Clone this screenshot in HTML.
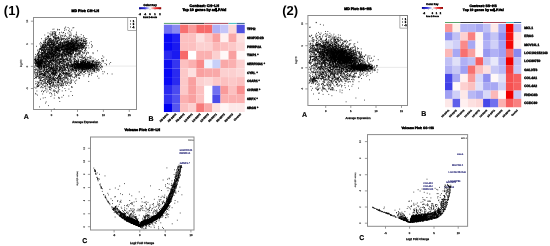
<!DOCTYPE html>
<html><head><meta charset="utf-8"><title>Figure</title>
<style>html,body{margin:0;padding:0;background:#fff;width:550px;height:246px;overflow:hidden}svg{display:block}</style>
</head><body>
<svg xmlns="http://www.w3.org/2000/svg" width="550" height="246" viewBox="0 0 550 246" font-family="Liberation Sans, Arial, sans-serif" text-rendering="geometricPrecision"><text x="11.8" y="14.7" font-size="13" text-anchor="middle" font-weight="bold" fill="#000">(1)</text>
<text x="290.2" y="14.7" font-size="13" text-anchor="middle" font-weight="bold" fill="#000">(2)</text>
<rect x="33.5" y="17.5" width="103.0" height="92.0" fill="none" stroke="#8c8c8c" stroke-width="1"/>
<text x="85.3" y="11.7" font-size="3.6" text-anchor="middle" font-weight="bold" fill="#000" stroke="#000" stroke-width="0.50">MD Plot: CH~LH</text>
<line x1="30.9" y1="21.2" x2="33.5" y2="21.2" stroke="#808080" stroke-width="0.8"/>
<text x="27.6" y="21.2" font-size="2.6" text-anchor="middle" fill="#333" stroke="#333" stroke-width="0.13" transform="rotate(-90 27.6 21.2)" dominant-baseline="central">10</text>
<line x1="30.9" y1="43.9" x2="33.5" y2="43.9" stroke="#808080" stroke-width="0.8"/>
<text x="27.6" y="43.9" font-size="2.6" text-anchor="middle" fill="#333" stroke="#333" stroke-width="0.13" transform="rotate(-90 27.6 43.9)" dominant-baseline="central">5</text>
<line x1="30.9" y1="66.4" x2="33.5" y2="66.4" stroke="#808080" stroke-width="0.8"/>
<text x="27.6" y="66.4" font-size="2.6" text-anchor="middle" fill="#333" stroke="#333" stroke-width="0.13" transform="rotate(-90 27.6 66.4)" dominant-baseline="central">0</text>
<line x1="30.9" y1="88.5" x2="33.5" y2="88.5" stroke="#808080" stroke-width="0.8"/>
<text x="27.6" y="88.5" font-size="2.6" text-anchor="middle" fill="#333" stroke="#333" stroke-width="0.13" transform="rotate(-90 27.6 88.5)" dominant-baseline="central">-5</text>
<line x1="51.4" y1="109.5" x2="51.4" y2="111.9" stroke="#808080" stroke-width="0.8"/>
<text x="51.4" y="116.3" font-size="2.7" text-anchor="middle" fill="#222" stroke="#222" stroke-width="0.27">0</text>
<line x1="77.5" y1="109.5" x2="77.5" y2="111.9" stroke="#808080" stroke-width="0.8"/>
<text x="77.5" y="116.3" font-size="2.7" text-anchor="middle" fill="#222" stroke="#222" stroke-width="0.27">5</text>
<line x1="103.4" y1="109.5" x2="103.4" y2="111.9" stroke="#808080" stroke-width="0.8"/>
<text x="103.4" y="116.3" font-size="2.7" text-anchor="middle" fill="#222" stroke="#222" stroke-width="0.27">10</text>
<line x1="129.3" y1="109.5" x2="129.3" y2="111.9" stroke="#808080" stroke-width="0.8"/>
<text x="129.3" y="116.3" font-size="2.7" text-anchor="middle" fill="#222" stroke="#222" stroke-width="0.27">15</text>
<text x="85.2" y="123.3" font-size="2.9" text-anchor="middle" fill="#111" stroke="#111" stroke-width="0.29">Average Expression</text>
<text x="20.7" y="63.3" font-size="2.85" text-anchor="middle" fill="#444" stroke="#444" stroke-width="0.17" transform="rotate(-90 20.7 63.3)" dominant-baseline="central">logFC</text>
<rect x="127.8" y="17.6" width="8.799999999999997" height="12.799999999999997" fill="none" stroke="#777" stroke-width="0.6"/>
<text x="130.4" y="21.8" font-size="3" text-anchor="middle" font-weight="bold" fill="#000" stroke="#000" stroke-width="0.42">&#183;</text>
<text x="133.4" y="21.8" font-size="2.6" text-anchor="middle" font-weight="bold" fill="#000" stroke="#000" stroke-width="0.36">1</text>
<text x="130.4" y="24.900000000000002" font-size="3" text-anchor="middle" font-weight="bold" fill="#000" stroke="#000" stroke-width="0.42">&#183;</text>
<text x="133.4" y="24.900000000000002" font-size="2.6" text-anchor="middle" font-weight="bold" fill="#000" stroke="#000" stroke-width="0.36">0</text>
<text x="130.4" y="28.0" font-size="3" text-anchor="middle" font-weight="bold" fill="#000" stroke="#000" stroke-width="0.42">&#183;</text>
<text x="133.4" y="28.0" font-size="2.6" text-anchor="middle" font-weight="bold" fill="#000" stroke="#000" stroke-width="0.36">-1</text>
<text x="26.2" y="119.2" font-size="7" text-anchor="middle" font-weight="bold" fill="#000" stroke="#000" stroke-width="0.14">A</text>
<line x1="34" y1="66.1" x2="136" y2="66.1" stroke="#e4e4e4" stroke-width="0.8"/>
<rect x="307.9" y="15.5" width="99.60000000000002" height="90.0" fill="none" stroke="#8c8c8c" stroke-width="1"/>
<text x="358" y="9.7" font-size="3.6" text-anchor="middle" font-weight="bold" fill="#000" stroke="#000" stroke-width="0.50">MD Plot: SS~HS</text>
<line x1="305.29999999999995" y1="23.8" x2="307.9" y2="23.8" stroke="#808080" stroke-width="0.8"/>
<text x="302.2" y="23.8" font-size="2.6" text-anchor="middle" fill="#333" stroke="#333" stroke-width="0.13" transform="rotate(-90 302.2 23.8)" dominant-baseline="central">10</text>
<line x1="305.29999999999995" y1="45.7" x2="307.9" y2="45.7" stroke="#808080" stroke-width="0.8"/>
<text x="302.2" y="45.7" font-size="2.6" text-anchor="middle" fill="#333" stroke="#333" stroke-width="0.13" transform="rotate(-90 302.2 45.7)" dominant-baseline="central">5</text>
<line x1="305.29999999999995" y1="67.7" x2="307.9" y2="67.7" stroke="#808080" stroke-width="0.8"/>
<text x="302.2" y="67.7" font-size="2.6" text-anchor="middle" fill="#333" stroke="#333" stroke-width="0.13" transform="rotate(-90 302.2 67.7)" dominant-baseline="central">0</text>
<line x1="305.29999999999995" y1="88.9" x2="307.9" y2="88.9" stroke="#808080" stroke-width="0.8"/>
<text x="302.2" y="88.9" font-size="2.6" text-anchor="middle" fill="#333" stroke="#333" stroke-width="0.13" transform="rotate(-90 302.2 88.9)" dominant-baseline="central">-5</text>
<line x1="325.7" y1="105.5" x2="325.7" y2="107.9" stroke="#808080" stroke-width="0.8"/>
<text x="325.7" y="111.8" font-size="2.7" text-anchor="middle" fill="#222" stroke="#222" stroke-width="0.27">0</text>
<line x1="350.8" y1="105.5" x2="350.8" y2="107.9" stroke="#808080" stroke-width="0.8"/>
<text x="350.8" y="111.8" font-size="2.7" text-anchor="middle" fill="#222" stroke="#222" stroke-width="0.27">5</text>
<line x1="376" y1="105.5" x2="376" y2="107.9" stroke="#808080" stroke-width="0.8"/>
<text x="376" y="111.8" font-size="2.7" text-anchor="middle" fill="#222" stroke="#222" stroke-width="0.27">10</text>
<line x1="401.5" y1="105.5" x2="401.5" y2="107.9" stroke="#808080" stroke-width="0.8"/>
<text x="401.5" y="111.8" font-size="2.7" text-anchor="middle" fill="#222" stroke="#222" stroke-width="0.27">15</text>
<text x="358" y="119.3" font-size="2.8129999999999997" text-anchor="middle" fill="#111" stroke="#111" stroke-width="0.28">Average Expression</text>
<text x="296.1" y="60" font-size="2.7645" text-anchor="middle" fill="#444" stroke="#444" stroke-width="0.17" transform="rotate(-90 296.1 60)" dominant-baseline="central">logFC</text>
<rect x="399.9" y="15.5" width="7.600000000000023" height="12.600000000000001" fill="none" stroke="#777" stroke-width="0.6"/>
<text x="402.5" y="19.7" font-size="3" text-anchor="middle" font-weight="bold" fill="#000" stroke="#000" stroke-width="0.42">&#183;</text>
<text x="405.5" y="19.7" font-size="2.6" text-anchor="middle" font-weight="bold" fill="#000" stroke="#000" stroke-width="0.36">1</text>
<text x="402.5" y="22.8" font-size="3" text-anchor="middle" font-weight="bold" fill="#000" stroke="#000" stroke-width="0.42">&#183;</text>
<text x="405.5" y="22.8" font-size="2.6" text-anchor="middle" font-weight="bold" fill="#000" stroke="#000" stroke-width="0.36">0</text>
<text x="402.5" y="25.9" font-size="3" text-anchor="middle" font-weight="bold" fill="#000" stroke="#000" stroke-width="0.42">&#183;</text>
<text x="405.5" y="25.9" font-size="2.6" text-anchor="middle" font-weight="bold" fill="#000" stroke="#000" stroke-width="0.36">-1</text>
<text x="304.6" y="116.7" font-size="7" text-anchor="middle" font-weight="bold" fill="#000" stroke="#000" stroke-width="0.14">A</text>
<line x1="308.5" y1="67.4" x2="407" y2="67.4" stroke="#e4e4e4" stroke-width="0.8"/>
<rect x="163.90" y="24.70" width="8.13" height="8.78" fill="#7070f0"/>
<rect x="171.98" y="24.70" width="8.13" height="8.78" fill="#8a8af0"/>
<rect x="180.06" y="24.70" width="8.13" height="8.78" fill="#f77070"/>
<rect x="188.14" y="24.70" width="8.13" height="8.78" fill="#f99a9a"/>
<rect x="196.22" y="24.70" width="8.13" height="8.78" fill="#f76a6a"/>
<rect x="204.30" y="24.70" width="8.13" height="8.78" fill="#f76a6a"/>
<rect x="212.38" y="24.70" width="8.13" height="8.78" fill="#b0b0f5"/>
<rect x="220.46" y="24.70" width="8.13" height="8.78" fill="#c5c5f8"/>
<rect x="228.54" y="24.70" width="8.13" height="8.78" fill="#fcd8d8"/>
<rect x="236.62" y="24.70" width="8.13" height="8.78" fill="#5050e0"/>
<rect x="163.90" y="33.43" width="8.13" height="8.78" fill="#0a0af5"/>
<rect x="171.98" y="33.43" width="8.13" height="8.78" fill="#1e1ef5"/>
<rect x="180.06" y="33.43" width="8.13" height="8.78" fill="#fcc0c0"/>
<rect x="188.14" y="33.43" width="8.13" height="8.78" fill="#fcc0c0"/>
<rect x="196.22" y="33.43" width="8.13" height="8.78" fill="#fde0e0"/>
<rect x="204.30" y="33.43" width="8.13" height="8.78" fill="#fcc8c8"/>
<rect x="212.38" y="33.43" width="8.13" height="8.78" fill="#f9a0a0"/>
<rect x="220.46" y="33.43" width="8.13" height="8.78" fill="#fff0f0"/>
<rect x="228.54" y="33.43" width="8.13" height="8.78" fill="#f9a8a8"/>
<rect x="236.62" y="33.43" width="8.13" height="8.78" fill="#fde0e0"/>
<rect x="163.90" y="42.16" width="8.13" height="8.78" fill="#0808f5"/>
<rect x="171.98" y="42.16" width="8.13" height="8.78" fill="#1a1af0"/>
<rect x="180.06" y="42.16" width="8.13" height="8.78" fill="#fcc0c0"/>
<rect x="188.14" y="42.16" width="8.13" height="8.78" fill="#fcc0c0"/>
<rect x="196.22" y="42.16" width="8.13" height="8.78" fill="#fcd0d0"/>
<rect x="204.30" y="42.16" width="8.13" height="8.78" fill="#fcd0d0"/>
<rect x="212.38" y="42.16" width="8.13" height="8.78" fill="#fbb8b8"/>
<rect x="220.46" y="42.16" width="8.13" height="8.78" fill="#fcc0c0"/>
<rect x="228.54" y="42.16" width="8.13" height="8.78" fill="#fcc8c8"/>
<rect x="236.62" y="42.16" width="8.13" height="8.78" fill="#fcd8d8"/>
<rect x="163.90" y="50.89" width="8.13" height="8.78" fill="#2828f0"/>
<rect x="171.98" y="50.89" width="8.13" height="8.78" fill="#1a1af0"/>
<rect x="180.06" y="50.89" width="8.13" height="8.78" fill="#f76a6a"/>
<rect x="188.14" y="50.89" width="8.13" height="8.78" fill="#ffffff"/>
<rect x="196.22" y="50.89" width="8.13" height="8.78" fill="#fbb0b0"/>
<rect x="204.30" y="50.89" width="8.13" height="8.78" fill="#fbb0b0"/>
<rect x="212.38" y="50.89" width="8.13" height="8.78" fill="#fcd0d0"/>
<rect x="220.46" y="50.89" width="8.13" height="8.78" fill="#fff8f8"/>
<rect x="228.54" y="50.89" width="8.13" height="8.78" fill="#f9a0a0"/>
<rect x="236.62" y="50.89" width="8.13" height="8.78" fill="#fff8f8"/>
<rect x="163.90" y="59.62" width="8.13" height="8.78" fill="#1010f0"/>
<rect x="171.98" y="59.62" width="8.13" height="8.78" fill="#3535f0"/>
<rect x="180.06" y="59.62" width="8.13" height="8.78" fill="#fcc0c0"/>
<rect x="188.14" y="59.62" width="8.13" height="8.78" fill="#fbb0b0"/>
<rect x="196.22" y="59.62" width="8.13" height="8.78" fill="#f98a8a"/>
<rect x="204.30" y="59.62" width="8.13" height="8.78" fill="#f0f4ff"/>
<rect x="212.38" y="59.62" width="8.13" height="8.78" fill="#c8d0f8"/>
<rect x="220.46" y="59.62" width="8.13" height="8.78" fill="#f9a8a8"/>
<rect x="228.54" y="59.62" width="8.13" height="8.78" fill="#fbb0b0"/>
<rect x="236.62" y="59.62" width="8.13" height="8.78" fill="#fcd0d0"/>
<rect x="163.90" y="68.35" width="8.13" height="8.78" fill="#0808f5"/>
<rect x="171.98" y="68.35" width="8.13" height="8.78" fill="#2a2af0"/>
<rect x="180.06" y="68.35" width="8.13" height="8.78" fill="#fcc8c8"/>
<rect x="188.14" y="68.35" width="8.13" height="8.78" fill="#fde0e0"/>
<rect x="196.22" y="68.35" width="8.13" height="8.78" fill="#f9a0a0"/>
<rect x="204.30" y="68.35" width="8.13" height="8.78" fill="#f9a8a8"/>
<rect x="212.38" y="68.35" width="8.13" height="8.78" fill="#f9a8a8"/>
<rect x="220.46" y="68.35" width="8.13" height="8.78" fill="#fcd0d0"/>
<rect x="228.54" y="68.35" width="8.13" height="8.78" fill="#fcd0d0"/>
<rect x="236.62" y="68.35" width="8.13" height="8.78" fill="#fcd8d8"/>
<rect x="163.90" y="77.08" width="8.13" height="8.78" fill="#0a0af5"/>
<rect x="171.98" y="77.08" width="8.13" height="8.78" fill="#2a2af0"/>
<rect x="180.06" y="77.08" width="8.13" height="8.78" fill="#fcc8c8"/>
<rect x="188.14" y="77.08" width="8.13" height="8.78" fill="#f9a0a0"/>
<rect x="196.22" y="77.08" width="8.13" height="8.78" fill="#fcd0d0"/>
<rect x="204.30" y="77.08" width="8.13" height="8.78" fill="#fcd8d8"/>
<rect x="212.38" y="77.08" width="8.13" height="8.78" fill="#fcc8c8"/>
<rect x="220.46" y="77.08" width="8.13" height="8.78" fill="#fcc0c0"/>
<rect x="228.54" y="77.08" width="8.13" height="8.78" fill="#fcc8c8"/>
<rect x="236.62" y="77.08" width="8.13" height="8.78" fill="#fcc0c0"/>
<rect x="163.90" y="85.81" width="8.13" height="8.78" fill="#2a2af0"/>
<rect x="171.98" y="85.81" width="8.13" height="8.78" fill="#4a4af0"/>
<rect x="180.06" y="85.81" width="8.13" height="8.78" fill="#fcc8c8"/>
<rect x="188.14" y="85.81" width="8.13" height="8.78" fill="#f9a0a0"/>
<rect x="196.22" y="85.81" width="8.13" height="8.78" fill="#fcc0c0"/>
<rect x="204.30" y="85.81" width="8.13" height="8.78" fill="#ffffff"/>
<rect x="212.38" y="85.81" width="8.13" height="8.78" fill="#7070f0"/>
<rect x="220.46" y="85.81" width="8.13" height="8.78" fill="#f99a9a"/>
<rect x="228.54" y="85.81" width="8.13" height="8.78" fill="#fcc0c0"/>
<rect x="236.62" y="85.81" width="8.13" height="8.78" fill="#f99090"/>
<rect x="163.90" y="94.54" width="8.13" height="8.78" fill="#3030f0"/>
<rect x="171.98" y="94.54" width="8.13" height="8.78" fill="#5050f0"/>
<rect x="180.06" y="94.54" width="8.13" height="8.78" fill="#fbb0b0"/>
<rect x="188.14" y="94.54" width="8.13" height="8.78" fill="#f9a0a0"/>
<rect x="196.22" y="94.54" width="8.13" height="8.78" fill="#fcc0c0"/>
<rect x="204.30" y="94.54" width="8.13" height="8.78" fill="#ffffff"/>
<rect x="212.38" y="94.54" width="8.13" height="8.78" fill="#4a4ae8"/>
<rect x="220.46" y="94.54" width="8.13" height="8.78" fill="#fbb0b0"/>
<rect x="228.54" y="94.54" width="8.13" height="8.78" fill="#fbb0b0"/>
<rect x="236.62" y="94.54" width="8.13" height="8.78" fill="#fbb0b0"/>
<rect x="163.90" y="103.27" width="8.13" height="8.78" fill="#0000f0"/>
<rect x="171.98" y="103.27" width="8.13" height="8.78" fill="#5555f0"/>
<rect x="180.06" y="103.27" width="8.13" height="8.78" fill="#fcc0c0"/>
<rect x="188.14" y="103.27" width="8.13" height="8.78" fill="#fcd0d0"/>
<rect x="196.22" y="103.27" width="8.13" height="8.78" fill="#f77a7a"/>
<rect x="204.30" y="103.27" width="8.13" height="8.78" fill="#f9a8a8"/>
<rect x="212.38" y="103.27" width="8.13" height="8.78" fill="#fde0e0"/>
<rect x="220.46" y="103.27" width="8.13" height="8.78" fill="#fff5f5"/>
<rect x="228.54" y="103.27" width="8.13" height="8.78" fill="#fde8e8"/>
<rect x="236.62" y="103.27" width="8.13" height="8.78" fill="#fde8e8"/>
<rect x="163.9" y="22.9" width="16.19999999999999" height="1" fill="#5aa36a"/>
<rect x="180.1" y="22.9" width="24.200000000000017" height="1" fill="#333333"/>
<rect x="204.3" y="22.9" width="24.19999999999999" height="1" fill="#a84a5a"/>
<rect x="228.5" y="22.9" width="8.099999999999994" height="1" fill="#3fbfbf"/>
<rect x="236.6" y="22.9" width="8.099999999999994" height="1" fill="#2f5f8f"/>
<text x="246.9" y="30.064999999999998" font-size="3.2" text-anchor="start" font-weight="bold" fill="#111" stroke="#111" stroke-width="0.45">TFPI2</text>
<text x="246.9" y="38.795" font-size="3.2" text-anchor="start" font-weight="bold" fill="#111" stroke="#111" stroke-width="0.45">SH3PXD2B</text>
<text x="246.9" y="47.525000000000006" font-size="3.2" text-anchor="start" font-weight="bold" fill="#111" stroke="#111" stroke-width="0.45">PWWP2A</text>
<text x="246.9" y="56.254999999999995" font-size="3.2" text-anchor="start" font-weight="bold" fill="#111" stroke="#111" stroke-width="0.45">TIMP1 *</text>
<text x="246.9" y="64.985" font-size="3.2" text-anchor="start" font-weight="bold" fill="#111" stroke="#111" stroke-width="0.45">SERPINA1 *</text>
<text x="246.9" y="73.715" font-size="3.2" text-anchor="start" font-weight="bold" fill="#111" stroke="#111" stroke-width="0.45">CYRL *</text>
<text x="246.9" y="82.44500000000001" font-size="3.2" text-anchor="start" font-weight="bold" fill="#111" stroke="#111" stroke-width="0.45">CSAR1 *</text>
<text x="246.9" y="91.17500000000001" font-size="3.2" text-anchor="start" font-weight="bold" fill="#111" stroke="#111" stroke-width="0.45">CHRNE *</text>
<text x="246.9" y="99.905" font-size="3.2" text-anchor="start" font-weight="bold" fill="#111" stroke="#111" stroke-width="0.45">SRPX *</text>
<text x="246.9" y="108.635" font-size="3.2" text-anchor="start" font-weight="bold" fill="#111" stroke="#111" stroke-width="0.45">SRGN *</text>
<text x="168.54" y="114.5" font-size="2.6" text-anchor="end" font-weight="bold" fill="#222" stroke="#222" stroke-width="0.36" transform="rotate(-45 168.54 114.5)">HS-SSY1</text>
<text x="176.62" y="114.5" font-size="2.6" text-anchor="end" font-weight="bold" fill="#222" stroke="#222" stroke-width="0.36" transform="rotate(-45 176.62 114.5)">HS-SSY2</text>
<text x="184.7" y="114.5" font-size="2.6" text-anchor="end" font-weight="bold" fill="#222" stroke="#222" stroke-width="0.36" transform="rotate(-45 184.7 114.5)">HS-SSY3</text>
<text x="192.78" y="114.5" font-size="2.6" text-anchor="end" font-weight="bold" fill="#222" stroke="#222" stroke-width="0.36" transform="rotate(-45 192.78 114.5)">LH-SSY1</text>
<text x="200.86" y="114.5" font-size="2.6" text-anchor="end" font-weight="bold" fill="#222" stroke="#222" stroke-width="0.36" transform="rotate(-45 200.86 114.5)">LH-SSY2</text>
<text x="208.94" y="114.5" font-size="2.6" text-anchor="end" font-weight="bold" fill="#222" stroke="#222" stroke-width="0.36" transform="rotate(-45 208.94 114.5)">LH-SSY3</text>
<text x="217.02" y="114.5" font-size="2.6" text-anchor="end" font-weight="bold" fill="#222" stroke="#222" stroke-width="0.36" transform="rotate(-45 217.02 114.5)">SS-SSY1</text>
<text x="225.1" y="114.5" font-size="2.6" text-anchor="end" font-weight="bold" fill="#222" stroke="#222" stroke-width="0.36" transform="rotate(-45 225.1 114.5)">SS-SSY2</text>
<text x="233.18" y="114.5" font-size="2.6" text-anchor="end" font-weight="bold" fill="#222" stroke="#222" stroke-width="0.36" transform="rotate(-45 233.18 114.5)">SS-SSY3</text>
<text x="241.26" y="114.5" font-size="2.6" text-anchor="end" font-weight="bold" fill="#222" stroke="#222" stroke-width="0.36" transform="rotate(-45 241.26 114.5)">Control</text>
<defs><linearGradient id="g139" x1="0" x2="1" y1="0" y2="0"><stop offset="0" stop-color="#00008b"/><stop offset="0.25" stop-color="#3030e0"/><stop offset="0.5" stop-color="#ffffff"/><stop offset="0.75" stop-color="#f03030"/><stop offset="1" stop-color="#8b0000"/></linearGradient></defs>
<rect x="139.05" y="7.2" width="22.149999999999977" height="1.9999999999999991" fill="url(#g139)"/>
<text x="150.125" y="5.6" font-size="2.8" text-anchor="middle" font-weight="bold" fill="#000" stroke="#000" stroke-width="0.39">Color Key</text>
<line x1="139.9" y1="9.2" x2="139.9" y2="10.1" stroke="#555" stroke-width="0.4"/>
<text x="139.9" y="14.5" font-size="2.5" text-anchor="middle" font-weight="bold" fill="#000" stroke="#000" stroke-width="0.35">-2</text>
<line x1="145.1" y1="9.2" x2="145.1" y2="10.1" stroke="#555" stroke-width="0.4"/>
<text x="145.1" y="14.5" font-size="2.5" text-anchor="middle" font-weight="bold" fill="#000" stroke="#000" stroke-width="0.35">-1</text>
<line x1="150" y1="9.2" x2="150" y2="10.1" stroke="#555" stroke-width="0.4"/>
<text x="150" y="14.5" font-size="2.5" text-anchor="middle" font-weight="bold" fill="#000" stroke="#000" stroke-width="0.35">0</text>
<line x1="155" y1="9.2" x2="155" y2="10.1" stroke="#555" stroke-width="0.4"/>
<text x="155" y="14.5" font-size="2.5" text-anchor="middle" font-weight="bold" fill="#000" stroke="#000" stroke-width="0.35">1</text>
<line x1="159.9" y1="9.2" x2="159.9" y2="10.1" stroke="#555" stroke-width="0.4"/>
<text x="159.9" y="14.5" font-size="2.5" text-anchor="middle" font-weight="bold" fill="#000" stroke="#000" stroke-width="0.35">2</text>
<text x="150.125" y="17.7" font-size="2.3" text-anchor="middle" font-weight="bold" fill="#000" stroke="#000" stroke-width="0.32">Row Z-Score</text>
<text x="204.3" y="6.7" font-size="3.65" text-anchor="middle" font-weight="bold" fill="#000" stroke="#000" stroke-width="0.51">Contrast: CH~LH</text>
<text x="204.3" y="10.7" font-size="3.65" text-anchor="middle" font-weight="bold" fill="#000" stroke="#000" stroke-width="0.51">Top 10 genes by adj.P.Val</text>
<text x="151.1" y="121.3" font-size="7" text-anchor="middle" font-weight="bold" fill="#000" stroke="#000" stroke-width="0.14">B</text>
<rect x="445.00" y="23.90" width="7.67" height="8.38" fill="#f99595"/>
<rect x="452.62" y="23.90" width="7.67" height="8.38" fill="#fdf0ea"/>
<rect x="460.24" y="23.90" width="7.67" height="8.38" fill="#b5b5f5"/>
<rect x="467.86" y="23.90" width="7.67" height="8.38" fill="#b5b5f5"/>
<rect x="475.48" y="23.90" width="7.67" height="8.38" fill="#a8a8f3"/>
<rect x="483.10" y="23.90" width="7.67" height="8.38" fill="#c0c0f5"/>
<rect x="490.72" y="23.90" width="7.67" height="8.38" fill="#fde8e8"/>
<rect x="498.34" y="23.90" width="7.67" height="8.38" fill="#a8a8f3"/>
<rect x="505.96" y="23.90" width="7.67" height="8.38" fill="#f50000"/>
<rect x="513.58" y="23.90" width="7.67" height="8.38" fill="#b8b8f5"/>
<rect x="445.00" y="32.23" width="7.67" height="8.38" fill="#8f8ff0"/>
<rect x="452.62" y="32.23" width="7.67" height="8.38" fill="#c0c0f5"/>
<rect x="460.24" y="32.23" width="7.67" height="8.38" fill="#fdd0d0"/>
<rect x="467.86" y="32.23" width="7.67" height="8.38" fill="#f98080"/>
<rect x="475.48" y="32.23" width="7.67" height="8.38" fill="#fff5f0"/>
<rect x="483.10" y="32.23" width="7.67" height="8.38" fill="#a5a5f3"/>
<rect x="490.72" y="32.23" width="7.67" height="8.38" fill="#c5c5f5"/>
<rect x="498.34" y="32.23" width="7.67" height="8.38" fill="#9090f0"/>
<rect x="505.96" y="32.23" width="7.67" height="8.38" fill="#f81010"/>
<rect x="513.58" y="32.23" width="7.67" height="8.38" fill="#fde8e8"/>
<rect x="445.00" y="40.56" width="7.67" height="8.38" fill="#e0e0f8"/>
<rect x="452.62" y="40.56" width="7.67" height="8.38" fill="#d0d0f8"/>
<rect x="460.24" y="40.56" width="7.67" height="8.38" fill="#f98a8a"/>
<rect x="467.86" y="40.56" width="7.67" height="8.38" fill="#a8a8f3"/>
<rect x="475.48" y="40.56" width="7.67" height="8.38" fill="#fff8f8"/>
<rect x="483.10" y="40.56" width="7.67" height="8.38" fill="#b0b0f5"/>
<rect x="490.72" y="40.56" width="7.67" height="8.38" fill="#d0d0f8"/>
<rect x="498.34" y="40.56" width="7.67" height="8.38" fill="#a0a0f3"/>
<rect x="505.96" y="40.56" width="7.67" height="8.38" fill="#f50808"/>
<rect x="513.58" y="40.56" width="7.67" height="8.38" fill="#fdf0f0"/>
<rect x="445.00" y="48.89" width="7.67" height="8.38" fill="#fbb8b8"/>
<rect x="452.62" y="48.89" width="7.67" height="8.38" fill="#a8a8f3"/>
<rect x="460.24" y="48.89" width="7.67" height="8.38" fill="#f77070"/>
<rect x="467.86" y="48.89" width="7.67" height="8.38" fill="#f9a0a0"/>
<rect x="475.48" y="48.89" width="7.67" height="8.38" fill="#fff8f8"/>
<rect x="483.10" y="48.89" width="7.67" height="8.38" fill="#9898f0"/>
<rect x="490.72" y="48.89" width="7.67" height="8.38" fill="#b0b0f5"/>
<rect x="498.34" y="48.89" width="7.67" height="8.38" fill="#a0a0f3"/>
<rect x="505.96" y="48.89" width="7.67" height="8.38" fill="#f77070"/>
<rect x="513.58" y="48.89" width="7.67" height="8.38" fill="#8888f0"/>
<rect x="445.00" y="57.22" width="7.67" height="8.38" fill="#c0c0f5"/>
<rect x="452.62" y="57.22" width="7.67" height="8.38" fill="#e0e0f8"/>
<rect x="460.24" y="57.22" width="7.67" height="8.38" fill="#b0b0f5"/>
<rect x="467.86" y="57.22" width="7.67" height="8.38" fill="#c0c0f5"/>
<rect x="475.48" y="57.22" width="7.67" height="8.38" fill="#f76060"/>
<rect x="483.10" y="57.22" width="7.67" height="8.38" fill="#c8c8f5"/>
<rect x="490.72" y="57.22" width="7.67" height="8.38" fill="#e8e8fa"/>
<rect x="498.34" y="57.22" width="7.67" height="8.38" fill="#b0b0f5"/>
<rect x="505.96" y="57.22" width="7.67" height="8.38" fill="#f00000"/>
<rect x="513.58" y="57.22" width="7.67" height="8.38" fill="#c0c0f5"/>
<rect x="445.00" y="65.55" width="7.67" height="8.38" fill="#b0b0f5"/>
<rect x="452.62" y="65.55" width="7.67" height="8.38" fill="#c8c8f5"/>
<rect x="460.24" y="65.55" width="7.67" height="8.38" fill="#a0a0f3"/>
<rect x="467.86" y="65.55" width="7.67" height="8.38" fill="#f77070"/>
<rect x="475.48" y="65.55" width="7.67" height="8.38" fill="#fbc0c0"/>
<rect x="483.10" y="65.55" width="7.67" height="8.38" fill="#fde0e0"/>
<rect x="490.72" y="65.55" width="7.67" height="8.38" fill="#c8c8f5"/>
<rect x="498.34" y="65.55" width="7.67" height="8.38" fill="#b8b8f5"/>
<rect x="505.96" y="65.55" width="7.67" height="8.38" fill="#f54040"/>
<rect x="513.58" y="65.55" width="7.67" height="8.38" fill="#c8c8f5"/>
<rect x="445.00" y="73.88" width="7.67" height="8.38" fill="#4848e8"/>
<rect x="452.62" y="73.88" width="7.67" height="8.38" fill="#a8a8f3"/>
<rect x="460.24" y="73.88" width="7.67" height="8.38" fill="#fff0f0"/>
<rect x="467.86" y="73.88" width="7.67" height="8.38" fill="#f99a9a"/>
<rect x="475.48" y="73.88" width="7.67" height="8.38" fill="#d8d8f8"/>
<rect x="483.10" y="73.88" width="7.67" height="8.38" fill="#9090f0"/>
<rect x="490.72" y="73.88" width="7.67" height="8.38" fill="#fff8f8"/>
<rect x="498.34" y="73.88" width="7.67" height="8.38" fill="#e0e0f8"/>
<rect x="505.96" y="73.88" width="7.67" height="8.38" fill="#f75050"/>
<rect x="513.58" y="73.88" width="7.67" height="8.38" fill="#f76060"/>
<rect x="445.00" y="82.21" width="7.67" height="8.38" fill="#4040e8"/>
<rect x="452.62" y="82.21" width="7.67" height="8.38" fill="#fff8f8"/>
<rect x="460.24" y="82.21" width="7.67" height="8.38" fill="#fdd0d0"/>
<rect x="467.86" y="82.21" width="7.67" height="8.38" fill="#fbc0c0"/>
<rect x="475.48" y="82.21" width="7.67" height="8.38" fill="#e0e0f8"/>
<rect x="483.10" y="82.21" width="7.67" height="8.38" fill="#a8a8f3"/>
<rect x="490.72" y="82.21" width="7.67" height="8.38" fill="#a8a8f3"/>
<rect x="498.34" y="82.21" width="7.67" height="8.38" fill="#d0d0f8"/>
<rect x="505.96" y="82.21" width="7.67" height="8.38" fill="#f75050"/>
<rect x="513.58" y="82.21" width="7.67" height="8.38" fill="#f76060"/>
<rect x="445.00" y="90.54" width="7.67" height="8.38" fill="#a0a0f3"/>
<rect x="452.62" y="90.54" width="7.67" height="8.38" fill="#d0d0f8"/>
<rect x="460.24" y="90.54" width="7.67" height="8.38" fill="#fde8e8"/>
<rect x="467.86" y="90.54" width="7.67" height="8.38" fill="#b8b8f5"/>
<rect x="475.48" y="90.54" width="7.67" height="8.38" fill="#a8a8f3"/>
<rect x="483.10" y="90.54" width="7.67" height="8.38" fill="#d8d8f8"/>
<rect x="490.72" y="90.54" width="7.67" height="8.38" fill="#fbb8b8"/>
<rect x="498.34" y="90.54" width="7.67" height="8.38" fill="#fff8f8"/>
<rect x="505.96" y="90.54" width="7.67" height="8.38" fill="#f00000"/>
<rect x="513.58" y="90.54" width="7.67" height="8.38" fill="#c8c8f5"/>
<rect x="445.00" y="98.87" width="7.67" height="8.38" fill="#fde8e8"/>
<rect x="452.62" y="98.87" width="7.67" height="8.38" fill="#6060ea"/>
<rect x="460.24" y="98.87" width="7.67" height="8.38" fill="#fff0f0"/>
<rect x="467.86" y="98.87" width="7.67" height="8.38" fill="#fde0e0"/>
<rect x="475.48" y="98.87" width="7.67" height="8.38" fill="#fdd8d8"/>
<rect x="483.10" y="98.87" width="7.67" height="8.38" fill="#4848e8"/>
<rect x="490.72" y="98.87" width="7.67" height="8.38" fill="#7070ee"/>
<rect x="498.34" y="98.87" width="7.67" height="8.38" fill="#fbb0b0"/>
<rect x="505.96" y="98.87" width="7.67" height="8.38" fill="#f76060"/>
<rect x="513.58" y="98.87" width="7.67" height="8.38" fill="#f98080"/>
<rect x="445" y="22" width="15.199999999999989" height="1" fill="#5aa36a"/>
<rect x="460.2" y="22" width="22.900000000000034" height="1" fill="#333333"/>
<rect x="483.1" y="22" width="22.899999999999977" height="1" fill="#a84a5a"/>
<rect x="506" y="22" width="7.600000000000023" height="1" fill="#3fbfbf"/>
<rect x="513.6" y="22" width="7.600000000000023" height="1" fill="#2f5f8f"/>
<text x="524.2" y="29.064999999999998" font-size="3.3" text-anchor="start" font-weight="bold" fill="#111" stroke="#111" stroke-width="0.46">MCL1</text>
<text x="524.2" y="37.394999999999996" font-size="3.3" text-anchor="start" font-weight="bold" fill="#111" stroke="#111" stroke-width="0.46">ERAS</text>
<text x="524.2" y="45.724999999999994" font-size="3.3" text-anchor="start" font-weight="bold" fill="#111" stroke="#111" stroke-width="0.46">MOV10L1</text>
<text x="524.2" y="54.055" font-size="3.3" text-anchor="start" font-weight="bold" fill="#111" stroke="#111" stroke-width="0.46">LOC102152143</text>
<text x="524.2" y="62.385" font-size="3.3" text-anchor="start" font-weight="bold" fill="#111" stroke="#111" stroke-width="0.46">LOC80750</text>
<text x="524.2" y="70.715" font-size="3.3" text-anchor="start" font-weight="bold" fill="#111" stroke="#111" stroke-width="0.46">GALNT6</text>
<text x="524.2" y="79.045" font-size="3.3" text-anchor="start" font-weight="bold" fill="#111" stroke="#111" stroke-width="0.46">COL4A1</text>
<text x="524.2" y="87.375" font-size="3.3" text-anchor="start" font-weight="bold" fill="#111" stroke="#111" stroke-width="0.46">COL4A2</text>
<text x="524.2" y="95.70500000000001" font-size="3.3" text-anchor="start" font-weight="bold" fill="#111" stroke="#111" stroke-width="0.46">FNDC3B</text>
<text x="524.2" y="104.035" font-size="3.3" text-anchor="start" font-weight="bold" fill="#111" stroke="#111" stroke-width="0.46">CCDC80</text>
<text x="449.41" y="110.5" font-size="2.35" text-anchor="end" font-weight="bold" fill="#222" stroke="#222" stroke-width="0.33" transform="rotate(-45 449.41 110.5)">HS-SSY1</text>
<text x="457.03" y="110.5" font-size="2.35" text-anchor="end" font-weight="bold" fill="#222" stroke="#222" stroke-width="0.33" transform="rotate(-45 457.03 110.5)">HS-SSY2</text>
<text x="464.65" y="110.5" font-size="2.35" text-anchor="end" font-weight="bold" fill="#222" stroke="#222" stroke-width="0.33" transform="rotate(-45 464.65 110.5)">HS-SSY3</text>
<text x="472.27" y="110.5" font-size="2.35" text-anchor="end" font-weight="bold" fill="#222" stroke="#222" stroke-width="0.33" transform="rotate(-45 472.27 110.5)">LH-SSY1</text>
<text x="479.89" y="110.5" font-size="2.35" text-anchor="end" font-weight="bold" fill="#222" stroke="#222" stroke-width="0.33" transform="rotate(-45 479.89 110.5)">LH-SSY2</text>
<text x="487.51" y="110.5" font-size="2.35" text-anchor="end" font-weight="bold" fill="#222" stroke="#222" stroke-width="0.33" transform="rotate(-45 487.51 110.5)">LH-SSY3</text>
<text x="495.13" y="110.5" font-size="2.35" text-anchor="end" font-weight="bold" fill="#222" stroke="#222" stroke-width="0.33" transform="rotate(-45 495.13 110.5)">SS-SSY1</text>
<text x="502.75" y="110.5" font-size="2.35" text-anchor="end" font-weight="bold" fill="#222" stroke="#222" stroke-width="0.33" transform="rotate(-45 502.75 110.5)">SS-SSY2</text>
<text x="510.37" y="110.5" font-size="2.35" text-anchor="end" font-weight="bold" fill="#222" stroke="#222" stroke-width="0.33" transform="rotate(-45 510.37 110.5)">SS-SSY3</text>
<text x="517.99" y="110.5" font-size="2.35" text-anchor="end" font-weight="bold" fill="#222" stroke="#222" stroke-width="0.33" transform="rotate(-45 517.99 110.5)">Control</text>
<defs><linearGradient id="g421" x1="0" x2="1" y1="0" y2="0"><stop offset="0" stop-color="#00008b"/><stop offset="0.25" stop-color="#3030e0"/><stop offset="0.5" stop-color="#ffffff"/><stop offset="0.75" stop-color="#f03030"/><stop offset="1" stop-color="#8b0000"/></linearGradient></defs>
<rect x="421.9" y="7.0" width="21.100000000000023" height="1.9000000000000004" fill="url(#g421)"/>
<text x="432.45" y="5.4" font-size="2.604" text-anchor="middle" font-weight="bold" fill="#000" stroke="#000" stroke-width="0.36">Color Key</text>
<line x1="424.1" y1="8.9" x2="424.1" y2="9.8" stroke="#555" stroke-width="0.4"/>
<text x="424.1" y="13.5" font-size="2.5" text-anchor="middle" font-weight="bold" fill="#000" stroke="#000" stroke-width="0.35">-2</text>
<line x1="428.4" y1="8.9" x2="428.4" y2="9.8" stroke="#555" stroke-width="0.4"/>
<line x1="432.4" y1="8.9" x2="432.4" y2="9.8" stroke="#555" stroke-width="0.4"/>
<text x="432.4" y="13.5" font-size="2.5" text-anchor="middle" font-weight="bold" fill="#000" stroke="#000" stroke-width="0.35">0</text>
<line x1="436.4" y1="8.9" x2="436.4" y2="9.8" stroke="#555" stroke-width="0.4"/>
<text x="436.4" y="13.5" font-size="2.5" text-anchor="middle" font-weight="bold" fill="#000" stroke="#000" stroke-width="0.35">1</text>
<line x1="440.4" y1="8.9" x2="440.4" y2="9.8" stroke="#555" stroke-width="0.4"/>
<text x="440.4" y="13.5" font-size="2.5" text-anchor="middle" font-weight="bold" fill="#000" stroke="#000" stroke-width="0.35">2</text>
<text x="432.45" y="17.200000000000003" font-size="2.139" text-anchor="middle" font-weight="bold" fill="#000" stroke="#000" stroke-width="0.30">Row Z-Score</text>
<text x="483.2" y="6.5" font-size="3.4" text-anchor="middle" font-weight="bold" fill="#000" stroke="#000" stroke-width="0.48">Contrast: SS~HS</text>
<text x="483.2" y="10.5" font-size="3.4" text-anchor="middle" font-weight="bold" fill="#000" stroke="#000" stroke-width="0.48">Top 10 genes by adj.P.Val</text>
<text x="423.9" y="116" font-size="7" text-anchor="middle" font-weight="bold" fill="#000" stroke="#000" stroke-width="0.14">B</text>
<rect x="90.5" y="137" width="103.5" height="93" fill="none" stroke="#8c8c8c" stroke-width="1"/>
<text x="142.3" y="130.7" font-size="3.6" text-anchor="middle" font-weight="bold" fill="#000" stroke="#000" stroke-width="0.50">Volcano Plot: CH~LH</text>
<line x1="87.9" y1="226.7" x2="90.5" y2="226.7" stroke="#808080" stroke-width="0.8"/>
<text x="84.5" y="226.7" font-size="2.5" text-anchor="middle" fill="#333" stroke="#333" stroke-width="0.12" transform="rotate(-90 84.5 226.7)" dominant-baseline="central">0</text>
<line x1="87.9" y1="213.7" x2="90.5" y2="213.7" stroke="#808080" stroke-width="0.8"/>
<text x="84.5" y="213.7" font-size="2.5" text-anchor="middle" fill="#333" stroke="#333" stroke-width="0.12" transform="rotate(-90 84.5 213.7)" dominant-baseline="central">2</text>
<line x1="87.9" y1="200.6" x2="90.5" y2="200.6" stroke="#808080" stroke-width="0.8"/>
<text x="84.5" y="200.6" font-size="2.5" text-anchor="middle" fill="#333" stroke="#333" stroke-width="0.12" transform="rotate(-90 84.5 200.6)" dominant-baseline="central">4</text>
<line x1="87.9" y1="187.5" x2="90.5" y2="187.5" stroke="#808080" stroke-width="0.8"/>
<text x="84.5" y="187.5" font-size="2.5" text-anchor="middle" fill="#333" stroke="#333" stroke-width="0.12" transform="rotate(-90 84.5 187.5)" dominant-baseline="central">6</text>
<line x1="87.9" y1="174.4" x2="90.5" y2="174.4" stroke="#808080" stroke-width="0.8"/>
<text x="84.5" y="174.4" font-size="2.5" text-anchor="middle" fill="#333" stroke="#333" stroke-width="0.12" transform="rotate(-90 84.5 174.4)" dominant-baseline="central">8</text>
<line x1="87.9" y1="161.3" x2="90.5" y2="161.3" stroke="#808080" stroke-width="0.8"/>
<text x="84.5" y="161.3" font-size="2.5" text-anchor="middle" fill="#333" stroke="#333" stroke-width="0.12" transform="rotate(-90 84.5 161.3)" dominant-baseline="central">10</text>
<line x1="87.9" y1="148.3" x2="90.5" y2="148.3" stroke="#808080" stroke-width="0.8"/>
<text x="84.5" y="148.3" font-size="2.5" text-anchor="middle" fill="#333" stroke="#333" stroke-width="0.12" transform="rotate(-90 84.5 148.3)" dominant-baseline="central">12</text>
<line x1="114.1" y1="230" x2="114.1" y2="232.4" stroke="#808080" stroke-width="0.8"/>
<text x="114.1" y="236" font-size="2.7" text-anchor="middle" fill="#222" stroke="#222" stroke-width="0.27">-5</text>
<line x1="139.8" y1="230" x2="139.8" y2="232.4" stroke="#808080" stroke-width="0.8"/>
<text x="139.8" y="236" font-size="2.7" text-anchor="middle" fill="#222" stroke="#222" stroke-width="0.27">0</text>
<line x1="165.3" y1="230" x2="165.3" y2="232.4" stroke="#808080" stroke-width="0.8"/>
<text x="165.3" y="236" font-size="2.7" text-anchor="middle" fill="#222" stroke="#222" stroke-width="0.27">5</text>
<line x1="190.9" y1="230" x2="190.9" y2="232.4" stroke="#808080" stroke-width="0.8"/>
<text x="190.9" y="236" font-size="2.7" text-anchor="middle" fill="#222" stroke="#222" stroke-width="0.27">10</text>
<text x="142" y="244.1" font-size="2.9432" text-anchor="middle" fill="#111" stroke="#111" stroke-width="0.29">Log2 Fold Change</text>
<text x="77.7" y="178.6" font-size="2.2" text-anchor="middle" fill="#444" stroke="#444" stroke-width="0.13" transform="rotate(-90 77.7 178.6)" dominant-baseline="central">-log10(P-value)</text>
<text x="84.8" y="242.7" font-size="7" text-anchor="middle" font-weight="bold" fill="#000" stroke="#000" stroke-width="0.14">C</text>
<rect x="367.5" y="134.6" width="100.10000000000002" height="91.70000000000002" fill="none" stroke="#8c8c8c" stroke-width="1"/>
<text x="417.7" y="128.6" font-size="3.3" text-anchor="middle" font-weight="bold" fill="#000" stroke="#000" stroke-width="0.46">Volcano Plot: SS~HS</text>
<line x1="364.9" y1="223.2" x2="367.5" y2="223.2" stroke="#808080" stroke-width="0.8"/>
<text x="360.7" y="223.2" font-size="2.5" text-anchor="middle" fill="#333" stroke="#333" stroke-width="0.12" transform="rotate(-90 360.7 223.2)" dominant-baseline="central">0</text>
<line x1="364.9" y1="207" x2="367.5" y2="207" stroke="#808080" stroke-width="0.8"/>
<text x="360.7" y="207" font-size="2.5" text-anchor="middle" fill="#333" stroke="#333" stroke-width="0.12" transform="rotate(-90 360.7 207)" dominant-baseline="central">2</text>
<line x1="364.9" y1="190.9" x2="367.5" y2="190.9" stroke="#808080" stroke-width="0.8"/>
<text x="360.7" y="190.9" font-size="2.5" text-anchor="middle" fill="#333" stroke="#333" stroke-width="0.12" transform="rotate(-90 360.7 190.9)" dominant-baseline="central">4</text>
<line x1="364.9" y1="174.7" x2="367.5" y2="174.7" stroke="#808080" stroke-width="0.8"/>
<text x="360.7" y="174.7" font-size="2.5" text-anchor="middle" fill="#333" stroke="#333" stroke-width="0.12" transform="rotate(-90 360.7 174.7)" dominant-baseline="central">6</text>
<line x1="364.9" y1="158.4" x2="367.5" y2="158.4" stroke="#808080" stroke-width="0.8"/>
<text x="360.7" y="158.4" font-size="2.5" text-anchor="middle" fill="#333" stroke="#333" stroke-width="0.12" transform="rotate(-90 360.7 158.4)" dominant-baseline="central">8</text>
<line x1="364.9" y1="141.6" x2="367.5" y2="141.6" stroke="#808080" stroke-width="0.8"/>
<text x="360.7" y="141.6" font-size="2.5" text-anchor="middle" fill="#333" stroke="#333" stroke-width="0.12" transform="rotate(-90 360.7 141.6)" dominant-baseline="central">10</text>
<line x1="385.5" y1="226.3" x2="385.5" y2="228.70000000000002" stroke="#808080" stroke-width="0.8"/>
<text x="385.5" y="233.7" font-size="2.7" text-anchor="middle" fill="#222" stroke="#222" stroke-width="0.27">-5</text>
<line x1="409.6" y1="226.3" x2="409.6" y2="228.70000000000002" stroke="#808080" stroke-width="0.8"/>
<text x="409.6" y="233.7" font-size="2.7" text-anchor="middle" fill="#222" stroke="#222" stroke-width="0.27">0</text>
<line x1="434" y1="226.3" x2="434" y2="228.70000000000002" stroke="#808080" stroke-width="0.8"/>
<text x="434" y="233.7" font-size="2.7" text-anchor="middle" fill="#222" stroke="#222" stroke-width="0.27">5</text>
<line x1="458.2" y1="226.3" x2="458.2" y2="228.70000000000002" stroke="#808080" stroke-width="0.8"/>
<text x="458.2" y="233.7" font-size="2.7" text-anchor="middle" fill="#222" stroke="#222" stroke-width="0.27">10</text>
<text x="417.5" y="240.1" font-size="2.8288" text-anchor="middle" fill="#111" stroke="#111" stroke-width="0.28">Log2 Fold Change</text>
<text x="355.8" y="180" font-size="2.2" text-anchor="middle" fill="#444" stroke="#444" stroke-width="0.13" transform="rotate(-90 355.8 180)" dominant-baseline="central">-log10(P-value)</text>
<text x="361.7" y="240" font-size="7" text-anchor="middle" font-weight="bold" fill="#000" stroke="#000" stroke-width="0.14">C</text>
<text x="193.6" y="140.7" font-size="2.1" text-anchor="end" font-weight="bold" fill="#444" stroke="#444" stroke-width="0.08">TFPI2</text>
<text x="179.4" y="151" font-size="2.45" text-anchor="start" font-weight="bold" fill="#2b2b7a" stroke="#2b2b7a" stroke-width="0.10">SH3PXD2B</text>
<text x="179.4" y="153.8" font-size="2.45" text-anchor="start" font-weight="bold" fill="#2b2b7a" stroke="#2b2b7a" stroke-width="0.10">PWWP2A</text>
<text x="179.8" y="163.7" font-size="2.45" text-anchor="start" font-weight="bold" fill="#2b2b7a" stroke="#2b2b7a" stroke-width="0.10">GENES *</text>
<text x="466.9" y="139.1" font-size="2.15" text-anchor="end" font-weight="bold" fill="#333" stroke="#333" stroke-width="0.09">MCL1</text>
<text x="456.9" y="154.7" font-size="2.3" text-anchor="start" font-weight="bold" fill="#2b2b7a" stroke="#2b2b7a" stroke-width="0.09">ERAS</text>
<text x="452.1" y="165.9" font-size="2.45" text-anchor="start" font-weight="bold" fill="#2b2b7a" stroke="#2b2b7a" stroke-width="0.10">MOV10L1</text>
<text x="448.5" y="173" font-size="2.45" text-anchor="start" font-weight="bold" fill="#2b2b7a" stroke="#2b2b7a" stroke-width="0.10">LOC102152143</text>
<text x="448.5" y="181.6" font-size="2.45" text-anchor="start" font-weight="bold" fill="#2b2b7a" stroke="#2b2b7a" stroke-width="0.10">LOC80750</text>
<text x="446" y="183.4" font-size="2.45" text-anchor="start" font-weight="bold" fill="#2b2b7a" stroke="#2b2b7a" stroke-width="0.10">GALNT6</text>
<text x="444.3" y="187.9" font-size="2.45" text-anchor="start" font-weight="bold" fill="#2b2b7a" stroke="#2b2b7a" stroke-width="0.10">CCDC80</text>
<text x="423.3" y="183.5" font-size="2.45" text-anchor="start" font-weight="bold" fill="#2b2b7a" stroke="#2b2b7a" stroke-width="0.10">COL4A1</text>
<text x="423.3" y="186.5" font-size="2.45" text-anchor="start" font-weight="bold" fill="#2b2b7a" stroke="#2b2b7a" stroke-width="0.10">COL4A2</text>
<text x="423.3" y="189.5" font-size="2.45" text-anchor="start" font-weight="bold" fill="#2b2b7a" stroke="#2b2b7a" stroke-width="0.10">FNDC3B</text>
<path transform="scale(.1)" d="M647 279h8m-2-9h8m16 5h8m40 4h8m1-3h8m-102 12h8m41 1h8m-172 4h8m3-2h8m27 2h8m8 3h8m-4 2h8m59 0h8m-93 2h8m59 4h8m35 1h8m22-3h8m-215 16h8m23-3h8m-5 4h8m7 0h8m126-3h8m-221 13h8m36-7h8m-1-2h8m17 3h8m33 3h8m10-4h8m12 2h8m-6 1h8m57-5h8m55 2h8m-273 12h8m14 0h8m-7 5h8m-4-9h8m4 3h8m-5 0h8m-7 6h8m1 0h8m-6-9h8m34 0h8m25 0h8m17 6h8m17-6h8m23 2h8m-217 11h8m2 6h8m1-5h8m1 1h8m15 2h8m-5-6h8m-5 1h8m24 2h8m94-1h8m11 3h8m42-2h8m-5-3h8m40 5h8m-372 4h8m64 3h8m-5-2h8m18 1h8m-6-2h8m-2 8h8m-4-2h8m0-1h8m26-3h8m7 2h8m1 1h8m6-3h8m4 0h8m-7 6h8m33-1h8m0-1h8m0 2h8m43-5h8m64 4h8m-367 8h8m-4-2h8m-5-2h8m-6 0h8m-7 5h8m-3 2h8m8-8h8m16 6h8m-2-2h8m-8 5h8m-4-5h8m-5-2h8m8 1h8m17 2h8m16-2h8m12 3h8m8 0h8m15 1h8m16-3h8m35-4h8m-3 8h8m-6-6h8m5 4h8m15-3h8m15 5h8m-338 10h8m6-7h8m41 8h8m-7-3h8m3 1h8m-3-5h8m-4 7h8m-1-1h8m-3 1h8m-1-5h8m-1-1h8m-8 4h8m-5 0h8m-4 2h8m5 0h8m0-9h8m62 6h8m17-2h8m43 0h8m7-3h8m-4 7h8m-2-1h8m-4-6h8m43 0h8m2 5h8m-438 11h8m29 1h8m-2-8h8m5 2h8m-3 5h8m4-7h8m4 9h8m-7-5h8m-7 2h8m-1-4h8m-8 5h8m-6 2h8m31-9h8m-7 4h8m-7-3h8m-2 1h8m-6 0h8m-8 7h8m0-3h8m-3 0h8m-2 2h8m-2-5h8m-6 0h8m-5-1h8m11 0h8m-2-1h8m-5 1h8m-1 5h8m3-4h8m0 1h8m-2 5h8m7-4h8m10 3h8m0-5h8m-7-2h8m-7 1h8m-8 2h8m17-2h8m-7 5h8m-4 2h8m19-2h8m9-3h8m-7-3h8m-8 2h8m3 6h8m2-9h8m-1 9h8m12-5h8m-6 5h8m-4-8h8m23 6h8m8-2h8m-421 10h8m-1 1h8m-4 0h8m10-5h8m0 1h8m-3-1h8m-7 5h8m-8 2h8m-6-6h8m7 6h8m8 0h8m-3-2h8m6-4h8m-8-1h8m1 2h8m-6 3h8m-7 3h8m20-8h8m-6 8h8m-8-7h8m8 4h8m-2-2h8m-4-1h8m-4-1h8m-2 0h8m0 0h8m-5-2h8m7 4h8m-7-1h8m-1 6h8m6-7h8m-4-2h8m27 0h8m-4 6h8m-7-5h8m5 5h8m-3-5h8m-6 1h8m8 2h8m-5-4h8m0 8h8m14-3h8m-3 2h8m-1-7h8m0 1h8m-5-1h8m12 8h8m-5-6h8m6 3h8m-3-4h8m-412 14h8m-4 1h8m14-5h8m0 6h8m-5-3h8m-6-3h8m-5 7h8m0-5h8m-7 3h8m-7 1h8m-2-4h8m-5 6h8m-5 0h8m-4-8h8m-3 8h8m-5-3h8m-8 2h8m3-2h8m-4 0h8m7-2h8m-5 5h8m10-6h8m-5 4h8m-2-2h8m-1-1h8m-2-4h8m9 2h8m-7-1h8m24 6h8m13-7h8m4 5h8m-2 2h8m-1-5h8m6 6h8m-8 1h8m-7-8h8m-4 6h8m-3 2h8m-6-8h8m-5 1h8m-3 4h8m-4-3h8m-7 3h8m-3 3h8m-2-8h8m3 8h8m-2-8h8m-5 6h8m-4-4h8m-8 3h8m0-3h8m-2 5h8m-7-2h8m0 0h8m1-3h8m0 6h8m-6-4h8m-3 1h8m-6 0h8m-6-4h8m4 5h8m-6 2h8m-5-6h8m15 2h8m-1 1h8m-442 4h8m8 3h8m0-1h8m11 5h8m-4 2h8m-7 0h8m3-3h8m-2-3h8m-5 0h8m-1 1h8m1 1h8m-2 3h8m4-8h8m-6 3h8m-4 1h8m-5 4h8m4-2h8m2-3h8m-5-2h8m-5 4h8m-5-5h8m-6 6h8m-8 0h8m18 3h8m-5-1h8m-4-7h8m19-1h8m-7 3h8m-3 3h8m-4-6h8m2 9h8m-2-1h8m-5 1h8m-7-8h8m-2 5h8m-6-5h8m-7 1h8m-7 0h8m0 5h8m-7-3h8m-3 2h8m9-2h8m-5-4h8m-7 3h8m-5 2h8m-6 2h8m-6 1h8m-8 1h8m-7-7h8m0 7h8m-7-2h8m0 1h8m1-1h8m-6-4h8m-2 0h8m0-2h8m-7 0h8m-7 4h8m-5-3h8m-7-2h8m-6 1h8m-3 0h8m-5 6h8m-6-4h8m28-2h8m13 3h8m-6-1h8m-6 2h8m-6 0h8m-6-3h8m-4-2h8m-5 9h8m-3-5h8m-6 2h8m-5 3h8m42-3h8m-515 8h8m23 5h8m-7-4h8m4-1h8m-8-3h8m-5 6h8m-8 1h8m-6-4h8m-7 0h8m-3-2h8m11 2h8m-7-4h8m-8 8h8m-4-1h8m-5-2h8m1-1h8m-2 0h8m-7-3h8m-3 5h8m-7-6h8m-6 5h8m-4 2h8m-7-5h8m-8 2h8m-1-1h8m-4 5h8m-7-7h8m-7 7h8m2 1h8m-4-1h8m-5-4h8m-4-1h8m2 0h8m-3 0h8m-4 4h8m-6-7h8m-2 1h8m-5-1h8m5 2h8m-4 5h8m-2 0h8m-7 2h8m-5-8h8m2 5h8m-5 3h8m-1 0h8m-4-6h8m-7 1h8m0 3h8m-5 1h8m-4-3h8m0-3h8m-6 0h8m-7 0h8m-5-1h8m-5 3h8m-7 0h8m-4 5h8m-7-2h8m0-6h8m-6-1h8m-7 9h8m-3-7h8m-7 2h8m-7 5h8m-1-4h8m-5 2h8m-6 0h8m-4-1h8m-7 0h8m-4 3h8m1-6h8m-6-1h8m-5 7h8m-4-7h8m-6 3h8m-8 2h8m-6 2h8m-4-1h8m-6-1h8m-3-7h8m-1 1h8m-5 4h8m-6-4h8m-3 6h8m-5 2h8m-6-6h8m-8-2h8m-7 5h8m6 1h8m-8-4h8m6-3h8m1 7h8m-6-4h8m-7 5h8m-6-2h8m6 0h8m-7-6h8m3 2h8m10 0h8m12 7h8m-481 10h8m8-6h8m23 3h8m6-3h8m-4-1h8m0 2h8m-5 2h8m-8-5h8m0 8h8m-7-9h8m-4 0h8m-1 0h8m-7 7h8m-2-5h8m5 4h8m0-4h8m3 1h8m-8 3h8m-7-6h8m-5 4h8m-6-4h8m-4 8h8m-7-4h8m9 1h8m-8 2h8m-5 2h8m-2-7h8m-6 1h8m-7-1h8m-6 1h8m-1 0h8m-1 3h8m2-4h8m-5 6h8m-7-7h8m-6 5h8m0 3h8m-6-9h8m0 2h8m-5 2h8m-8-1h8m-6 4h8m3 1h8m-6-2h8m-6-6h8m-5 0h8m-6 6h8m2-3h8m0 5h8m-4-6h8m-5 7h8m-6-9h8m-3 4h8m-8 4h8m-7-4h8m-7 5h8m-8-1h8m-8-5h8m1 6h8m-7-8h8m-5 3h8m-7-2h8m-4 4h8m-7-2h8m-4-3h8m-7 1h8m-7 4h8m-7 0h8m-6-1h8m-8-2h8m-4 2h8m-7-5h8m-4 5h8m-5 0h8m-5 0h8m-6-5h8m-6 1h8m-6 8h8m-3-2h8m-5-3h8m-3 0h8m-4-2h8m-8 1h8m-4-1h8m-8 6h8m-8 0h8m-6-7h8m-7 6h8m-3 0h8m-7-6h8m-5 3h8m-7-4h8m-5 8h8m-5 1h8m-8-1h8m-4 1h8m-7 0h8m-2-8h8m-7 0h8m-7 1h8m4-2h8m-8 2h8m2-1h8m-6 2h8m-2 5h8m-5 1h8m-3 0h8m-5-5h8m-8 2h8m-3-3h8m-7 1h8m-6 5h8m-1-7h8m-4 1h8m-2 2h8m-1 0h8m-7-5h8m-2 4h8m22-4h8m-493 11h8m8 7h8m-3-7h8m-2 4h8m-7 2h8m-1-3h8m-2 5h8m-5 0h8m-7 0h8m-6-4h8m1 2h8m0-5h8m-7 4h8m-5 0h8m-8 3h8m-4-6h8m-7-1h8m-7 6h8m-4-8h8m1 8h8m-8 0h8m-5 1h8m-4-4h8m-7 1h8m-1-2h8m-5 4h8m-7-8h8m-8 2h8m-7-1h8m-6-1h8m-1 5h8m-6-1h8m-7 3h8m-8-3h8m-6-2h8m-6 0h8m-8 1h8m-4 0h8m-6 6h8m-7-2h8m-2 2h8m-6 0h8m-8-1h8m-3-4h8m-7 4h8m-6-7h8m16-1h8m-3 8h8m-7-1h8m-5 2h8m-7-2h8m-7 0h8m-7-4h8m-1 2h8m-4 3h8m-6-2h8m-8-1h8m-2-2h8m-6 6h8m0-8h8m-3 8h8m-5-8h8m-6 1h8m5 4h8m-1 1h8m-3-7h8m-7 4h8m0 3h8m-8-1h8m-6-2h8m-7 2h8m-7-1h8m-6 2h8m-5 2h8m-8-3h8m-7-2h8m-4 3h8m-6-3h8m-3-2h8m-6-2h8m-7 0h8m-4 0h8m-7 7h8m-5-4h8m-6 2h8m-6 4h8m-7-9h8m-5 1h8m-5 2h8m-8 6h8m-6-2h8m-4-4h8m-5 2h8m-7-5h8m-8 5h8m-7 0h8m-7-3h8m-8 4h8m-8-1h8m-1-5h8m-2 2h8m-8 7h8m-8-4h8m-6-1h8m-5 5h8m-4-9h8m-7 7h8m-7 0h8m-4 2h8m-8-5h8m1 3h8m-4 1h8m0-1h8m-7 1h8m-3 1h8m-4-7h8m-4 3h8m-6 0h8m-8 3h8m2-7h8m1 3h8m-7-2h8m-7 1h8m-3-2h8m-4-1h8m-7 4h8m-8 4h8m-7-5h8m0 6h8m-2-9h8m-6 9h8m16-9h8m-8 3h8m-2 0h8m46 1h8m-515 11h8m9-1h8m-6-4h8m-5 5h8m-5 2h8m1-6h8m4 4h8m-3 1h8m-7 0h8m-2 3h8m-5-7h8m-5 2h8m0 1h8m-5-3h8m-3 3h8m-3 0h8m-8 0h8m0-3h8m-2 7h8m-8-8h8m-7 3h8m-5-3h8m8 5h8m-7 1h8m-7-7h8m-3 7h8m-7 0h8m-7-7h8m-8 9h8m-1-1h8m-7-3h8m-1 3h8m2-8h8m-4 9h8m-3 0h8m-4-4h8m-1 4h8m-4-1h8m-7-7h8m-2 8h8m-7-8h8m-8-1h8m-4 6h8m-3 2h8m-3-5h8m-5 3h8m-1 2h8m-5 1h8m-7 0h8m-5-7h8m-6-1h8m-7-1h8m-8 0h8m-6 2h8m-7-2h8m-8 2h8m-6-2h8m-5 7h8m-7-1h8m-7-1h8m-4-2h8m-7 4h8m-6-7h8m-4 7h8m-6-3h8m-7 1h8m-4-4h8m-6 0h8m-8 7h8m-4-8h8m-8 4h8m-8 0h8m-4 5h8m-5-4h8m-5-3h8m-3 2h8m-7 4h8m-7-6h8m-7 4h8m-8-1h8m-8-3h8m-5-2h8m-5 7h8m-6-4h8m-7 1h8m-7 3h8m-8-5h8m-7-1h8m-2 7h8m-3 1h8m0-9h8m-7 8h8m-6 0h8m0-4h8m-3 2h8m-7-6h8m-7 2h8m-6 5h8m-6-5h8m-6 1h8m-7 5h8m-4-7h8m-8 2h8m-6 1h8m-2 0h8m-8-3h8m-6 3h8m-7-1h8m-7 3h8m0-6h8m-1 5h8m-6-2h8m-8 4h8m-3-2h8m-5 1h8m-4-4h8m-7 4h8m-5-1h8m-6-3h8m-7 0h8m-5-2h8m-6 9h8m-4 0h8m-7-8h8m-4 4h8m-8 4h8m-6-3h8m-3-5h8m-3 7h8m-4-2h8m-5-5h8m-8 4h8m-5 1h8m-6-3h8m-1-3h8m-7 3h8m3 3h8m-8-2h8m-4 5h8m-4-3h8m8 1h8m6 0h8m32 1h8m-564 5h8m33 5h8m-6 1h8m0-6h8m-2-1h8m-8 6h8m-7-2h8m-4 2h8m-6-8h8m-2 9h8m-4-7h8m-7 2h8m-3 0h8m-7-3h8m-3-1h8m-7 2h8m-5 7h8m-3-6h8m-4 1h8m5 4h8m5 0h8m-4-4h8m-7-1h8m-8 2h8m-1-1h8m-4 4h8m-7 1h8m3 0h8m-5-3h8m-7 3h8m-6-5h8m2 1h8m-7-4h8m-2 2h8m3-1h8m-6 0h8m-6 4h8m-7 1h8m-8 2h8m-7 0h8m-3-7h8m-7 6h8m-6-2h8m1-3h8m-1 1h8m-6-1h8m-6-1h8m-5 6h8m-5-3h8m-6 2h8m2-6h8m-7 1h8m2 0h8m-4 6h8m-6-2h8m-4-2h8m-7-3h8m-6 6h8m-6 2h8m-8-6h8m-7-1h8m-7 7h8m-7-1h8m-7-4h8m-6 0h8m-4-2h8m-8 0h8m-7 2h8m-7-4h8m-5 3h8m-2-3h8m-3 3h8m-6 4h8m-8-7h8m-8 8h8m-2-5h8m-7 2h8m-8 1h8m-8 1h8m-1-1h8m-7 0h8m-7-2h8m-8 5h8m-7-7h8m-4 4h8m-4 3h8m-7-4h8m-3 1h8m-7 3h8m-7-3h8m-1-5h8m-5-1h8m-7 0h8m-5 0h8m-8 3h8m-5 6h8m-8-2h8m-8-7h8m-7 1h8m-8 0h8m-5 1h8m-7 6h8m-7-5h8m-6 2h8m-5 1h8m-7-4h8m-6 6h8m-6-3h8m-8-3h8m-5 0h8m-8 0h8m-6 4h8m-7-4h8m-7-1h8m-6 4h8m-8 4h8m-8-9h8m-6 2h8m-7 7h8m-7-8h8m-6 6h8m-4-4h8m-4-2h8m-7 1h8m-6-2h8m-6 7h8m-3 1h8m-1 1h8m-2-8h8m-8 5h8m-4-3h8m-5 6h8m0-6h8m-7 4h8m-4-7h8m-7 2h8m-7-2h8m-8 2h8m-1-1h8m-4 6h8m-2-3h8m-2-2h8m-5-1h8m-3 8h8m-5-9h8m-6 2h8m-4-1h8m0 5h8m-6-3h8m71-2h8m-514 14h8m-5 3h8m-7-3h8m-1-1h8m-6 0h8m-7 2h8m-7-2h8m-4 4h8m-4-3h8m-8 3h8m-4-1h8m-5 0h8m-4-2h8m-7 2h8m-2-4h8m-6-1h8m-2 1h8m-2 3h8m-6-2h8m-8 3h8m0-4h8m0 3h8m-3-1h8m-1 0h8m-6-2h8m-3-2h8m-7 6h8m-5 2h8m-6 0h8m-7-7h8m-6 5h8m-8-6h8m-6 0h8m-6 8h8m-7 0h8m-3-3h8m-5 1h8m-2 2h8m-7-6h8m-5 3h8m-6-2h8m-6-1h8m-1 1h8m-5-1h8m-8-1h8m-1 4h8m-7 3h8m-4-7h8m-8 5h8m-6-2h8m-6-3h8m-6 4h8m-6 0h8m-7 2h8m-8 0h8m-8-8h8m-7 9h8m-7-6h8m-7 6h8m-6-2h8m-5-6h8m-3-1h8m-2 6h8m-8-2h8m0 4h8m-8-1h8m-7-4h8m-7-2h8m-7 5h8m-3-4h8m-5 0h8m-7 4h8m-8-5h8m-7 1h8m-8 0h8m-4 3h8m-7-1h8m-5-4h8m-6 3h8m-6 1h8m-4-2h8m-6-2h8m4 5h8m-6 0h8m-6-3h8m1 4h8m-8 0h8m-6 2h8m-5-8h8m-7 8h8m3-4h8m-4-3h8m-8-1h8m-6 8h8m-1-7h8m-7 3h8m-7 2h8m-6-1h8m-7 4h8m-8-2h8m-6-2h8m-8 4h8m-8-6h8m-7 0h8m-8 4h8m-5 1h8m-7 0h8m-5-4h8m-5-4h8m-7 9h8m-5-3h8m-6-2h8m-7-4h8m-7 1h8m-6 3h8m-7 1h8m-2 0h8m-8 4h8m-7-6h8m-7 0h8m-3 5h8m-8-4h8m-6-4h8m-8 1h8m-6 7h8m-8-1h8m-7 0h8m-8 2h8m-3-9h8m-8 0h8m-7 0h8m-8 8h8m-6-6h8m-6-2h8m-5 9h8m-8-9h8m-7 7h8m0 1h8m-6-2h8m-7-2h8m-2-2h8m-3 5h8m-8-2h8m-7 4h8m-7-9h8m-5 9h8m-7-6h8m-3-1h8m-1 4h8m1-1h8m-8-4h8m-7 6h8m0 2h8m-7-6h8m-4-3h8m-5 5h8m-3-4h8m-2 4h8m-6-3h8m-6 4h8m-8 0h8m-6 3h8m-5-9h8m-8 6h8m-6-5h8m-6-1h8m2 0h8m6 8h8m-8-4h8m18 5h8m20-5h8m-525 13h8m-8-3h8m-6 4h8m-6-4h8m-6 5h8m0-7h8m-3 4h8m-6 1h8m3-5h8m0 5h8m-7 0h8m-2-1h8m3-4h8m-2 3h8m-2 3h8m8-7h8m-7 1h8m-1 6h8m-4-4h8m-5-4h8m1 4h8m-8 1h8m-5 4h8m-7 0h8m-7-2h8m-7-5h8m-4 1h8m-7-2h8m-6 5h8m-4 2h8m2-7h8m-1 7h8m-7-8h8m-7 9h8m0-5h8m-4 4h8m-8-1h8m-8-5h8m-2 0h8m-8 2h8m-5-2h8m-2 6h8m-8 1h8m-8-3h8m-7-6h8m-4 2h8m-7-1h8m-5-1h8m-6 3h8m-8 1h8m-7 0h8m-7-1h8m-7-3h8m-2 0h8m-4 4h8m-8 3h8m-7-3h8m-7-1h8m1 1h8m-2 3h8m-5-3h8m-7 5h8m1-7h8m-5 1h8m-2-3h8m-5 9h8m2-5h8m-7-3h8m-8 7h8m-6-3h8m-8 4h8m-7-8h8m-5 7h8m-4-7h8m-6 1h8m-5 4h8m-7-3h8m-6 2h8m-7-4h8m-7 4h8m-8 0h8m-3-3h8m-8 3h8m-6-5h8m-8 2h8m-7 6h8m-5-7h8m-7-1h8m-8 8h8m-7-7h8m-3 7h8m-7-8h8m-3 8h8m-7-2h8m-7-3h8m-7 6h8m-6 0h8m-6-4h8m-7 1h8m-7 3h8m-6-5h8m-7 0h8m-6-2h8m-2 2h8m-8 3h8m-5-4h8m3 1h8m-5 4h8m-7 1h8m-7-9h8m-6 0h8m-7 4h8m-5 1h8m-3-1h8m-7 1h8m-6 3h8m-6-2h8m-6-1h8m-4-5h8m-7 2h8m-8 4h8m-6-4h8m-7 6h8m-5 0h8m-6-7h8m-6 2h8m-7 4h8m-7-5h8m-6-2h8m-1 1h8m-7 4h8m-4 0h8m-6 3h8m-7-7h8m1 0h8m-8 6h8m-8 2h8m-6-4h8m2-3h8m-4 7h8m-4-7h8m-5 3h8m-5-3h8m5 1h8m8-3h8m-7 7h8m-3-7h8m-3 1h8m-476 16h8m-7-1h8m2-5h8m-3 3h8m-4-4h8m-7 7h8m0-5h8m-5 2h8m-4 2h8m-3 3h8m-3-5h8m-1 2h8m-8-1h8m0 0h8m0 1h8m-2 0h8m-8 1h8m-7-7h8m-5 3h8m-3-3h8m-4 3h8m-7-1h8m-8 7h8m-5-5h8m-8 5h8m-4-2h8m-2-4h8m-5 2h8m-6 4h8m-7-9h8m-4 5h8m1 4h8m-4-2h8m-2 1h8m-8-3h8m-7 1h8m-6 3h8m-8-7h8m-4 6h8m-6-5h8m-6-1h8m-1 7h8m0-7h8m-6 4h8m-6-5h8m-7 0h8m-4 2h8m-6-1h8m-8-1h8m-6 2h8m-7 1h8m-5 2h8m-6 2h8m-7-5h8m-5-1h8m-7-2h8m-6 5h8m-6-3h8m-5 3h8m-4 1h8m-8 3h8m-8-6h8m-3-2h8m-4 1h8m-2-1h8m-8 7h8m5-5h8m-7 3h8m-7-3h8m-4-1h8m-8 5h8m-7 2h8m-8-4h8m-5 4h8m-8-9h8m-4 3h8m-8 0h8m-6-3h8m-4 6h8m-7-3h8m-5 4h8m-4-4h8m-8-3h8m-7 8h8m-4-6h8m-7 5h8m-8-6h8m-4 3h8m-1-4h8m-8 5h8m-7-4h8m-8-1h8m-7 4h8m-7 2h8m-6 1h8m-7-7h8m-7 3h8m-5-3h8m-8 0h8m-7 1h8m-6 6h8m-8 1h8m-5-6h8m-7 7h8m-7-4h8m-5-1h8m-8 3h8m-7-4h8m-7 2h8m-8-5h8m-7 2h8m-6-2h8m-6 1h8m-8 8h8m-5 0h8m-8-1h8m-7-7h8m-7 8h8m-6-7h8m-6-2h8m-7 5h8m-4 0h8m-3-3h8m-7 0h8m-7 5h8m-5-5h8m-5 7h8m-8-5h8m-5 2h8m-7 2h8m-6-7h8m-4 6h8m-6-5h8m-8 2h8m-7-1h8m-6 5h8m-2 1h8m-8-9h8m-6 3h8m-7 1h8m-7 0h8m0-3h8m-6 6h8m-8-6h8m-7 5h8m-6-3h8m-7 5h8m-7 0h8m-3 1h8m-4-8h8m-6 5h8m-7-5h8m-8 1h8m-6 2h8m0-3h8m-8 7h8m-7-3h8m-5-2h8m3 0h8m25 0h8m-8-3h8m-4 3h8m19-1h8m-5 2h8m-488 8h8m30 6h8m-6-5h8m-8-1h8m-5 1h8m-5 5h8m-3-5h8m-8 0h8m0 4h8m-6-4h8m-7 2h8m-7-2h8m0 6h8m-5-3h8m-5-4h8m-5 2h8m-7-2h8m7 0h8m-5 4h8m5-2h8m-6 5h8m-6-3h8m-2-6h8m0 6h8m-2-5h8m-8-1h8m-6 9h8m-5-4h8m-5 2h8m-8-5h8m-6 1h8m-7 1h8m-2-1h8m-7 0h8m-7 6h8m-7-1h8m6-7h8m-7-1h8m-6 1h8m-5 8h8m-7 0h8m-4-5h8m-5-1h8m-2 3h8m-6-1h8m-6 1h8m-3 1h8m-8-1h8m-8 0h8m-7-4h8m-8-2h8m-8 6h8m-7-1h8m-6 3h8m-7-8h8m-5 1h8m-6 3h8m-8-3h8m-7 5h8m-1-2h8m-6-4h8m-7 7h8m-8-4h8m-8 3h8m-7 1h8m-7 0h8m-7-4h8m-3 0h8m-3 1h8m-7-2h8m1-1h8m-3-1h8m-6 1h8m-1-1h8m-7 8h8m-5-6h8m-6 3h8m-5 0h8m-1 1h8m-6 2h8m-1 1h8m-4-4h8m-6 4h8m-7-2h8m-1-5h8m-7-1h8m-6 5h8m-6 1h8m-5-5h8m0 1h8m-2 3h8m-4-4h8m0-1h8m-8 6h8m-4-1h8m-8 3h8m-6-2h8m-8 0h8m0-7h8m-7 1h8m0 7h8m-8-3h8m-8-2h8m-7 2h8m-8-5h8m-7 3h8m-7 3h8m-8-2h8m-6 5h8m-8-2h8m-7-6h8m-4-1h8m-2 5h8m-2-3h8m-6-2h8m-3 1h8m-7 3h8m-4-3h8m-6 6h8m-7-6h8m3 5h8m1-1h8m-4-2h8m-7 2h8m6 2h8m-1-7h8m0 0h8m18 5h8m-5 3h8m3-3h8m106 3h8m-601 3h8m3 3h8m-5-4h8m-8 3h8m11-1h8m12 7h8m-8-4h8m1 3h8m-5 1h8m-5-5h8m-8 1h8m-5 2h8m-4 1h8m-3-8h8m2 0h8m-7 5h8m-4 2h8m3 2h8m-8 0h8m-3-8h8m-6-1h8m-7 7h8m-3-5h8m-1 0h8m-8 0h8m-5 7h8m-6-6h8m-5 1h8m-6-1h8m-5 5h8m1-5h8m-4 5h8m-5 0h8m-7-1h8m-6-3h8m-8 3h8m-6-6h8m-5 4h8m-5-5h8m-7 0h8m-4 3h8m-6-3h8m-7 8h8m-6-1h8m-7-3h8m-7-2h8m-6 5h8m-7-5h8m-7 0h8m14-2h8m-3 8h8m-8-3h8m-7-3h8m-8 6h8m0-1h8m-6 2h8m-8-8h8m-7 7h8m-5-7h8m9 7h8m-3 0h8m3-3h8m-7-1h8m-7 1h8m-5-5h8m-6 8h8m-5-6h8m-7-1h8m-8 2h8m0 3h8m-6 3h8m-6-7h8m-4 0h8m-5 7h8m-5-3h8m-7-6h8m-5 5h8m-6-5h8m-6 8h8m-3-2h8m-1-4h8m-7-2h8m-7 9h8m-2-1h8m-8-2h8m-7 3h8m-4-6h8m-7-2h8m-7 7h8m-6-8h8m-3 4h8m-8 1h8m-2-5h8m-7 7h8m-6-5h8m2 3h8m-5-5h8m-8 1h8m5 0h8m-4 7h8m-7-8h8m-7 3h8m-4-2h8m0 6h8m-5-1h8m-3-5h8m1-1h8m-1 5h8m-6-2h8m0-3h8m-6 0h8m-4 9h8m-5-7h8m-3 1h8m6 6h8m15-2h8m-476 7h8m-5 4h8m-6-6h8m-6 1h8m7 1h8m3-1h8m-5 5h8m-6 1h8m-5-3h8m-4-1h8m-4-1h8m0 0h8m-4-1h8m-5 2h8m-5 4h8m-8-5h8m-8 2h8m-7-6h8m0 7h8m8-2h8m-6-3h8m-5 4h8m-7-5h8m-6 7h8m-5-8h8m-5 0h8m-8 2h8m-4 3h8m-5-4h8m-7 3h8m-5 4h8m-7-1h8m-8-5h8m-2 1h8m-5 5h8m-7-1h8m0-6h8m-7 2h8m-7 1h8m-5-2h8m-6 3h8m-6 2h8m1-6h8m-3 0h8m-6-1h8m-6 1h8m-4 7h8m-3-7h8m-8 4h8m-3-4h8m-7 7h8m-5-4h8m-7 1h8m-5 2h8m-6-6h8m-7 4h8m-5 3h8m6-3h8m14 4h8m4-7h8m-7 5h8m-6 0h8m-1 2h8m-4 0h8m-7-2h8m-7-7h8m-6 2h8m3 2h8m2 0h8m-5 1h8m-5 4h8m-7-8h8m-7 1h8m-7 0h8m-7 6h8m-3-3h8m-6-3h8m-4 5h8m-5-3h8m-7 0h8m-7 4h8m-8-6h8m-3 7h8m-7-8h8m-6 6h8m-5 1h8m-5 0h8m-8-5h8m-7 6h8m-4-5h8m-5 0h8m-3 5h8m3-9h8m-5 4h8m-8-3h8m-1 4h8m-7 4h8m-8-1h8m25 1h8m13-1h8m-8-3h8m-6-4h8m5 7h8m13-4h8m-5 2h8m6-1h8m22-3h8m5 6h8m36-2h8m-562 11h8m-2 1h8m-4-3h8m-2-3h8m17 5h8m-6-7h8m-7 6h8m-8 0h8m-2 0h8m-5 3h8m-8-7h8m-7 1h8m-5-2h8m-8 4h8m2 2h8m-6 1h8m0-1h8m-7-2h8m-1-3h8m-5 5h8m-8 2h8m-8-5h8m-6 5h8m-7-3h8m-4 2h8m-6-7h8m-7 2h8m-6-2h8m4 0h8m-7 7h8m-8-5h8m-4 4h8m-7-6h8m-4 6h8m-8-7h8m-8 6h8m-1 3h8m-7-3h8m-8-1h8m-2-4h8m-8 7h8m-5-7h8m-7 7h8m-6-7h8m-4 8h8m-8-8h8m-7 3h8m-7-2h8m-6 5h8m-6-4h8m-6 2h8m-1-1h8m-5-2h8m-7-1h8m-8 8h8m-1-7h8m-5-2h8m-7 2h8m-6 1h8m-6 4h8m-7-3h8m-2 4h8m-5 1h8m2-1h8m-6-6h8m-4 1h8m-7 3h8m-5-2h8m-1-4h8m-7 3h8m-7 1h8m-8 1h8m-7-5h8m-3 5h8m2 3h8m7-3h8m-3-4h8m-2 0h8m-7-1h8m-4 5h8m-6-5h8m-5 1h8m-7 5h8m-7 3h8m0-2h8m-6-1h8m3 0h8m-1-4h8m-7 2h8m-2 4h8m-8-1h8m-7 2h8m-7-8h8m-1 1h8m-8 4h8m-8-2h8m-3 2h8m-3-6h8m-8 5h8m-6 1h8m-5 0h8m-7-2h8m-5 3h8m-6-1h8m-4-3h8m1-3h8m-8 4h8m-4 1h8m15 1h8m-5-4h8m1 7h8m-2-1h8m-7-1h8m3-3h8m-2-3h8m-4 6h8m-6-6h8m1 8h8m27-4h8m-7-3h8m14-1h8m-7 2h8m10-3h8m41 6h8m-585 8h8m12-3h8m-4 6h8m-6-3h8m4 1h8m0 4h8m-6-4h8m-8-1h8m2-4h8m-6 3h8m-8 3h8m-6 3h8m-2-5h8m-2 0h8m-5 5h8m1 0h8m-7-9h8m0 8h8m-7-5h8m-8-3h8m-2 5h8m-2-4h8m3 3h8m-8-1h8m-7-2h8m-6 0h8m-2 2h8m-8-1h8m-6 4h8m-4-5h8m-4 6h8m-6-4h8m-4-2h8m-5-1h8m-6 2h8m-4 6h8m-6-1h8m-8-4h8m-8 0h8m-7 2h8m-3-4h8m-6 1h8m-7 7h8m-5-7h8m-3 5h8m-5-5h8m-4 6h8m-7-5h8m-7 3h8m-6 0h8m-7-5h8m-5 3h8m-8 0h8m-6 5h8m-6-6h8m-7 1h8m-5 1h8m-7-4h8m-6 1h8m-1-2h8m-2 8h8m-4 0h8m-4-8h8m-6 0h8m-7 8h8m-3-4h8m6 5h8m-8 0h8m-5-2h8m-5 0h8m-7-4h8m-3-1h8m-4 7h8m-7 0h8m-4-6h8m-8-3h8m-8 2h8m-8 7h8m-7-5h8m-2-1h8m-7 3h8m-5-2h8m-7 3h8m3 2h8m-4-8h8m-6 1h8m-5 7h8m-8-8h8m-6 8h8m-5 0h8m-4-6h8m-7 3h8m-8 0h8m-3-6h8m-8 6h8m-4-3h8m-4 4h8m-5-2h8m-4 0h8m-7-1h8m-7-2h8m1 7h8m-8-7h8m5 0h8m-3 1h8m-6 2h8m-7 0h8m-6-1h8m-3 3h8m-7-4h8m1-1h8m11 3h8m-5 1h8m-6 3h8m-5 0h8m4 0h8m0-3h8m-5 2h8m4-7h8m-6 4h8m-8-5h8m14 9h8m7-7h8m27 2h8m-502 8h8m-5 3h8m3-1h8m-7 5h8m-3-4h8m-7 2h8m0-2h8m-4-5h8m0 5h8m-4 0h8m-2-4h8m-6 8h8m-8-9h8m-2 7h8m-6 2h8m-7-3h8m8 0h8m-7-1h8m-5 1h8m-4-4h8m-3-1h8m-8-1h8m-7 9h8m-7-8h8m-6 7h8m-7-1h8m-7-4h8m-3-3h8m-8 0h8m-4 3h8m-3 1h8m-6-3h8m-4 4h8m-5 0h8m-5 3h8m-4 1h8m-1-7h8m1 4h8m-7-2h8m-3-2h8m-2 3h8m-4-5h8m-4 3h8m-8 0h8m-6 4h8m-5-6h8m-7 5h8m-5 2h8m-4-7h8m-4 5h8m-8-2h8m-4 5h8m-8-3h8m-6-1h8m-7-1h8m-8 3h8m-7-2h8m-4 4h8m-7 0h8m-3-9h8m-7 2h8m-4-1h8m0 4h8m-5 4h8m-7-9h8m-6 0h8m-3 4h8m-5 0h8m-6 5h8m-8-8h8m3 5h8m2 1h8m-6-5h8m-6-1h8m-7 4h8m-5-4h8m2-1h8m-8 7h8m3 1h8m-6-1h8m-2-5h8m-7 6h8m-2-5h8m-1 2h8m5-1h8m-5 3h8m-5-4h8m-4 5h8m0-8h8m-2 2h8m-7 6h8m5-6h8m-6 6h8m16 1h8m22-6h8m29 3h8m35-1h8m164 4h8m-678 8h8m-2-4h8m12 5h8m-7-7h8m-7 4h8m-8 0h8m-6-4h8m3 6h8m-7-3h8m-1-1h8m2 4h8m-7-3h8m-4 5h8m-4-7h8m-5 3h8m-7-3h8m-8 1h8m-7 1h8m-3 0h8m-5 3h8m-4-2h8m-6-3h8m-6 1h8m-6 0h8m-6 3h8m-6-4h8m-8 7h8m-6-2h8m-7-6h8m-7 6h8m-6 0h8m-5 2h8m-6-5h8m-6-2h8m-7 3h8m-6 4h8m-7-8h8m-7 7h8m-6-4h8m-5 3h8m-7-4h8m-5-3h8m-6 8h8m-7-8h8m-6 3h8m-8 1h8m-3-1h8m-5 2h8m-8-2h8m-2-1h8m-7 5h8m-1-5h8m-4 2h8m-6-2h8m-7 4h8m-7-4h8m-5 5h8m-8 2h8m-6-8h8m-7 6h8m-4-1h8m-8-5h8m-5 2h8m-7 4h8m-4-2h8m-7-4h8m-6 4h8m-8-5h8m-2 6h8m-4 1h8m0 0h8m-4-3h8m0-4h8m-3 0h8m-4 2h8m-8 3h8m-8 4h8m-3-8h8m-5 0h8m-6-1h8m-3 1h8m-8 4h8m-6-2h8m-7 5h8m8-6h8m-4-2h8m-7 1h8m-3 1h8m-2 6h8m-6-4h8m-8 3h8m-2-3h8m-2-4h8m0 5h8m2-4h8m0 2h8m-7 4h8m-5-4h8m7-2h8m2 2h8m-3-2h8m-3 6h8m-3-2h8m-1-5h8m-3 8h8m0 1h8m6-6h8m-4 5h8m3-4h8m-8-2h8m-6 1h8m20-3h8m3 3h8m15 2h8m-8-4h8m-1-1h8m23 7h8m33-5h8m2 3h8m-568 6h8m5 8h8m2-9h8m0 7h8m-8-4h8m-6 5h8m-5-6h8m-6-2h8m-7 9h8m-4 0h8m-8-1h8m-5 0h8m-8-6h8m-5 6h8m-6-4h8m-2 4h8m-5-1h8m-6 2h8m-5-9h8m-7 6h8m4 0h8m-7 0h8m-7-5h8m-7 7h8m-5-3h8m-5 2h8m-8-2h8m-7 3h8m-6-2h8m-5-6h8m-7 4h8m9 2h8m-8 1h8m-3-2h8m-7 2h8m-7-6h8m-8 3h8m-3 1h8m-7-1h8m-3 1h8m-3-2h8m-8 2h8m-6 3h8m-4 0h8m-6-8h8m-7 9h8m-6-7h8m-6 5h8m-7-6h8m-4 8h8m-3-3h8m-4 2h8m-5-1h8m-5-1h8m-7 0h8m-8-1h8m-6-3h8m-2-1h8m-1 8h8m-7-9h8m-8 2h8m-6 0h8m-8-2h8m-8 7h8m-6 2h8m-5-6h8m8 5h8m-8-8h8m-4 6h8m-7-1h8m-5-1h8m-6 2h8m1 2h8m-8-4h8m-4 0h8m-6 1h8m-5-3h8m-4 0h8m19-1h8m-4 1h8m-8 4h8m-7 3h8m-6-7h8m-7 6h8m1 0h8m0-1h8m15-7h8m-1 4h8m5-3h8m10 0h8m-6 7h8m-1-7h8m-6 1h8m10 5h8m8-7h8m3 5h8m11-4h8m9 3h8m-3-2h8m-1 1h8m3 6h8m-8-4h8m5 0h8m2 2h8m-6-1h8m-4-5h8m4 8h8m9-5h8m4 2h8m-3-3h8m9 4h8m121-6h8m-693 17h8m-6-8h8m-4 5h8m13 0h8m-7-1h8m-1 0h8m9 5h8m-8-9h8m-1 8h8m-4-4h8m-6 1h8m-1 4h8m3-4h8m-8 3h8m-8-3h8m-6 1h8m-5 0h8m-4 0h8m-5 3h8m-7-2h8m-7-1h8m-3-1h8m-6-4h8m-6 7h8m-6 0h8m-8 0h8m-8-6h8m2-2h8m-6 1h8m-7-1h8m-8 2h8m-5 6h8m-7 1h8m-7-4h8m-6-1h8m-2-4h8m-5 3h8m-7 4h8m-7-6h8m-4 3h8m-3 1h8m-6-1h8m-1 1h8m-8-3h8m-8 7h8m8-1h8m-7-1h8m0 0h8m-7-5h8m-4 5h8m-5-5h8m6 3h8m-7 3h8m-3-3h8m2 3h8m7-7h8m1 2h8m-6-2h8m-1 3h8m-1 1h8m-2-1h8m-7 5h8m-1-7h8m-6 7h8m-5-3h8m13-3h8m0 0h8m-6 3h8m1-4h8m-5 6h8m-4-8h8m4 3h8m-6 6h8m0-5h8m-7 3h8m28 2h8m-5-2h8m-2-2h8m20 4h8m6 0h8m27-9h8m2 5h8m-1-3h8m27 7h8m14-1h8m-2-7h8m-5 5h8m16-6h8m79 6h8m-7 0h8m-681 7h8m-6-1h8m-7 4h8m-7 2h8m-5 0h8m-3-6h8m-7 3h8m-8 1h8m5-4h8m-4 3h8m-8 3h8m-7-2h8m-5-4h8m-8 7h8m-7-1h8m-6 1h8m-4-7h8m-8 1h8m3 5h8m-7-3h8m-2 4h8m0 0h8m-6-1h8m-7-1h8m-4-2h8m-8 1h8m-4 1h8m-8-2h8m-7 4h8m-8-7h8m-6 7h8m-8-5h8m-7 0h8m-6 4h8m-3-5h8m5 2h8m-4-1h8m-7-3h8m-3 2h8m-4 3h8m-8 0h8m-6-4h8m-5 6h8m7-4h8m-5-2h8m-2 5h8m3-6h8m-5 6h8m-3-6h8m0 1h8m-4 0h8m-4 2h8m-6 1h8m-3-3h8m-5 7h8m-4-2h8m1 0h8m-7-4h8m-7-3h8m-7 2h8m-5-2h8m-7 4h8m-5 5h8m4-6h8m-6 0h8m-3 3h8m-4-5h8m-4 2h8m-7 4h8m-2-3h8m-1 4h8m-6-5h8m-6-1h8m-8 0h8m-7 5h8m-4 0h8m-8-3h8m-3 4h8m-7-5h8m-2 2h8m-6 3h8m3-1h8m-7-1h8m-5-4h8m-4 2h8m-3 5h8m-6-3h8m-7 1h8m-6 0h8m-1-5h8m-3-1h8m-8 8h8m-6-2h8m-3 2h8m-5-4h8m-6-5h8m8 4h8m-2 5h8m-4-2h8m-5-5h8m-3 1h8m1-3h8m11 1h8m4 0h8m-8 2h8m-1 2h8m19 3h8m14 1h8m-3-4h8m8-5h8m17 2h8m-6-2h8m-7 8h8m-6-2h8m-7-5h8m-1 3h8m-1 5h8m72-7h8m24 5h8m-640 9h8m-7-2h8m-8-1h8m-7 4h8m-6-5h8m-6 6h8m-4-5h8m-7 2h8m-6-1h8m7-2h8m-7 7h8m-6-8h8m-8 1h8m-6 2h8m-2 1h8m0-3h8m-8-1h8m-6 5h8m-6 1h8m-6-3h8m-8-1h8m-8-2h8m-7 7h8m-8-7h8m-7 0h8m-7 2h8m-6 4h8m-3-3h8m-6 1h8m-8 2h8m-4 2h8m-4-3h8m-6-1h8m-7-1h8m-5 0h8m11-2h8m-7 7h8m-7-4h8m-1-4h8m-6 8h8m-8-1h8m-2 0h8m-5-4h8m-4 4h8m-7-8h8m-5 7h8m9 0h8m-8-5h8m-4 6h8m-3 1h8m-6-2h8m-6-4h8m-6 5h8m-6-2h8m-7-3h8m-7 0h8m-4 6h8m-7-5h8m-7 3h8m-6 2h8m-5-8h8m-7 2h8m-6 5h8m-5 0h8m-8-5h8m-5-2h8m-5 7h8m-7 0h8m-8-2h8m-1 2h8m-7-3h8m0-2h8m-7 4h8m0-5h8m-5 7h8m-7-3h8m-5-5h8m-4 5h8m-3-3h8m-1-3h8m-3 3h8m-8-1h8m-1 2h8m15-2h8m-1 3h8m-5 1h8m-6-5h8m-4 8h8m-6-3h8m-5-6h8m22 4h8m-6-1h8m-4-1h8m-5 2h8m-5 4h8m-5 1h8m0-2h8m-4-6h8m-3 5h8m3 0h8m-7 2h8m6-8h8m5 4h8m-5-1h8m3 5h8m-1 0h8m-7 1h8m-7 0h8m-7 0h8m6-5h8m-6 1h8m-3-4h8m18 8h8m-5-7h8m-3 2h8m-6 0h8m2 4h8m-6-4h8m-6 1h8m1 2h8m-7-6h8m-6 2h8m-7-3h8m6 3h8m13-2h8m5 4h8m11-4h8m-2 7h8m2-2h8m-2-3h8m15 5h8m4 1h8m47-5h8m-7 2h8m27-5h8m-724 13h8m-6-4h8m-3 2h8m-6-1h8m-6 6h8m-3 2h8m-8-6h8m-3 6h8m0 0h8m-8-4h8m-6-1h8m-8-4h8m-8 9h8m-7-5h8m-6 1h8m-8-3h8m-7 3h8m-6 2h8m-6-4h8m-7-3h8m-7 6h8m-7-1h8m-2-2h8m-8 4h8m-8-7h8m-6 8h8m-5-8h8m-4 4h8m-6-3h8m-7 4h8m-4-2h8m-6 3h8m-5-5h8m-3 1h8m-8 1h8m-7 5h8m-5-3h8m-4 3h8m-7 0h8m-7-1h8m-5-6h8m-7 1h8m-4 6h8m-6-6h8m-7 5h8m-4 0h8m-5-7h8m-7 5h8m-5 1h8m2-5h8m-6 3h8m-4 3h8m-7-2h8m-6-3h8m-6 0h8m-3 3h8m-6-1h8m-7 3h8m-2-3h8m-6 5h8m-1-8h8m-5 4h8m-6 4h8m-5-6h8m-4-1h8m13 0h8m-5 2h8m-7-2h8m-7-2h8m2 4h8m-2 2h8m-8-1h8m0 2h8m-3 2h8m-1 0h8m-4-4h8m2 3h8m1-3h8m-7-4h8m-8 5h8m-4 0h8m-4 1h8m-5-3h8m-5 1h8m-7 2h8m-8-1h8m3-6h8m-5 5h8m0 0h8m-7-2h8m-5-1h8m-6 5h8m0-1h8m-3 0h8m-7-5h8m7 7h8m21 1h8m-8-3h8m-2 1h8m6-2h8m14 4h8m-4-3h8m-8-2h8m-8 4h8m-1-2h8m-8 1h8m-3 2h8m-6-4h8m5-3h8m-7 6h8m-2-5h8m-4 2h8m10-1h8m-5 1h8m-3-1h8m3 3h8m-6-1h8m-3-2h8m-4 2h8m-6 1h8m-6 1h8m-6-5h8m8 5h8m-7-3h8m-7-1h8m-7-3h8m-4 1h8m-1-2h8m-2 6h8m-4-4h8m-8 4h8m4-2h8m-6 0h8m5-2h8m5 0h8m-4 4h8m-6-3h8m-1 5h8m-8-6h8m-4 5h8m-6-6h8m9 8h8m8-8h8m18 8h8m16-9h8m4 8h8m-7-7h8m-691 12h8m-7 4h8m1-2h8m-5 2h8m-7-3h8m-6 5h8m-7-5h8m-5-3h8m-8 0h8m-6 5h8m-6 0h8m-8-6h8m-7 4h8m-7 5h8m-7-4h8m-4 2h8m-6-7h8m-3 6h8m-7-1h8m-7-1h8m-8-2h8m-8 6h8m-6-6h8m-7 4h8m-6-5h8m-6 4h8m-8 1h8m-7-6h8m-7 1h8m-8 6h8m-6-2h8m-1-5h8m-7 8h8m-6-2h8m-7 2h8m-8-7h8m-8 4h8m-6-2h8m-6 5h8m-7-1h8m-5-6h8m-6 5h8m-5-3h8m-1 6h8m-5-8h8m0 4h8m-4-1h8m-7-4h8m-2 5h8m-2 2h8m-6-4h8m-2 5h8m-7 0h8m6-5h8m-4-2h8m-2 7h8m-7-6h8m-8 4h8m-7 0h8m1-5h8m-8-1h8m-8 5h8m-6 1h8m1-6h8m-6 6h8m-1 3h8m-8-7h8m9 7h8m-6-4h8m2 1h8m-2-3h8m-1-2h8m-7-1h8m1 9h8m-7 0h8m-6-1h8m-1-2h8m-1 3h8m-6-5h8m-7-4h8m-3 2h8m-7 1h8m-5 0h8m-3-2h8m5 4h8m-2 3h8m-2-1h8m0 2h8m-6-9h8m0 1h8m-1 7h8m8-5h8m1 2h8m9 0h8m-6-4h8m-5 4h8m-6 0h8m-3 4h8m-5-8h8m7-1h8m3 2h8m-8-1h8m12 1h8m-4 2h8m-3-2h8m-8 2h8m-7 1h8m-1 1h8m-6-6h8m-7 0h8m-1 1h8m7 7h8m-5-8h8m-1 7h8m-8-7h8m-4 6h8m-6 1h8m-5-3h8m-6 3h8m-5-6h8m-8 2h8m-7-3h8m-4 2h8m-7-2h8m-5 3h8m-7-1h8m-7 4h8m-5 3h8m-8-4h8m-8-5h8m-6 2h8m-4 0h8m-7 6h8m-8-3h8m-7 2h8m-7-6h8m-6 1h8m-5 4h8m-7 1h8m6-3h8m-3-1h8m-8-1h8m-6 0h8m-7 7h8m-6-2h8m-6-1h8m-5-3h8m-6 0h8m-4 6h8m-8-4h8m-4-1h8m-6 0h8m-8 5h8m-8-9h8m-7 9h8m-6-8h8m15 8h8m-7-6h8m-6-1h8m-7 0h8m5 7h8m-3-1h8m-8-8h8m-1 1h8m-2 2h8m-1 4h8m-6-3h8m-7 3h8m3-2h8m-7 1h8m-6-5h8m-1 7h8m-6-4h8m4 3h8m95-2h8m-769 7h8m0 6h8m-8 0h8m-6-2h8m-7-1h8m-2 3h8m-6-7h8m-5 0h8m-6 8h8m-6-9h8m-7 6h8m-5-3h8m-8 2h8m-8-4h8m-7 1h8m-7 7h8m-8-9h8m-7 4h8m-7 5h8m-8-4h8m-8 3h8m-7-5h8m-8 4h8m-6-3h8m-8 5h8m-7-1h8m-8-7h8m-6 8h8m-7 0h8m-7-1h8m-8 1h8m-5-5h8m-8 0h8m-7 4h8m-7-4h8m-5 2h8m-8-4h8m-7-1h8m-8 5h8m-8 0h8m-8-2h8m-8 5h8m-7-8h8m-7 7h8m-7-8h8m-8 3h8m-8 0h8m-8-1h8m-4-1h8m-8 0h8m-6 5h8m-8-6h8m-7 9h8m-2-5h8m-6-1h8m-7 6h8m-7-1h8m-7-8h8m-7 2h8m-6 2h8m-6 4h8m-5-6h8m-7 1h8m-6-2h8m-2 1h8m-1-2h8m-5 5h8m-5 0h8m-7 0h8m-8-5h8m-8 3h8m-3 4h8m-4-5h8m-8 3h8m5-2h8m-6 5h8m3-3h8m-5-5h8m-4 4h8m-4 4h8m-7-5h8m-7 2h8m10-4h8m-5 5h8m-8-2h8m4 1h8m-7 2h8m14-4h8m-7 0h8m0 0h8m-3 5h8m3-2h8m-2-1h8m0 2h8m-6 0h8m-8-6h8m-7-1h8m-6 8h8m3-8h8m-4 7h8m-3-6h8m-6 5h8m-7-3h8m-8 2h8m1 4h8m-5-6h8m-7 6h8m8-8h8m7 1h8m-7 3h8m5-4h8m-8 6h8m-3-6h8m-4 3h8m16 5h8m-8 0h8m-2-1h8m7-6h8m2-2h8m-4 5h8m-7-5h8m-7 6h8m-5-2h8m-8 3h8m-4 2h8m-7-2h8m-5 0h8m-8 1h8m-4-6h8m-2 0h8m-1 7h8m-8-3h8m-8 1h8m-8-2h8m-6 1h8m-5-3h8m-7 6h8m-8-7h8m-5 7h8m-4-4h8m-4 1h8m-3 1h8m-2-7h8m-7 1h8m-8 3h8m-7 5h8m-8 0h8m-8-2h8m-6-4h8m-7 0h8m-6-3h8m-7 4h8m-6-4h8m-8 0h8m-6 6h8m-8 0h8m-8 1h8m-7-4h8m-7-2h8m-8 5h8m-5-2h8m-7-1h8m-6-3h8m-8 6h8m-7-3h8m-7 4h8m-2-1h8m-6 3h8m-3-2h8m-6-6h8m-6 6h8m-6 2h8m-6-3h8m-7 1h8m-8 0h8m-7-2h8m-8 3h8m-8-1h8m-4 0h8m-4-7h8m-7 9h8m-3 0h8m-7-2h8m-8 0h8m-7-5h8m-6 7h8m-7-3h8m-6-3h8m-8 2h8m-6-2h8m-8 5h8m-7-8h8m-5 9h8m-6-5h8m-4 4h8m-8 0h8m-6-7h8m-7 4h8m-5 4h8m-6-7h8m-4 0h8m-5 1h8m-8-1h8m-7 4h8m-6-3h8m-6 0h8m-6 6h8m1-2h8m-8-6h8m-8 1h8m-5 6h8m-5 0h8m-6-2h8m-5 1h8m0-4h8m18 5h8m-8-8h8m-7 6h8m-1 1h8m4-6h8m-1 8h8m3-1h8m10-1h8m29-2h8m35 4h8m-746 10h8m4-9h8m-7 3h8m0 0h8m-5 0h8m-7 0h8m-7-2h8m-5 3h8m-3 2h8m-8-4h8m-7 0h8m-7 3h8m-6 4h8m-7-9h8m-6 2h8m-7 3h8m-8-3h8m-7 1h8m-7-2h8m-4 4h8m-8 4h8m-6-9h8m-7 1h8m-8 3h8m-7-4h8m-6 1h8m-5-1h8m-7 9h8m2-2h8m-4-1h8m-1 2h8m-2-1h8m-8-6h8m0 8h8m-3-2h8m-8-5h8m-8 0h8m4 3h8m-7-1h8m-4 3h8m1 0h8m-8-6h8m-8 1h8m-5 2h8m6 3h8m-3 1h8m-8 0h8m-1-6h8m2-1h8m-8 8h8m-6-6h8m-5-3h8m-8 2h8m2 4h8m1-3h8m0 3h8m-6-2h8m-5 4h8m-5-2h8m-6 0h8m-8-5h8m14 4h8m-1-1h8m-2 3h8m29-1h8m0-1h8m-2-4h8m-7 5h8m-7 0h8m5-3h8m-3-2h8m-7 6h8m-8-1h8m-8 1h8m1-7h8m-2 1h8m-8 4h8m-3 1h8m-8-6h8m-2 7h8m6-4h8m-3 4h8m-7 0h8m-1-7h8m-7 6h8m-1-1h8m-7-2h8m-7 1h8m-7-1h8m-4-2h8m-6-1h8m-5 2h8m-6 2h8m-5 3h8m-3 2h8m-3-8h8m-8 5h8m-8 0h8m-7-6h8m-8 4h8m-5-2h8m-7 6h8m-7-6h8m-7 6h8m-8-8h8m-7 4h8m-3-3h8m-7 7h8m-7 1h8m-8-1h8m-7-1h8m-6 0h8m-7-1h8m-4 2h8m-7-3h8m-7 4h8m-4-8h8m-8 3h8m-7 2h8m-7-4h8m-8 7h8m-7-8h8m-8 7h8m-5 0h8m-7-7h8m-8 7h8m-7 1h8m-5 0h8m-7-4h8m-7 3h8m-5-6h8m-6 4h8m-7 1h8m-7 2h8m-8-3h8m-7-1h8m-6-5h8m-7 8h8m-5-1h8m-6-2h8m-6 1h8m-8-2h8m-8 5h8m-7-5h8m-4 4h8m-7-4h8m-7-1h8m-8 2h8m-8 0h8m-7 4h8m-7-6h8m-8-2h8m-7 7h8m-7-6h8m-8 5h8m-6-3h8m-8 3h8m-7-3h8m-8-2h8m-7 5h8m-7-1h8m-6-2h8m-7 3h8m-5-1h8m-7 1h8m-8-5h8m-7 3h8m-8 0h8m-8 4h8m-7-4h8m-8-1h8m-8-3h8m-7 5h8m-8 0h8m-7-3h8m-7-3h8m-8 6h8m-6 3h8m-8-9h8m-7 7h8m-4 2h8m-8-8h8m-7 3h8m-7-1h8m-8-2h8m-8 3h8m-6 3h8m-8 0h8m-6 0h8m-7-5h8m-7 3h8m-8 4h8m-7-3h8m-8-1h8m-6 0h8m-7 1h8m-5-2h8m-8 2h8m-6 2h8m-8-3h8m-8-3h8m-7 1h8m-4-1h8m-7-1h8m-3-1h8m-1 6h8m-7-3h8m-6 2h8m-7 2h8m-8 0h8m-6-1h8m-3-3h8m-6 5h8m-8-3h8m-5 3h8m-8-1h8m0-6h8m-3 5h8m-7 2h8m-6-2h8m-6 0h8m-8-2h8m-8 4h8m-4-1h8m-5-5h8m-5 6h8m-7-5h8m-5 2h8m-6 3h8m-6-6h8m-4 3h8m-7-4h8m-7 8h8m-2-7h8m0 3h8m-7 0h8m-7-1h8m-3 5h8m-8-7h8m-1 2h8m-3 3h8m-6-2h8m-2-2h8m-7 0h8m10 4h8m53 2h8m-8-6h8m-723 16h8m-2-8h8m-3 8h8m-3-2h8m-5-7h8m-5 7h8m-6 1h8m-4-2h8m-4-6h8m-7 3h8m-8-1h8m-6 1h8m-6-1h8m-5-2h8m-7 4h8m-5 3h8m-7-4h8m-5 0h8m-6-3h8m-7 6h8m-5-6h8m-7 3h8m-7 5h8m-7-6h8m0 0h8m-7 2h8m-6 3h8m2-1h8m-1-1h8m-7 3h8m-7-5h8m-2 6h8m-6-7h8m-7 5h8m-2 0h8m-6-1h8m1 3h8m-8-1h8m-4-3h8m-7-4h8m-2 1h8m0 0h8m-7-2h8m-6 1h8m-1-1h8m-4 4h8m-6-3h8m5 1h8m-7 1h8m-6 5h8m-4-1h8m-8 1h8m11-3h8m-7-3h8m5 6h8m-4 0h8m-5 0h8m-1 1h8m-4-5h8m-3-4h8m-6 8h8m-7-4h8m-6-2h8m10 5h8m-5-6h8m-3 1h8m-7 6h8m-1-4h8m-1 4h8m-3-2h8m-7-2h8m-5-2h8m1 2h8m-3 2h8m-3-3h8m0-2h8m-4 3h8m-2 1h8m-3 1h8m-8 1h8m-3-6h8m-3 0h8m-7 8h8m0-7h8m-7 6h8m-7-4h8m-2 4h8m-2 0h8m-8-5h8m-3-1h8m1 0h8m-7 0h8m-6 2h8m-6 5h8m-7-8h8m-7 3h8m-3 3h8m-8-4h8m-8 5h8m-7-4h8m-7-2h8m-4 7h8m-6-9h8m-2 4h8m-8 3h8m-8-3h8m-6 3h8m-6 2h8m-3-7h8m-3 0h8m-5-2h8m-8 6h8m-2 3h8m-7-7h8m-6 3h8m-7-4h8m-6 6h8m-6 0h8m-8-5h8m-6-1h8m-7 6h8m-8-1h8m-6 0h8m-5 2h8m-8 0h8m-6-6h8m-8 5h8m-7-1h8m-8-5h8m-8 2h8m-6-3h8m-5 3h8m-8-2h8m-7 5h8m-6-6h8m-7 5h8m-6 3h8m-8-6h8m-5 1h8m-7 3h8m-8-5h8m-8-1h8m-8 2h8m-7 7h8m-6-7h8m-7 0h8m-8-1h8m-7 3h8m-6-4h8m-6 4h8m-7 0h8m-5 2h8m-7 0h8m-7-3h8m-7 5h8m-8-1h8m-8-5h8m-7-2h8m-7 7h8m-7-5h8m-7 2h8m-8-4h8m-6 8h8m-7-5h8m-7-3h8m-8 0h8m-7 2h8m-8 6h8m-8-7h8m-7 8h8m-8 0h8m-7-1h8m-6-6h8m-6 5h8m-7 0h8m-8 2h8m-8-3h8m-8-3h8m-7 4h8m-8-2h8m-7-3h8m-6 6h8m-8-5h8m-7 3h8m-8-2h8m-6 0h8m-8 5h8m-7-8h8m-8 3h8m-8 1h8m-8-5h8m-5 3h8m-8 0h8m-7-2h8m-7 8h8m-7-6h8m-7 1h8m-7 4h8m-8-8h8m-6 3h8m-7 4h8m-8-7h8m-6 4h8m-7 5h8m-7-2h8m-8-4h8m-7 6h8m-7 0h8m-8-8h8m-8 6h8m-7 0h8m-7-1h8m-5 0h8m-8 1h8m-7-1h8m-8-4h8m-7 1h8m-7 0h8m-7 4h8m-8-3h8m-6 5h8m-8-1h8m-7-6h8m-8 0h8m-5 5h8m-8-4h8m-4-3h8m-8 1h8m-6 0h8m-4 2h8m-5 3h8m-7 0h8m-7-5h8m-8 7h8m-6-6h8m-6 5h8m-8 1h8m-7-4h8m-7-3h8m-7 1h8m-8 4h8m-6 1h8m-7-2h8m-6 4h8m-8-6h8m-8 2h8m-6 3h8m-8-4h8m-7 5h8m-2-1h8m-7-2h8m-7-5h8m-8-1h8m-8 9h8m-8-6h8m-6 1h8m-6 0h8m-6 5h8m-7 0h8m-8-3h8m-3 0h8m-7-4h8m-8 3h8m-5 2h8m-4-4h8m-7 0h8m-6 3h8m-6 2h8m-8-5h8m-7 3h8m-6-6h8m-6 0h8m-2 8h8m-7-3h8m-7 1h8m-7 2h8m-7-5h8m2 2h8m0-3h8m-6 2h8m22-4h8m1 5h8m-655 8h8m1 6h8m-6-4h8m-7 0h8m-5-2h8m-7 5h8m-5-5h8m-7 1h8m-6 1h8m-5 4h8m-6 0h8m-7-8h8m-6 0h8m-5-1h8m-7 3h8m-4 5h8m-7-8h8m-2 5h8m-6-4h8m-7 4h8m-6 3h8m-7-4h8m-7-3h8m-8 2h8m-8 3h8m-7-2h8m-6 5h8m2-9h8m-7 6h8m-7 3h8m-4-1h8m-5-4h8m-5-1h8m-5-2h8m-8 0h8m-7 4h8m-8 4h8m0-9h8m2 4h8m0-2h8m-8 1h8m-6 3h8m-5-2h8m-5 1h8m-3-4h8m-5 0h8m-6 4h8m-7-1h8m-2 3h8m3 2h8m2-6h8m-7-1h8m4 4h8m-1-1h8m-3 0h8m-2-5h8m-1 2h8m-5 1h8m0 2h8m-4-1h8m-7-3h8m-5 4h8m5 1h8m-6 0h8m2 0h8m-1-3h8m0 6h8m6 0h8m-7-2h8m0-1h8m-7-1h8m-3 1h8m-7-1h8m-2-3h8m15-2h8m-7 1h8m-8 8h8m-7-2h8m-4 0h8m-8 2h8m13-6h8m-6 2h8m-7-1h8m-2 1h8m-3 2h8m-7-1h8m-5-3h8m-8 3h8m-8-4h8m-5 0h8m-7 5h8m-8 2h8m-5-7h8m-7 7h8m-7-4h8m-8-1h8m-7 1h8m4 2h8m-7-2h8m-4 2h8m-7-1h8m-8 0h8m1 3h8m-6-5h8m-4-1h8m-7 2h8m-7-4h8m-5 1h8m-6 0h8m-7 2h8m-6-3h8m-8 1h8m-6 7h8m-5-7h8m-6-1h8m-6 5h8m-8-1h8m-5-3h8m-6 1h8m-7 3h8m-8 1h8m-5-7h8m-7 1h8m-7 4h8m-5 0h8m-6-2h8m-7-1h8m-8-2h8m-8 2h8m-8 2h8m-7 1h8m-4-3h8m-6 2h8m-7 0h8m-4 2h8m-8-3h8m-7-1h8m-8 2h8m-8 5h8m-8-4h8m-7-3h8m-7 6h8m-7-2h8m-6-3h8m-8 1h8m-7-2h8m-6 5h8m-7-2h8m-8-4h8m-5 5h8m-5-5h8m-5 6h8m-7-4h8m-8-2h8m-7-1h8m-8 8h8m-8-2h8m-7-5h8m-8 6h8m-7-4h8m-8 5h8m-8-8h8m-6 3h8m-7-2h8m-7 5h8m-8 1h8m-8-3h8m-8 3h8m-8-3h8m-8 5h8m-7-2h8m-7 1h8m-8-4h8m-7 0h8m-6 2h8m-8 1h8m-8 1h8m-8-8h8m-7 8h8m-8-7h8m-7 2h8m-7 6h8m-7-9h8m-7 5h8m-8-4h8m-8 5h8m-7 1h8m-7-6h8m-5 4h8m-8-5h8m-7 9h8m-7-4h8m-7-1h8m-6-3h8m-8 8h8m-6-3h8m-8 2h8m-4-8h8m-7 6h8m-8 0h8m-8 0h8m-6-2h8m-8 4h8m-6-2h8m-8-6h8m-3 9h8m-8-1h8m-7-8h8m-8 1h8m-6 6h8m-8 1h8m-7-3h8m-7 1h8m-8-6h8m-7 0h8m-8 8h8m-7-1h8m-6 0h8m-6-7h8m-6 9h8m-8-9h8m-7 5h8m-8-4h8m-7 6h8m-7 0h8m-8 0h8m-5-2h8m-8-5h8m-8 6h8m-2 2h8m-8-6h8m-8 4h8m-5-2h8m-7 2h8m-8-4h8m-6 3h8m-8-2h8m-6 0h8m-8-3h8m-2 0h8m-6 0h8m-6 6h8m-7-3h8m-7 0h8m-7-2h8m-6 8h8m-6-2h8m-5 1h8m-4-5h8m-7 3h8m-5-1h8m-2 1h8m-6-4h8m-5 3h8m-5-2h8m-8 4h8m-6-3h8m-6-1h8m-4 1h8m3 0h8m-7-4h8m-6 8h8m-5-7h8m-8 0h8m-5 7h8m-7-5h8m1-3h8m-1 4h8m-5 5h8m-5-8h8m8 3h8m1 0h8m-684 7h8m-3 2h8m23 6h8m-7-7h8m-6 6h8m-1-7h8m-8 5h8m-6 1h8m-4 2h8m-5-1h8m-6-5h8m1 3h8m-8 0h8m-6-2h8m15 3h8m-8-3h8m-6 3h8m-8-5h8m-8 2h8m-4-4h8m3 3h8m-7 0h8m-4 4h8m-4-2h8m-8-5h8m-3 2h8m-7 3h8m10-5h8m-6 2h8m-5 0h8m-6 2h8m-8-2h8m-3 4h8m-5 3h8m-6-4h8m-2 4h8m-5-5h8m-5 5h8m-8-5h8m2 2h8m-6-1h8m-1-2h8m-7-3h8m-7 5h8m-7-1h8m-3 3h8m5-3h8m-5 1h8m-6 1h8m2 1h8m-2-6h8m-3 8h8m4-2h8m-5-4h8m-6 5h8m-7-5h8m-1 1h8m-7-1h8m-3-3h8m-6 3h8m-7 2h8m-3 4h8m6-7h8m-8 3h8m1-1h8m-5 4h8m-7-5h8m5 2h8m-5 2h8m-6-3h8m-6-4h8m0 6h8m-5-2h8m4-4h8m-1 6h8m-1 2h8m-2-1h8m8 1h8m1-4h8m-6-2h8m-6 7h8m-6-4h8m-6-4h8m-5-1h8m-4 6h8m-8 1h8m-7 1h8m-8-5h8m-7 6h8m-7-5h8m-8 3h8m-6 0h8m-8-3h8m-7-2h8m-7 1h8m-4-3h8m-4 7h8m-5-4h8m-7 3h8m-2 1h8m-8-2h8m-6 2h8m-6-3h8m-7 5h8m-5-6h8m-7-3h8m-7 5h8m-5-3h8m-8 6h8m-6-7h8m-7 1h8m-7 6h8m-8-5h8m-6-2h8m-7 0h8m-7 7h8m-8-7h8m-7 4h8m-8-3h8m-7 2h8m-7-1h8m-7 5h8m-6-6h8m-7 3h8m-8-5h8m-7 9h8m-7-3h8m-7-5h8m-8-1h8m-7 3h8m-7 4h8m-5 1h8m-7-2h8m-8 3h8m-7-6h8m-4 5h8m-4 0h8m-6-5h8m-6 0h8m-8 2h8m-7 4h8m-7-8h8m-7 3h8m-8-2h8m1 2h8m-7-3h8m-3 2h8m-7 1h8m-7 0h8m-7-1h8m-8-3h8m-8 6h8m-8 1h8m-8 2h8m-6-3h8m-7-1h8m-5-3h8m-6-2h8m-8 1h8m-6 1h8m-6 4h8m-6 3h8m-6-3h8m-8-3h8m-8-3h8m-6 7h8m-8 2h8m-8-4h8m-8-3h8m-6 5h8m-5-6h8m-4 8h8m-5-6h8m-6-2h8m-8 4h8m-4 0h8m-8 0h8m-4-5h8m-7 8h8m-5-2h8m-6-2h8m-7 0h8m-8 2h8m-7-5h8m-8 8h8m-6-2h8m-4-2h8m-8 3h8m-4 1h8m-7-7h8m-5 2h8m-6-3h8m-7 6h8m-8-3h8m-5 0h8m-8 0h8m-4 1h8m-7 4h8m-6-2h8m-8-2h8m-6 4h8m-5-7h8m-7 4h8m4-5h8m-6-1h8m-4 8h8m-7-4h8m-2 5h8m-2-3h8m1-4h8m-6 4h8m8 2h8m12-1h8m-7 0h8m3-7h8m-3 1h8m-662 13h8m16-2h8m-5 4h8m0 1h8m4 0h8m-6-3h8m-7-4h8m-3 0h8m6 3h8m-2-3h8m-7 0h8m-5 7h8m-8-1h8m7-1h8m15 0h8m-8-1h8m-6-4h8m-5 3h8m3 2h8m-8-4h8m-2 8h8m-6-3h8m-6-1h8m-7-1h8m-6-4h8m-4 2h8m-8 5h8m-6 0h8m-5-2h8m-6 2h8m-6-1h8m-5-3h8m-6 1h8m0 3h8m-6-2h8m1-4h8m0 3h8m-8 3h8m-7-3h8m-4-2h8m-7 1h8m-3-3h8m-6 7h8m-7 2h8m-8-1h8m11-7h8m-4-1h8m-3 5h8m-7 2h8m4-3h8m-2 4h8m-7 1h8m-7-6h8m-1 1h8m-7-1h8m0-2h8m-3 3h8m-1-1h8m-7-3h8m-7 4h8m13 0h8m-3-1h8m0 6h8m-3 0h8m-7-7h8m9 7h8m-1 0h8m-4-3h8m-7 2h8m-7 0h8m-6-8h8m0 4h8m3-4h8m-6 5h8m-7-4h8m-8 2h8m-2-2h8m-7 0h8m-6-1h8m-6 8h8m-4-8h8m-5 6h8m-7-6h8m-5 6h8m-8-3h8m-3-1h8m-5 0h8m-2-2h8m-6 8h8m-8-4h8m-7 3h8m-2-7h8m-4 6h8m0-6h8m-7 1h8m-4 7h8m-6-4h8m-5 1h8m0 0h8m-5 0h8m-6-5h8m-8 1h8m-7 6h8m-7-2h8m-8-4h8m-6 7h8m-7 1h8m-8-8h8m-3 0h8m-4 0h8m-8 3h8m-7 1h8m1 2h8m-7-2h8m-6-5h8m-4 0h8m-7 1h8m-5 4h8m-6-3h8m-7 4h8m-7-5h8m-8 0h8m-7 2h8m-4 3h8m-8-6h8m-7 0h8m-5 7h8m-5 2h8m-5-3h8m-6-2h8m-5-4h8m-6 0h8m-7 4h8m-6 1h8m-8-1h8m-4 0h8m-8-1h8m-7 4h8m-8-3h8m-6-4h8m-4 7h8m-7-5h8m-4 4h8m-3-4h8m-7 1h8m-4 0h8m1-3h8m-1 3h8m-7 0h8m0-2h8m-3 1h8m-5-1h8m-2 1h8m-7-1h8m-5 4h8m-2-4h8m-6 0h8m-5 7h8m-7-5h8m-1 3h8m4 3h8m-652 6h8m-3-2h8m-4-2h8m4 4h8m-5 0h8m9-3h8m-7 0h8m-1 1h8m2 3h8m-2-2h8m-6-4h8m0 4h8m10 4h8m-8-1h8m-7-3h8m-5 2h8m-6 3h8m5-3h8m-7 2h8m-4-2h8m-8-3h8m-1 3h8m-7-3h8m-4-1h8m-6 0h8m2 0h8m-4 5h8m-5-6h8m0 5h8m-7 1h8m-3-7h8m-8 5h8m-8-1h8m1 4h8m0-6h8m-5 1h8m-7 1h8m-7-2h8m-4 2h8m-3 1h8m-5-4h8m-2 1h8m-7-1h8m-7 8h8m-6-2h8m2-4h8m-6 4h8m1 2h8m-3-9h8m10 2h8m-8 7h8m-7-5h8m-7-4h8m-8 9h8m-8-3h8m-7-1h8m-3-4h8m-5 6h8m-6-4h8m7 5h8m-4 0h8m4-2h8m-1 1h8m-2 1h8m-6-4h8m-5 4h8m15-8h8m-8 9h8m-4-3h8m8-3h8m-5 0h8m4 4h8m-2 2h8m-8-5h8m-5-2h8m-8 2h8m2 1h8m-5 0h8m-7 2h8m9 1h8m-7-8h8m-4 2h8m-3 6h8m-4-5h8m-1 5h8m-3 1h8m2-9h8m-7 4h8m-6-3h8m-2 7h8m-7-7h8m3 1h8m-7 0h8m-5 6h8m-6 1h8m-7-8h8m-5 8h8m-7-4h8m-3 2h8m-5-5h8m-7 1h8m-2 2h8m-6 1h8m-8-1h8m-6-1h8m-3-4h8m-2 9h8m-7-2h8m-4-7h8m-3 2h8m-6 7h8m-7-2h8m1-7h8m-3 0h8m-6 6h8m-4-4h8m6 5h8m-6-5h8m-1 7h8m3-4h8m-7 3h8m-6-6h8m-5-1h8m-5 6h8m-6-7h8m-6 0h8m2 8h8m-7-4h8m-4 2h8m7-2h8m4 2h8m2-1h8m-6-2h8m18-1h8m-670 15h8m-1-6h8m6 3h8m6 2h8m-7 1h8m2-4h8m-1-3h8m6 9h8m0 0h8m2-4h8m-2 1h8m-3 3h8m6-2h8m-3-2h8m14 2h8m-8-4h8m-8 2h8m-1-4h8m-2 5h8m8-2h8m-3 1h8m-7-2h8m2 6h8m-7 0h8m-7 0h8m-7-3h8m-7 1h8m-7-2h8m-2 1h8m-8-3h8m-7 4h8m-7-2h8m-4 0h8m-6-3h8m-5 2h8m-7 5h8m-7 0h8m-3-2h8m-5-7h8m3 3h8m-2 0h8m-7 6h8m-4-6h8m-8-3h8m-1 2h8m-7 1h8m-6-1h8m6 2h8m-1-1h8m-8-1h8m-5 4h8m-7 3h8m1-5h8m-4-3h8m-5-1h8m-7 9h8m-6-8h8m-8 1h8m-2-2h8m1 1h8m-1 3h8m10-1h8m-7 6h8m-5-5h8m-1 4h8m4-8h8m-3 9h8m-6-3h8m0-3h8m-7-1h8m1 7h8m-2-6h8m-4 3h8m-8 2h8m4-7h8m-6 3h8m-7-2h8m-3 6h8m-4-2h8m-8 2h8m-7-3h8m9-1h8m-6-3h8m-6-1h8m4 9h8m4-6h8m3-2h8m-5-1h8m-7 9h8m-8-2h8m-6 0h8m4-6h8m0-1h8m3 3h8m4-3h8m-4 3h8m7-2h8m-4 7h8m8-6h8m19-2h8m-5 1h8m-4 1h8m-4 4h8m6 2h8m0-8h8m-6 6h8m0-2h8m5-1h8m-655 9h8m23-1h8m-5 6h8m8-1h8m-6-2h8m-1 2h8m-6 2h8m1-3h8m-5-2h8m6-2h8m-8 8h8m-7-6h8m-5 0h8m11 1h8m-7 0h8m-4 1h8m-6-2h8m-3 3h8m-8-5h8m-4 3h8m-5-1h8m-6 0h8m-4 0h8m-8 0h8m-5-3h8m3 1h8m-7 4h8m1-5h8m-7 2h8m-3 4h8m-3 3h8m4 0h8m-6-3h8m-8-5h8m-4 3h8m-7-2h8m8 3h8m-3-2h8m-6-3h8m-7 4h8m1-4h8m-3 4h8m3 5h8m-3-7h8m-6 2h8m-1-2h8m-1 4h8m1-2h8m3-3h8m-4 4h8m20-2h8m13-3h8m-3 4h8m0-3h8m-7 2h8m10 5h8m2-4h8m11 2h8m13-4h8m-5 4h8m-5 1h8m17-4h8m0 3h8m8-3h8m0-3h8m10 5h8m0-2h8m-8 4h8m-3-3h8m11 2h8m-6-3h8m2-1h8m9-2h8m-7 1h8m1 7h8m4-6h8m5-1h8m-5-1h8m-6 0h8m-4 3h8m-6 5h8m31-6h8m33 4h8m10 3h8m-709 4h8m1 1h8m6 0h8m-8 1h8m3-4h8m-6 6h8m1 2h8m-3-9h8m-8 8h8m-1-3h8m36 2h8m-6 0h8m-7-4h8m-7 5h8m1-8h8m-7 6h8m2-5h8m-7 3h8m-4 1h8m-6 2h8m0-7h8m-8 5h8m-3-5h8m10 3h8m1-3h8m-3 7h8m-3-4h8m-8 2h8m-7 1h8m-1 2h8m-7-6h8m0-2h8m-3 3h8m-5 0h8m-7 2h8m-5 4h8m-6-3h8m-5 1h8m-8-6h8m-4 4h8m-6 3h8m-7-7h8m0 7h8m7-2h8m14-2h8m-2 1h8m-7-3h8m2-2h8m-3 7h8m-8 0h8m-7-3h8m-4 0h8m8 2h8m1 3h8m-7-2h8m-4 0h8m9 2h8m8-4h8m4 2h8m23-1h8m0 2h8m20-7h8m14 0h8m-5 0h8m-7 4h8m-5 3h8m-5-6h8m12 0h8m-1 3h8m-7-3h8m-8-1h8m31 8h8m2-7h8m62 3h8m-622 13h8m2 1h8m4-2h8m-1-5h8m25 6h8m-6-3h8m-7-5h8m-6 1h8m-7 8h8m-4-8h8m-4 6h8m-7-2h8m-4 3h8m-8-5h8m3 5h8m-5-6h8m-5 7h8m-6-9h8m-4 6h8m-5 1h8m-6 2h8m-2 0h8m3-7h8m-1 5h8m-1-1h8m2 0h8m8-2h8m-8-1h8m-5 4h8m-7-6h8m-5 3h8m-8-4h8m-6 6h8m-2-6h8m-5 8h8m-7-5h8m-8-3h8m-7 9h8m-4-7h8m-7 1h8m-7 2h8m-8 4h8m-6-4h8m-3-5h8m-8 6h8m1-1h8m-4-1h8m-6 2h8m2-3h8m18-2h8m-4 3h8m-1 2h8m10 2h8m-6-3h8m-7-4h8m-3 7h8m-7 1h8m-7 0h8m-4-1h8m-5-5h8m-4 3h8m-5-3h8m-4 6h8m-4-8h8m-4 4h8m-3-1h8m-6 0h8m-7-2h8m-7-2h8m-1 2h8m-4 5h8m0 1h8m-8-8h8m-3 6h8m-5-4h8m-4 4h8m32-5h8m3 1h8m17 3h8m4-5h8m-2 8h8m-7-4h8m5 4h8m8 1h8m24-4h8m31-4h8m9 0h8m-4 3h8m2-2h8m94 6h8m36-1h8m-723 7h8m6-3h8m-5 0h8m-6 2h8m-8 5h8m7 1h8m-7 0h8m-7-9h8m-6 9h8m-7-4h8m-7-5h8m-2 3h8m-8 3h8m-6-6h8m3 8h8m-8-2h8m-6-5h8m3 3h8m-6 4h8m-4-3h8m-7-5h8m1 6h8m-7-1h8m9-5h8m15 2h8m-7-2h8m3 4h8m-7 4h8m-2-4h8m6 1h8m-8-3h8m-5 1h8m-1-1h8m-5 0h8m-3 3h8m-5 4h8m-3 0h8m-7-4h8m-5-2h8m-6 5h8m-5-8h8m-7 0h8m-5 9h8m5-7h8m11 4h8m-6-6h8m-5 8h8m-4-5h8m-8-3h8m-8 8h8m-8-1h8m0-4h8m-5 0h8m20-2h8m2 2h8m-2-3h8m-4 6h8m-6-5h8m-2 6h8m-4-3h8m-7-3h8m0-1h8m-1 3h8m-3 1h8m8 3h8m-6 1h8m-2 1h8m2-9h8m14 6h8m-3 3h8m-2-1h8m-6-2h8m9 3h8m-5-1h8m-4-1h8m46-1h8m45-1h8m-4 2h8m216-7h8m-772 12h8m-2 7h8m0-3h8m43 1h8m-2-2h8m-2-4h8m-7 1h8m-5 6h8m-7-4h8m-7 0h8m-5 1h8m-7-4h8m-8 8h8m-8-6h8m-2 3h8m-8-6h8m-3 0h8m-8 2h8m-4 5h8m4-6h8m-5 6h8m-4-7h8m2 8h8m-2-2h8m-5-6h8m-5 8h8m-7-4h8m-6 2h8m11 3h8m-5-1h8m5-8h8m-6 3h8m-1 5h8m-6-4h8m3-2h8m-4 3h8m12 1h8m-2 2h8m-7-4h8m-6 3h8m14-1h8m-6 1h8m1 0h8m10-1h8m5-5h8m-4 6h8m-7 0h8m8 1h8m-7-8h8m-5 0h8m-6 7h8m-1 1h8m-4 1h8m-2 0h8m-8-4h8m8 3h8m42-3h8m-8-2h8m7-2h8m-7 1h8m3-1h8m0 4h8m76-5h8m21 1h8m-573 11h8m5 7h8m-8-1h8m3-5h8m-6 0h8m-1-2h8m-5 0h8m4 0h8m-5 3h8m-6-4h8m8 8h8m18 1h8m7-1h8m-1 1h8m-8-5h8m-7 5h8m-4-3h8m5 0h8m-6-1h8m-6 4h8m6-7h8m-6 7h8m2-6h8m19 1h8m19-4h8m5 3h8m-5-1h8m-6 6h8m-7-8h8m-6 8h8m-7-8h8m-5 8h8m-6-6h8m-6 0h8m-3 7h8m-2-4h8m-8-2h8m26-2h8m-7 8h8m2 0h8m-2-2h8m21-2h8m0 0h8m2-3h8m-7-2h8m-5 1h8m5 6h8m19-2h8m-3-5h8m3 4h8m63-4h8m39 7h8m83-5h8m-628 13h8m-7 4h8m-2-1h8m-4 0h8m14-7h8m-6 6h8m-6 1h8m-8-4h8m5-3h8m-1 8h8m-2-9h8m-2 4h8m-5 0h8m-3 0h8m-6-2h8m-1-1h8m7 0h8m-6-1h8m-2 8h8m-1-5h8m-1 0h8m-2-1h8m-1 5h8m-3-5h8m-7 4h8m-7 1h8m0-2h8m-7 1h8m-7-1h8m-7-5h8m11 8h8m-6-6h8m-7 5h8m-5-7h8m-8 0h8m-4 1h8m8 7h8m-6-3h8m6 4h8m-5 0h8m-8 0h8m-5-5h8m-1 4h8m-5 1h8m6-7h8m-2 3h8m20 0h8m-5-1h8m4 1h8m6 2h8m-8-6h8m0-1h8m25 8h8m18-4h8m7 3h8m-6 1h8m10-5h8m19 6h8m-455 6h8m35 0h8m3-4h8m2 6h8m-5-7h8m28 6h8m-4-1h8m9 0h8m5-4h8m-3 8h8m1 0h8m5-4h8m-4 2h8m0-7h8m-3 9h8m-7-8h8m-1 6h8m-7-2h8m1 4h8m-8-6h8m11 3h8m-8 0h8m-3-2h8m0 3h8m-6 2h8m11-5h8m-8 2h8m-7-6h8m-6 4h8m-6-4h8m-3 8h8m2-7h8m-8 5h8m-4-6h8m-7 9h8m-1-8h8m9 2h8m-5-2h8m-3 0h8m0-1h8m0 2h8m-8 1h8m3 0h8m17 4h8m72-7h8m0 5h8m186-3h8m-599 9h8m2 0h8m18 3h8m-2 0h8m-1-1h8m0 5h8m3-6h8m-5 3h8m-5-4h8m0 2h8m1 4h8m-4-5h8m-7-1h8m-7 0h8m-2 2h8m-4 0h8m-4-3h8m-7 7h8m-7-6h8m6 0h8m-6 4h8m0-1h8m-4-4h8m-5 5h8m-2 0h8m-7-4h8m-4-1h8m20 4h8m-7 4h8m-6 0h8m7-6h8m-7 1h8m-5-3h8m-6 9h8m6-3h8m8 2h8m-8-6h8m6 7h8m18-6h8m-8 5h8m7-2h8m20 3h8m-331 9h8m1-6h8m-7 4h8m-7-6h8m-8 3h8m-4 5h8m-3 0h8m-2-3h8m0-2h8m12-1h8m-7 2h8m18 5h8m-4-4h8m-3 4h8m-7-1h8m-2-5h8m-3 5h8m-5 1h8m4 0h8m-5-3h8m-2-1h8m5-4h8m-2 4h8m-4 4h8m-5-5h8m-2-1h8m-5 3h8m-5-5h8m-6 6h8m8 1h8m-2-1h8m-4 1h8m-3-5h8m2 1h8m2 3h8m7 2h8m-7-4h8m8-5h8m30 7h8m20-3h8m-6-2h8m12 0h8m17 7h8m2-9h8m-416 14h8m12 1h8m38-5h8m-4 4h8m0 4h8m1 1h8m-3-2h8m-3-7h8m9 5h8m-6 4h8m-7-4h8m-4 0h8m3-2h8m1 5h8m-6-3h8m-8-4h8m8-1h8m-7 1h8m0 8h8m0 0h8m29-1h8m0 1h8m-4 0h8m-7-9h8m-6 6h8m14-6h8m-2 2h8m-4 4h8m-3-1h8m-6 3h8m17 1h8m-7-4h8m8-2h8m29 6h8m0-3h8m167-1h8m-516 8h8m-6 2h8m-3 4h8m1-7h8m13 5h8m30-2h8m8 2h8m-7-6h8m-1 4h8m-3 1h8m-1 2h8m-3-8h8m-6 0h8m9 7h8m-8-6h8m-5 4h8m2-1h8m-2 3h8m-6-1h8m6-5h8m-1 7h8m-6-5h8m9 1h8m-8-4h8m-1 5h8m-8 3h8m-6-3h8m-7 1h8m6 0h8m14 1h8m-1 1h8m10-5h8m-7-3h8m-2 9h8m6-9h8m-5 6h8m3-2h8m0-4h8m16 6h8m22-6h8m-397 19h8m-1-6h8m12 2h8m17-5h8m-2 0h8m-4 9h8m10-6h8m-3 1h8m-2-3h8m-2 1h8m1 4h8m-7-1h8m-7 0h8m18-4h8m-4 4h8m-4 1h8m-5-2h8m-6 1h8m-5 0h8m2-5h8m-4 4h8m5 5h8m-7-4h8m29-1h8m18-2h8m0 6h8m0-6h8m9 5h8m0-3h8m15 1h8m7 3h8m-6-5h8m10-3h8m3 6h8m-5-5h8m39 3h8m-390 15h8m-8-3h8m-1-5h8m11 0h8m12-1h8m2 4h8m36 0h8m-7 2h8m-6 3h8m8-3h8m-1 0h8m-7-4h8m-2 1h8m16 2h8m-2-2h8m5 0h8m11 2h8m-2 3h8m13-1h8m10-7h8m-5 3h8m9-2h8m13 7h8m-293 6h8m10 5h8m-8-4h8m3-5h8m16 0h8m0 7h8m19-7h8m6 0h8m25 6h8m6 3h8m-4-6h8m-6-3h8m5 1h8m-6 8h8m-6-1h8m4 1h8m-3-3h8m6 1h8m6-7h8m-8 2h8m10 1h8m-3 3h8m-1-2h8m-5-4h8m-4 2h8m0 5h8m-2-5h8m20 3h8m16-2h8m-333 16h8m1-3h8m-7-3h8m-8 4h8m2-7h8m-7 2h8m18 7h8m-3-3h8m23-4h8m-7 5h8m-6-5h8m1-2h8m11 8h8m6-2h8m5 3h8m-3-9h8m6 4h8m8 0h8m17-1h8m14 0h8m15-1h8m96 4h8m-374 7h8m50 4h8m8 0h8m1 0h8m50-5h8m-1 2h8m-6 3h8m1-3h8m27 1h8m19-5h8m9 2h8m-8 3h8m29-2h8m82 0h8m4-1h8m-375 10h8m91 0h8m-8 0h8m51 4h8m34-1h8m19 2h8m55-2h8m-186 6h8m16 1h8m-7 1h8m1 0h8m27 5h8m49-2h8m84-5h8m-275 12h8m18 3h8m2-6h8m43 2h8m21 4h8m4-1h8m24 4h8m-7-8h8m31 8h8m27-3h8m-296 4h8m37 4h8m13 5h8m-6-4h8m35-5h8m44 2h8m5 5h8m-1-5h8m4 7h8m-1-1h8m8 0h8m114-3h8m-250 6h8m32 6h8m52-2h8m-221 9h8m132-3h8m14 4h8m21 4h8m24-7h8m-224 10h8m58-2h8m84 9h8m-153 2h8m166 2h8m78 1h8m82 1h8m-223 10h8m171-5h8m-244 16h8m126-2h8m25-2h8m-195 8h8m102 1h8m40 2h8m-3-3h8m-198 12h8m49 27h8m128-4h8m-150 16h8m20 25h8m-97 13h8m139 20h8" stroke="#000" stroke-width="8" stroke-opacity="1" fill="none"/>
<path transform="scale(.1)" d="M3158 224h8m-8 3h8m33 17h8m25 7h8m-147 23h8m-3-2h8m144 43h8m16 0h8m-100 9h8m-28 10h8m37-3h8m34 4h8m38-2h8m-148 15h8m28-8h8m2 7h8m25-1h8m16-4h8m7-1h8m26 8h8m20-7h8m36 7h8m-278 7h8m-4-4h8m53 2h8m42 4h8m44-4h8m8 3h8m99-4h8m-316 8h8m-7 0h8m0 6h8m46-5h8m-7-1h8m-2 8h8m21-4h8m-6 3h8m1 0h8m13 1h8m19-6h8m0-1h8m-5-2h8m18 6h8m6 2h8m-3-8h8m15 0h8m11 9h8m0-7h8m-238 15h8m-8-2h8m25 1h8m19-2h8m10 5h8m68-4h8m6 2h8m16-6h8m1 6h8m4-7h8m-6 5h8m9 3h8m6 1h8m2-7h8m-5 7h8m8 0h8m-291 5h8m39 4h8m-4-2h8m23 3h8m6-4h8m38 3h8m-7-6h8m41 1h8m7 6h8m-5-9h8m2 5h8m21 1h8m22-6h8m-278 14h8m-4 4h8m38-6h8m14 7h8m-5-8h8m-1 6h8m-7-6h8m42 3h8m-7 5h8m-6-2h8m-8 1h8m29-6h8m3 3h8m18-1h8m-6-2h8m-4 6h8m-8-7h8m0 1h8m-7 7h8m-5 0h8m-4-7h8m4 7h8m-7-4h8m-4 0h8m-3 1h8m10 3h8m0-7h8m-8 6h8m4 1h8m-319 10h8m4-7h8m0 1h8m6-3h8m9 5h8m-7 1h8m14 3h8m-1-4h8m16-5h8m6 3h8m10 5h8m-3-5h8m-7 0h8m-6-1h8m23-2h8m-5 2h8m9 1h8m21-1h8m-2 4h8m0-4h8m-2-2h8m-8 9h8m21-4h8m3 1h8m8-4h8m3 4h8m11 2h8m10-1h8m-6-4h8m26 3h8m5-5h8m-424 12h8m28 3h8m-5-1h8m-2 4h8m60-3h8m5 3h8m1-9h8m-8 9h8m3-7h8m12 5h8m-3-1h8m-5 2h8m0 1h8m-4-8h8m1 5h8m-6-2h8m9-4h8m-6 2h8m0 2h8m13 1h8m-1 4h8m-8-5h8m14 3h8m-4 2h8m-3-9h8m2 4h8m-5 3h8m37 2h8m4-5h8m-1 3h8m-6-1h8m9 3h8m-3-1h8m-318 8h8m-8 0h8m-7-4h8m-5-2h8m-6 5h8m6-4h8m23 0h8m-5 1h8m5 1h8m-8 6h8m0 0h8m-3 0h8m-3-5h8m-7 1h8m3 2h8m-6-5h8m-6 3h8m-3 0h8m-4 3h8m-1-2h8m-7 2h8m-3-2h8m6 3h8m0 0h8m0-8h8m-5 8h8m1-3h8m6 2h8m1-8h8m-6 6h8m-7-1h8m-7-2h8m-8 6h8m-5-8h8m-6 0h8m29 8h8m-3-8h8m11 6h8m9-6h8m127 1h8m-494 17h8m5-7h8m-7 6h8m-3 0h8m10-5h8m20 5h8m3-1h8m6 0h8m-3-1h8m5 1h8m-2-1h8m13-1h8m0-4h8m-4-1h8m8 2h8m-1-2h8m-7 9h8m4-6h8m-7 2h8m-4-5h8m-3 9h8m-4-9h8m4 4h8m7-3h8m-7 6h8m0-7h8m8 6h8m-6 1h8m-4-4h8m5-3h8m-5 3h8m-6 0h8m-4-3h8m0 2h8m43 0h8m-4 6h8m-6-3h8m24-3h8m20 5h8m6-1h8m33 0h8m-454 9h8m18-2h8m18 3h8m3-5h8m-7 4h8m-6 2h8m-2-3h8m-7 0h8m-7 0h8m-4 3h8m-2-3h8m-3 1h8m-5-4h8m-7 6h8m-5-7h8m-5 4h8m-4-4h8m-6 9h8m21-7h8m-5 3h8m-3 2h8m0-3h8m-7 1h8m-5-2h8m-7-3h8m-4 1h8m-4 8h8m1-3h8m0 1h8m-1 2h8m-3-3h8m-5-1h8m-8 2h8m-5 1h8m-7-2h8m-3 2h8m-8-5h8m8 5h8m-6-1h8m-5-4h8m-8 5h8m3 1h8m-3-2h8m-5-1h8m-1-1h8m-5 4h8m-7-1h8m8-7h8m-1 5h8m-4-6h8m-4 5h8m18 0h8m-5-3h8m-1 1h8m-4 0h8m16 4h8m30-1h8m1 1h8m32-5h8m-447 16h8m3-1h8m-2 0h8m0-2h8m-6 3h8m-2-8h8m-7 7h8m-6 2h8m-7-3h8m3 1h8m-4-2h8m-1 2h8m-6-5h8m-6 1h8m-7-3h8m-7 9h8m-1-9h8m-7 4h8m-5-3h8m-5 5h8m-6-6h8m-2 8h8m-2-8h8m-2 3h8m-1-1h8m-4 1h8m-6 4h8m-5-1h8m-7 0h8m-7-1h8m-8-5h8m0 2h8m-5 4h8m-4-2h8m-8 0h8m-7 4h8m-4-1h8m-6-6h8m-8 4h8m-7 4h8m-8-8h8m-6 8h8m-7-6h8m-3 5h8m6-1h8m-8 2h8m-7 0h8m6-4h8m2-1h8m-4 1h8m-4 2h8m-3-5h8m-4 5h8m-8-3h8m-7-2h8m-4 5h8m-1 0h8m-7 1h8m-4-2h8m-5-6h8m-8 1h8m5 0h8m6 0h8m-2-1h8m-1 3h8m-5 0h8m-7 4h8m-8-6h8m-5 5h8m7-5h8m-7 5h8m-6-3h8m-5 2h8m1-2h8m-2 1h8m0 0h8m-7 5h8m5 0h8m1-2h8m10 0h8m-5-5h8m3 4h8m13-3h8m42 5h8m-444 7h8m11 3h8m-5-5h8m-3 6h8m26-8h8m-3 2h8m-5-1h8m-8 7h8m9-5h8m0-2h8m-7 3h8m-4-5h8m-5 8h8m-5 0h8m-4-5h8m-5 3h8m-4 3h8m-6-4h8m-6-1h8m-8-4h8m-6 7h8m-4 1h8m-8-1h8m-1-5h8m-7 7h8m-6-4h8m-5 3h8m-6-2h8m-5-5h8m-7 7h8m-5-4h8m-6-3h8m-6 1h8m-8 1h8m7 4h8m-6 0h8m-6-1h8m-6 0h8m0 2h8m-7-1h8m-6-6h8m-8 4h8m-6 3h8m-8-4h8m-7-1h8m-2 2h8m-6-5h8m-5 3h8m6-2h8m-7 0h8m-3 4h8m-4 3h8m-6-1h8m-6-5h8m-8 7h8m4-7h8m-4 5h8m-8 0h8m-6-5h8m-7 2h8m-3 1h8m-6-3h8m-7-1h8m-6 2h8m-6 3h8m-3-5h8m2 6h8m-5-5h8m-3 1h8m-7 6h8m-3 0h8m6-6h8m-1-1h8m-8-1h8m1 4h8m-3 1h8m3-6h8m-8 9h8m1-1h8m3-2h8m-3 0h8m-4-1h8m-1-4h8m-4 7h8m-2 0h8m-5 0h8m50 1h8m-2-5h8m-460 12h8m-3-3h8m3 5h8m-2-6h8m-6 5h8m12 1h8m-6-6h8m-5 1h8m13 6h8m0-1h8m2-6h8m4 3h8m12 1h8m-7-2h8m-1 0h8m-4-4h8m-8 6h8m-6 2h8m-5-1h8m-4 1h8m-6-5h8m-7 0h8m-2 1h8m-5-1h8m-1 4h8m-8-2h8m-4-5h8m-7 7h8m-2-4h8m-2 0h8m-7 4h8m-6 2h8m-5 0h8m-2 0h8m-5 0h8m-7-7h8m-1 4h8m-2 2h8m-7 0h8m-4-5h8m2 6h8m-4-7h8m-6 2h8m-4 4h8m-6-5h8m-7-1h8m-2 5h8m-8 1h8m-4-8h8m2 1h8m-1 8h8m-7-7h8m-7 6h8m-5-2h8m-6 3h8m-6-1h8m-5-8h8m0 9h8m3-5h8m-8-1h8m-6-1h8m-6 6h8m-1-5h8m-8 3h8m-7 0h8m-6-4h8m-7-2h8m-5 4h8m9 4h8m-4 1h8m15-3h8m-2-2h8m-5 2h8m6 1h8m-6-7h8m-7 2h8m-1 1h8m15 5h8m0 1h8m0-6h8m4 2h8m10-3h8m12 7h8m-474 5h8m-7 2h8m-8 1h8m-7 1h8m7-6h8m-6 2h8m-2 4h8m-5-1h8m-3-6h8m-6 2h8m8 4h8m-8-4h8m-7 4h8m7-3h8m-4 3h8m-6-5h8m3 7h8m-6-6h8m-5-2h8m-5 0h8m-7 4h8m-6 1h8m7-3h8m-4 5h8m6 1h8m-4-3h8m-5-5h8m-7 8h8m-6-8h8m-7 0h8m-1-1h8m-7 2h8m-7 1h8m-5-1h8m-3 0h8m0 0h8m-8 7h8m3-1h8m-5-8h8m-6 9h8m-6-6h8m-8 6h8m-7-2h8m-5-2h8m-3-5h8m-3 0h8m-8 2h8m-7 1h8m0 6h8m-6-3h8m-8-6h8m-5 7h8m-6 0h8m-8-6h8m-2-1h8m-5 2h8m-7 7h8m-5-7h8m-4-2h8m-6 3h8m-7 5h8m-6-5h8m-1-3h8m-4 4h8m-6-3h8m-5-1h8m-7 7h8m-7 1h8m-6-7h8m-6 5h8m1-1h8m-7-2h8m-5 5h8m-5 1h8m-4 0h8m-8-7h8m-4 6h8m-5-8h8m2 8h8m-3-6h8m-4 2h8m-3 2h8m-3-3h8m-4 5h8m-4-6h8m-4 5h8m-4-3h8m0 3h8m-7-3h8m-1 4h8m-7-1h8m10-7h8m1 9h8m16-3h8m-6 0h8m9-3h8m22 2h8m22 0h8m21 4h8m-526 8h8m-2-3h8m17 2h8m6-4h8m4 6h8m-5 1h8m-7-2h8m-8-4h8m-5 4h8m-4-5h8m-7 7h8m-7-3h8m6-4h8m-7 3h8m-7-2h8m-8 5h8m-1 1h8m0-4h8m4-1h8m-8-2h8m-6 2h8m-6-1h8m3 2h8m-7 1h8m-8-5h8m-7 7h8m-6 0h8m-2-2h8m-8 3h8m-4-3h8m-5-5h8m-5 2h8m-6 1h8m-7-3h8m-1 8h8m-4-8h8m-4 0h8m-6 2h8m-6 6h8m-6-8h8m-5 8h8m-7-8h8m-8 5h8m-7 0h8m-5 3h8m-6-3h8m-8-1h8m-7 2h8m-5-2h8m-8 4h8m-6-5h8m-2 2h8m-5 3h8m-6-6h8m1 4h8m-6 0h8m-5 2h8m-8-7h8m-4 5h8m-5-5h8m-8 5h8m-7 1h8m-8-2h8m-7-2h8m-6 5h8m-1-6h8m-7-3h8m-5 6h8m-2-4h8m-8 3h8m-7-3h8m-4 7h8m-7-6h8m-5 1h8m-7-3h8m-8 8h8m-7-2h8m-6 1h8m-8-8h8m-7 7h8m-8-1h8m-7 0h8m-8 0h8m-8-6h8m-4 8h8m-4 0h8m-4 1h8m-2-6h8m-5 4h8m-3-6h8m-6 7h8m-7-3h8m-6 2h8m-5 1h8m0-1h8m-4-4h8m-6 3h8m-6 0h8m-3-6h8m-6 3h8m-5 2h8m-7-3h8m-6 0h8m-3 1h8m-8 0h8m-7 2h8m-5 3h8m-7-2h8m-5-4h8m-6 7h8m-5-3h8m-8-5h8m-6-1h8m2 2h8m2 2h8m-2 5h8m4-2h8m-5-4h8m-3 0h8m-1 5h8m-6-6h8m-6 1h8m-8 3h8m2-4h8m-5 5h8m-6 1h8m-2 0h8m-4-1h8m17 2h8m5-4h8m15-5h8m-492 14h8m10 2h8m-7-6h8m7 4h8m-5 5h8m-4-7h8m-3-2h8m-8 1h8m-1 0h8m-7 0h8m-2 4h8m-6-4h8m-2 1h8m-5 7h8m-5-5h8m-4 3h8m2 0h8m-7-2h8m-5-4h8m17 8h8m-8-3h8m3 0h8m-6-5h8m1 7h8m-8 0h8m5-4h8m-7-2h8m-7 6h8m-8-2h8m-7 2h8m-8-3h8m-5 1h8m-8-2h8m-5-3h8m0 4h8m-7 1h8m-5-6h8m-8 2h8m-4-1h8m-8 4h8m-7 2h8m-6-1h8m-2 0h8m-7-5h8m-7 2h8m-5 3h8m-5-2h8m-4 3h8m-8-5h8m-4-1h8m-7 2h8m-5 5h8m-7-7h8m-7 8h8m-8-8h8m-7 3h8m-7-1h8m-7 1h8m2-3h8m-7 5h8m-5-2h8m-7 3h8m-4-7h8m-4 6h8m-7-4h8m-7-2h8m-2 6h8m-5 3h8m-5-5h8m-3-3h8m-7 2h8m-6-3h8m-7 1h8m-7 2h8m-7 6h8m-8-4h8m-2-1h8m-8-3h8m-8 2h8m-4 6h8m-8-1h8m-2-5h8m-8 6h8m-8-2h8m-6-1h8m-6-4h8m-2 5h8m-2-2h8m-8-1h8m-7 2h8m-7-3h8m-3 5h8m-8 0h8m-8-1h8m-8-2h8m-4 1h8m-8 3h8m4-5h8m-7 4h8m-7-4h8m-5-3h8m-7 6h8m-7 0h8m-6-1h8m-8-1h8m0-1h8m-8-2h8m-7-2h8m-7 1h8m-7 2h8m-8 1h8m-7 4h8m-8-6h8m-7 4h8m0-4h8m-6 0h8m0 3h8m-8 3h8m-7-4h8m-6 3h8m-6-1h8m-8 1h8m-7-5h8m-8 0h8m-7 3h8m-2-4h8m-7 3h8m-6 4h8m-6 0h8m-7-5h8m-6-1h8m-2-2h8m10 0h8m-8 5h8m-5-5h8m-7 6h8m-3-3h8m-2 6h8m11 0h8m-4-9h8m-3 6h8m-2-4h8m2 3h8m-5-2h8m-3 5h8m-473 4h8m-4 2h8m-1-1h8m-8 1h8m1-2h8m-7 5h8m0-2h8m3 2h8m3-5h8m5 0h8m1 1h8m-2-1h8m-6 2h8m-7 5h8m-5-3h8m-5 2h8m-7 1h8m-5-2h8m-4-3h8m-3 5h8m1-5h8m-5-3h8m-6 4h8m-2 1h8m-5-1h8m-4 3h8m-6 0h8m-8-8h8m-7 2h8m-8 7h8m-7-3h8m-4-1h8m0-2h8m-8-2h8m-4 1h8m-7 1h8m-4 2h8m-8 3h8m-7-5h8m-5-3h8m-3 0h8m-4 1h8m3 8h8m-6-1h8m-8-2h8m-8 0h8m-7 3h8m-3-2h8m-4-3h8m-7-3h8m-8 2h8m-7-2h8m-7 5h8m-1 2h8m-6 0h8m-7-1h8m-4-1h8m-4-1h8m-6-3h8m-8 6h8m-5-5h8m-5 4h8m-7-7h8m-7 7h8m-7-7h8m-7 0h8m-7 1h8m-7 2h8m-6-3h8m-6 7h8m-8-1h8m-7 2h8m-7-6h8m-7 4h8m-6 3h8m-6-7h8m-7 1h8m-7 3h8m-5 3h8m-8-5h8m-6-1h8m-7-3h8m-8 9h8m-7 0h8m-5-9h8m-7 0h8m-4 2h8m-8 1h8m-1-1h8m-7 6h8m-4-1h8m-8-4h8m-8 4h8m-7-7h8m-7 1h8m-2 1h8m-7 7h8m-5 0h8m-8-1h8m-4-4h8m-7-2h8m-7 1h8m-8 3h8m-7 2h8m-4-7h8m-7 0h8m-7 6h8m-8 0h8m-8-4h8m-6 4h8m-3 0h8m-7 1h8m-8-6h8m-8-1h8m-7 5h8m-7-6h8m-6 1h8m-7 8h8m-5 0h8m-7-6h8m-6 0h8m-8 4h8m-8-2h8m-7-3h8m-4 7h8m-7-8h8m-7-1h8m-4 9h8m-8-9h8m-7 6h8m-7-6h8m-6 4h8m-5 0h8m-7 0h8m-7 4h8m-4-3h8m-7-1h8m-7-4h8m-6 4h8m-8 5h8m-6-1h8m-7-7h8m-7 5h8m-5 1h8m-7-1h8m-7-2h8m-7-3h8m-6 4h8m-6-2h8m-8 6h8m-6 0h8m-7-3h8m-2 0h8m-8 1h8m-6-4h8m-3-3h8m-5 0h8m-3 5h8m-3-3h8m0 3h8m-6-1h8m3 4h8m-3-4h8m-1 5h8m-6-9h8m-2 5h8m-8-4h8m-7 3h8m-5 4h8m-7-4h8m-6 0h8m-6-4h8m1 9h8m-4-5h8m-8-2h8m13 6h8m-4 1h8m7-6h8m-3 1h8m4 5h8m-2 0h8m-512 4h8m-8-3h8m11 2h8m-1 6h8m-2-3h8m-5 4h8m-3-2h8m-5-7h8m-4 6h8m-5 0h8m-5-4h8m19 4h8m-4-2h8m-7 1h8m-6 3h8m-4-5h8m-5 6h8m-2-1h8m-7-3h8m-5-3h8m-7 0h8m-6-2h8m-4 4h8m-5 1h8m-2-3h8m-8 2h8m-3 3h8m-1 2h8m-4-2h8m-6-7h8m-8 3h8m-4-1h8m-1-2h8m-4 5h8m-6 4h8m-7-6h8m-8 2h8m-7 2h8m-7-3h8m-7-2h8m-8 0h8m-2 0h8m-8 3h8m-1-1h8m-8 4h8m-6-5h8m-6 3h8m-6-3h8m-8 1h8m-4 0h8m-7 0h8m-5 2h8m-6-5h8m-7 8h8m-5-5h8m-5 0h8m-7 3h8m0 0h8m-7-6h8m-7 1h8m-8 4h8m-8-2h8m-3-4h8m-7 2h8m-4 1h8m-5 4h8m-7 2h8m-7-9h8m-6 0h8m-8 8h8m-8-1h8m-6-7h8m-7 8h8m-3-5h8m-6-2h8m-8 6h8m-4-2h8m-7-2h8m-7 6h8m-4-3h8m-7-2h8m-8 1h8m-7-1h8m-8 2h8m-7-5h8m-7 4h8m-6-1h8m-8-3h8m-6 2h8m-7 3h8m-7 0h8m-6-3h8m-7-3h8m-6 9h8m-8-6h8m-6 2h8m-7 3h8m-7-5h8m-7 4h8m-6-4h8m-7-3h8m-8 8h8m-6 1h8m-8-6h8m-7 5h8m-7-3h8m-5-2h8m-7-1h8m-7 1h8m-6-3h8m-4 9h8m-8 0h8m-7-9h8m-7 5h8m-8-4h8m-3 5h8m-7 2h8m-6-3h8m-4 1h8m-7-2h8m-8-1h8m-5 6h8m-6-6h8m-5 0h8m-6 2h8m-8-1h8m-6-3h8m-7 4h8m-7 1h8m-8 0h8m-8 2h8m-8 0h8m-5 0h8m-8-3h8m-7 2h8m-6-7h8m-8 9h8m-7-9h8m-8 6h8m-5-6h8m-6 0h8m-7 8h8m-7 1h8m-3-8h8m-8 3h8m-6-2h8m0 4h8m-8-1h8m-8 1h8m-8-1h8m-2-1h8m-3 1h8m-6 0h8m-7-5h8m-7 7h8m-8 0h8m-7-4h8m-6-3h8m-6 6h8m-5-6h8m-8 9h8m-6-3h8m-7 2h8m-7-6h8m-6-2h8m-8 4h8m-7-1h8m-6 0h8m-1 3h8m-8 1h8m0-6h8m-7 8h8m-5-7h8m-2 0h8m-7 4h8m-1-3h8m-4 1h8m-6 1h8m-6-1h8m1 3h8m8-7h8m-7 9h8m-6-6h8m3 0h8m0 3h8m-3-3h8m-3-2h8m10 1h8m-5 5h8m4-2h8m11 2h8m-8-7h8m-519 11h8m26 7h8m0-4h8m39 1h8m-3-4h8m-6 5h8m-7-2h8m-8 0h8m-1 4h8m-7-7h8m-7 1h8m-7 2h8m-1 4h8m-7 1h8m-7-1h8m-3-4h8m-7-1h8m-6 4h8m-6-6h8m-6-1h8m-6 6h8m-4-6h8m-7 0h8m-5 9h8m1-7h8m-2 5h8m-7-4h8m-4-1h8m-5 7h8m-7-7h8m-8 3h8m-7-2h8m-4 4h8m-6 2h8m-8-3h8m-7 2h8m-5-7h8m-7 5h8m-2-1h8m-7 4h8m-6-2h8m-5 0h8m-7-5h8m-5 7h8m-6-5h8m-4-4h8m-6 0h8m-8 7h8m-5-6h8m-4 6h8m-8-2h8m-7 2h8m-6-5h8m-6 2h8m-4 4h8m-4 0h8m-6 1h8m-6-7h8m-6 0h8m-8 4h8m-7-6h8m-8 5h8m-7-4h8m-4 4h8m-8-1h8m-3 1h8m-7-3h8m-6 0h8m-8 7h8m-7-8h8m-7 2h8m-7 5h8m-7-8h8m-6 2h8m-7 3h8m-4 3h8m-2-8h8m-7 2h8m-8 2h8m-7-4h8m-7 3h8m-8-2h8m-7 2h8m-7 5h8m-7 1h8m-8-2h8m-6-3h8m-6-4h8m-6 7h8m-7-1h8m-7-2h8m-4 1h8m-8 4h8m-7-3h8m-7-6h8m-8 2h8m-6 3h8m-6 1h8m-8 2h8m-7-5h8m-5 2h8m-8-4h8m-8 8h8m0-5h8m-6-2h8m-8 2h8m-3 3h8m-7-1h8m-8 2h8m-7-6h8m-7-2h8m-7 6h8m-7-1h8m-6 3h8m-8-7h8m-6 6h8m-6-6h8m-5 3h8m-8 2h8m-7-5h8m-8-1h8m-7 1h8m-6 6h8m-7-5h8m-7 0h8m-8-2h8m-6 6h8m-8-5h8m-6 3h8m-5 4h8m-7-3h8m-5 4h8m-7 0h8m-8-8h8m-8 8h8m-7-9h8m-8 6h8m-6-3h8m-7 5h8m-6-8h8m-5 4h8m-7 0h8m-8 2h8m-8-5h8m-6 5h8m-7 2h8m-6-4h8m-7 3h8m-6-2h8m-3 4h8m-2 0h8m-6-7h8m-4 2h8m-7-3h8m-7 7h8m-8-2h8m-7 0h8m-3-6h8m-8 5h8m-3 2h8m-5-2h8m-6 0h8m-7 0h8m-1-4h8m-7-1h8m-8 0h8m-4 3h8m-4 3h8m-7-6h8m-3 5h8m-3-2h8m-6-1h8m-8 2h8m-4-3h8m-4 6h8m-4-3h8m-6 2h8m-6-6h8m-2 9h8m-8-4h8m-5 3h8m-2-8h8m-7 2h8m-6 6h8m0 1h8m0-2h8m-7-6h8m11 5h8m-2 3h8m-6-5h8m-1 3h8m3 1h8m-518 3h8m2 3h8m-1-3h8m11 5h8m-7-4h8m1-1h8m-7 1h8m-4 7h8m-7-6h8m-5 3h8m-7-1h8m-6-1h8m-8-1h8m-5-3h8m9 0h8m-4 7h8m-1-5h8m0 1h8m-3-1h8m-7 2h8m-7-3h8m-7 3h8m-3-1h8m-4 4h8m1 0h8m-7 2h8m-5-9h8m-6 1h8m-8 0h8m-7 5h8m-7-5h8m-6-1h8m-8 2h8m-4 2h8m-6 4h8m-4-5h8m-8 3h8m1-5h8m-2 5h8m-4 1h8m-7 2h8m-8-4h8m-6-2h8m-5 6h8m-7 0h8m-8-8h8m-5 4h8m-7 0h8m-4-1h8m-8 5h8m-6-1h8m-6 1h8m2-5h8m-3 3h8m-7-2h8m-6-1h8m-7 5h8m-7-9h8m-4 3h8m-8-1h8m-2 0h8m-8-2h8m-7 5h8m-6 0h8m-2-4h8m-7 0h8m-6 2h8m-7 4h8m-8-3h8m-7 1h8m-8-4h8m-7-1h8m-6 6h8m-8-4h8m-8 3h8m-7 3h8m-8-3h8m-7-1h8m-3 2h8m-8 1h8m-8-7h8m-3 7h8m-7 1h8m-8-2h8m-7-4h8m-8-2h8m-5 3h8m-4-2h8m-7 4h8m-3-4h8m-1 5h8m-6 3h8m-8-1h8m-8-5h8m-7 6h8m-8 0h8m-5-1h8m-8 0h8m-7-5h8m-7 1h8m-6 2h8m-7 1h8m-8-2h8m-7-3h8m-7 5h8m-7-7h8m-6 4h8m-7-4h8m-8 9h8m0-6h8m-4 2h8m-7-5h8m-7 7h8m-7-2h8m-7-2h8m-7 1h8m-8 3h8m-7-2h8m-7 3h8m-7-4h8m-7 1h8m-7-5h8m-8 5h8m-7-1h8m-5-3h8m-8 3h8m-7-2h8m-8 5h8m-3 1h8m-6-5h8m-8 6h8m-5-9h8m-7 0h8m-7 9h8m-6-7h8m-8 4h8m-7 1h8m-8-5h8m-8-1h8m-7 2h8m0 6h8m-7-5h8m-7-3h8m-6 0h8m-7-1h8m-8 7h8m-7 0h8m-2 1h8m-8-8h8m-4 4h8m-8-1h8m-7 4h8m-4-4h8m-5 6h8m-6-8h8m0 2h8m-7 2h8m-8-2h8m-7 0h8m-8 3h8m-6-3h8m-6 6h8m-6-7h8m-5 1h8m-4 0h8m-6 0h8m-5 6h8m-7-8h8m-8 0h8m-7 6h8m-6 0h8m-3-7h8m-7 0h8m-8 0h8m-7 3h8m-7-2h8m-8 6h8m-7-2h8m-6 1h8m3-1h8m-6-3h8m-5 1h8m-5-3h8m-1 9h8m-6-1h8m-5-7h8m-2 4h8m-1 0h8m-6 2h8m-2-2h8m1 2h8m-5 0h8m20-5h8m4 5h8m2-1h8m34 2h8m-567 8h8m41-1h8m5-3h8m13 6h8m4-7h8m-6 2h8m-8 0h8m-3-2h8m0 0h8m-3 8h8m-7 0h8m-4-7h8m-4 2h8m-6-2h8m-5-1h8m-7 6h8m-1-2h8m-6-1h8m-7-1h8m-7 2h8m-6 3h8m-6 1h8m-6-4h8m-6-5h8m-6 3h8m-3 1h8m0 5h8m-4-3h8m-4-2h8m-8 0h8m-8 5h8m-3-5h8m-3-2h8m-2 2h8m-1 0h8m-5-2h8m-5 5h8m-7-1h8m-8-3h8m-7-1h8m-7 4h8m-5 2h8m-4 1h8m-3-6h8m-8-1h8m-3-2h8m-7 5h8m-6 0h8m-7-2h8m-6 0h8m-6 6h8m-7-2h8m-8-5h8m-8-2h8m-5 3h8m-7 0h8m-5-1h8m-8 0h8m-7 4h8m-6-4h8m-8 3h8m-6 2h8m-7 1h8m-7-2h8m-7-2h8m-8 3h8m-7-3h8m-4-2h8m-4 5h8m-8-4h8m-8-1h8m-7-2h8m-8 2h8m-5 7h8m-8-3h8m-6 3h8m-8 0h8m-8-8h8m-7 7h8m-7 0h8m-7 0h8m-7-4h8m-8 2h8m-8 0h8m-6-6h8m-6 5h8m-4-3h8m-6 3h8m-3-5h8m-4 6h8m-7 0h8m-7-4h8m-7 0h8m-8 3h8m-6-4h8m-8 2h8m-8 2h8m-7 1h8m-7 2h8m-8 0h8m-7 1h8m-8-2h8m-7 2h8m-8 0h8m-6-7h8m-8 6h8m-8-2h8m-7-6h8m-4 4h8m-6-1h8m-6-2h8m-6 6h8m-8-3h8m-8-3h8m-7 7h8m-6-2h8m-8 0h8m-4-6h8m-7 2h8m-8 0h8m-7 6h8m-6-1h8m-5-7h8m-7 2h8m-7-2h8m-6 8h8m-5-7h8m-7 1h8m-7 2h8m-8 3h8m-8 2h8m-4-4h8m-8 4h8m-8-7h8m-7 4h8m-4 1h8m-7 0h8m-8 1h8m-7-1h8m-7 2h8m-2-4h8m-7 2h8m-8-7h8m-8 9h8m-7-1h8m4-3h8m-5-2h8m-5-2h8m-8 7h8m-7-7h8m-7 7h8m-6 1h8m-6-7h8m-5 5h8m-6-6h8m-7 5h8m-7-2h8m2-3h8m-6 0h8m-8 4h8m4 0h8m-8 0h8m-6 3h8m-8-4h8m-2 3h8m-6 0h8m-7-5h8m-8 6h8m-6-1h8m-7-5h8m-4 4h8m-3 2h8m-4-7h8m-6 8h8m-6-5h8m-7-2h8m-2-2h8m-6 4h8m-7-1h8m3-2h8m-3 3h8m1 2h8m-6-2h8m12 5h8m2-7h8m-6 1h8m-5 4h8m-1 2h8m38-6h8m15 5h8m10 0h8m-604 6h8m-4-3h8m-7 1h8m-6 2h8m-5-2h8m-3 7h8m-1-6h8m-6 3h8m-7 0h8m-7-5h8m-5-1h8m-5 5h8m-3 2h8m-4-2h8m3-5h8m-3 7h8m-2 0h8m-6-1h8m-3-3h8m1 1h8m-4 1h8m-3 1h8m-5-2h8m-7 5h8m-8-9h8m-7 6h8m-4 2h8m-8-3h8m-2-5h8m-5 2h8m-6 1h8m-7 0h8m-7 6h8m-4-4h8m-5 4h8m-8-1h8m-6-7h8m0-1h8m-4 6h8m-7-1h8m-6-4h8m-5 5h8m-2 3h8m-8-6h8m-5 1h8m-4-4h8m2 4h8m-1-4h8m-8 2h8m1 6h8m-6-5h8m-5-2h8m-6 1h8m-3 5h8m-3-5h8m-5-1h8m-4 0h8m-8 8h8m-7-4h8m-6-5h8m-8 9h8m-8-1h8m-7-7h8m-7 2h8m-6 1h8m-7 3h8m-8-3h8m-8-3h8m-6 1h8m-2 0h8m-6 6h8m-7-1h8m-7-4h8m-6 4h8m-7-1h8m-7 2h8m-8-6h8m-7 6h8m-8-3h8m-3 4h8m-7-7h8m-8-1h8m-7 6h8m-7 2h8m-7-2h8m-7 0h8m-5-1h8m-7-3h8m-5 3h8m-5-1h8m-7 3h8m-6-2h8m-4 3h8m-8-9h8m-8 5h8m-7 0h8m-8 4h8m-8-9h8m-7 2h8m-8 1h8m-4 3h8m-8 1h8m-7-2h8m-6 0h8m-7-5h8m-7 7h8m-7-7h8m-8 0h8m-7 8h8m-8-5h8m-8 5h8m-1-5h8m-4 1h8m-8 4h8m-7 1h8m-7-9h8m-6 9h8m-5 0h8m-6-4h8m-7 2h8m-7-1h8m-6 1h8m-7-7h8m-7 2h8m-7 1h8m-7 2h8m-7 4h8m-7-1h8m-7-8h8m-7 8h8m-5-2h8m-6 0h8m-6-1h8m-7-4h8m-6 8h8m-7-9h8m-7 9h8m-7 0h8m-7-7h8m-8-2h8m-8 0h8m-8 6h8m-7 2h8m-8-5h8m-7 2h8m-8-4h8m-7 7h8m-7-1h8m-7-1h8m-6-3h8m-6 3h8m-3-4h8m-8-1h8m-7 2h8m-7 4h8m-8-7h8m-8 1h8m-5-1h8m-7 3h8m-8 1h8m-6-4h8m-5 0h8m-7 5h8m-8 4h8m-8-4h8m-7 3h8m-8-2h8m-5-5h8m-6 6h8m-6-3h8m-8-3h8m-6 0h8m-8 7h8m-5-8h8m-5 2h8m-7 6h8m-7-4h8m-6 1h8m-5-5h8m-8 3h8m-6-1h8m-5-1h8m-6 0h8m-5 5h8m-5 1h8m-7-3h8m-6 1h8m-5 2h8m-6-3h8m-5 1h8m-8 0h8m-7-3h8m-6-1h8m-7 2h8m-8 6h8m-6-1h8m-5-5h8m-6 6h8m-7-7h8m-5-1h8m-1 4h8m-8-5h8m-5 3h8m-7 6h8m-7-6h8m-7 6h8m-8-7h8m-7 6h8m-7-8h8m-6 5h8m-5-2h8m-5-1h8m-7-1h8m-7 3h8m-7-2h8m-5-1h8m9 4h8m-7 3h8m-7-1h8m-4 2h8m-4 0h8m0 0h8m3-8h8m7 8h8m-6-3h8m3-6h8m-6 8h8m-6-2h8m-4 1h8m1 0h8m-6-6h8m-3 0h8m5 5h8m-6 1h8m-7-5h8m27 6h8m54-5h8m-654 9h8m-4 1h8m-4 5h8m-8-5h8m-2 4h8m23-6h8m2 4h8m-7 2h8m-6-5h8m0 0h8m-7 3h8m-7 4h8m-7-7h8m-7 2h8m8-4h8m3 8h8m0 1h8m-3-2h8m-5-4h8m-6 4h8m-1 2h8m-3-3h8m-4-1h8m-6 4h8m-6-1h8m-4-4h8m-6 4h8m-8-7h8m-7 1h8m-6 2h8m-5 3h8m-7-4h8m-3 3h8m-4-1h8m-6-5h8m0 4h8m-5 5h8m3-9h8m-7 5h8m-3-4h8m-2 5h8m-6-5h8m-6 6h8m-8-3h8m-7-1h8m-4 1h8m-8 3h8m-6 2h8m-7 0h8m-7-4h8m-5-3h8m-5 4h8m-6-5h8m-6 5h8m-7 2h8m-7-2h8m-5-2h8m-7-4h8m-8 7h8m-7-1h8m-8-5h8m-7-1h8m-5 7h8m-7-6h8m-6 8h8m-7-9h8m-7 8h8m-8-7h8m-6 7h8m-7 0h8m-8-4h8m-6 1h8m-2-5h8m-7 0h8m-7 3h8m-7 4h8m-7-2h8m-7-3h8m-8 7h8m-6-9h8m-5 3h8m-8 1h8m-8-3h8m-7 0h8m-8 6h8m-8-4h8m-6 4h8m-8-1h8m-6-5h8m-7-1h8m-7 6h8m-5-4h8m-8 1h8m-8-2h8m-8 0h8m-7 5h8m-6-5h8m-7 6h8m-8 0h8m-8-4h8m-7 1h8m-6-2h8m-8 1h8m-7 0h8m-6-2h8m-7-1h8m-6 0h8m-7 5h8m-3-1h8m-7 3h8m-6 1h8m-8-4h8m-7 4h8m-8-6h8m-7 7h8m-7 0h8m-6 0h8m-4-3h8m-5 2h8m-8 0h8m-7 1h8m-5-2h8m-6 2h8m-8-9h8m-8 6h8m-7 3h8m-6-1h8m-8-7h8m-8-1h8m-7 7h8m-7-7h8m-8 2h8m-6 4h8m-6-5h8m-7 0h8m-6 8h8m-4-7h8m-8 3h8m-8 4h8m-7-8h8m-6 2h8m-8 1h8m-6 0h8m-6-2h8m-2 1h8m-8-3h8m-7 8h8m-7-4h8m-7-2h8m-8 1h8m-7 0h8m-5-2h8m-6 0h8m-7 1h8m-8 6h8m-7-8h8m-5 5h8m-7 0h8m-8-1h8m-7 1h8m-7-2h8m-6 2h8m-8 1h8m-7-1h8m-7 2h8m-7-6h8m-7 4h8m-8 3h8m-8 1h8m-8-8h8m-6 4h8m-6-4h8m-7 1h8m-6 1h8m-5-3h8m-6 1h8m-5 2h8m-5-2h8m-7-1h8m-8 0h8m-8 4h8m-7 4h8m-6-1h8m-8-3h8m-8 3h8m-8 0h8m-8-6h8m-7-1h8m-6 5h8m-7 1h8m-8 1h8m-8 2h8m-6-9h8m-3 9h8m-7-4h8m-6-4h8m-7 1h8m-7-1h8m-3 7h8m-6-1h8m-6-6h8m-7 1h8m-8-2h8m-7 8h8m-7-3h8m-7 0h8m-6-4h8m-7 4h8m-8-3h8m-6 5h8m-6-4h8m-8 3h8m-8-1h8m-5 3h8m-7-3h8m-6 2h8m-8-2h8m-6 4h8m-6-8h8m-7 6h8m-7-1h8m-2 1h8m-4-2h8m-5 3h8m-6-6h8m-5 6h8m-6-7h8m-8 8h8m-6-1h8m-7-4h8m-4 3h8m0-1h8m-7 2h8m-2 0h8m-5-3h8m-6-1h8m8 5h8m-2-9h8m-3 6h8m-4 0h8m-2 3h8m-5 0h8m-3-4h8m-6 3h8m2-3h8m58 4h8m14-1h8m-617 6h8m-6-2h8m24 2h8m1 2h8m-6-4h8m-4-1h8m-1 4h8m-3-2h8m-3-1h8m-6 4h8m-1-6h8m-2 7h8m0-1h8m9-6h8m-6 8h8m-2-4h8m-7-3h8m-6 7h8m-6-2h8m-7-6h8m-1 4h8m-7 0h8m-8 5h8m-6-9h8m-7 3h8m-8-3h8m-1 4h8m-5 5h8m0 0h8m-6-6h8m-8-3h8m-1 4h8m-7 1h8m-5 3h8m-8-8h8m-8 6h8m-8-6h8m-6 6h8m2 1h8m-5-2h8m0-5h8m-7 7h8m-6-4h8m-7-2h8m-6 4h8m-3-3h8m-6 3h8m-6-5h8m-3 9h8m-8-9h8m-7 9h8m-2-2h8m-8-4h8m-8 0h8m-6 2h8m-7 2h8m-8-5h8m-8 0h8m-3 0h8m-5 7h8m-7-8h8m-4 3h8m-3-2h8m-8 5h8m-8 0h8m-6-7h8m-7 9h8m-8-7h8m-8-1h8m-7 7h8m-7 0h8m-8-7h8m-6 4h8m-5 2h8m-7-2h8m-5 2h8m-8-3h8m-7 0h8m-8 3h8m-7-1h8m-7 3h8m-8-8h8m-6-1h8m-8 3h8m-6-2h8m-5 4h8m-8-1h8m2 0h8m-8 4h8m-6-2h8m-7 0h8m-7 2h8m-7-4h8m-5-1h8m-6 4h8m-7 0h8m-7 0h8m-8 0h8m-6-4h8m-3-3h8m-6 8h8m-8 1h8m-5-7h8m-8 6h8m-6-5h8m-8 3h8m-5-6h8m-6 0h8m-7 1h8m-6 6h8m-8-5h8m-8 3h8m-8 3h8m-6 0h8m-7 1h8m-6-6h8m-8-2h8m-7 8h8m-8-8h8m-6 5h8m-7 3h8m-8-6h8m-8 4h8m-7-3h8m-8 0h8m-7 4h8m-8-4h8m-7-4h8m-8 8h8m-7-8h8m-8 6h8m-7-5h8m-7 6h8m-7-7h8m-8 8h8m-8 0h8m-7-8h8m-7 9h8m-6-7h8m-5 4h8m-6-2h8m-7 5h8m-8-8h8m-7 6h8m-8 2h8m-5-9h8m-5 4h8m-6-2h8m-7 0h8m-4 3h8m-7 2h8m-6-1h8m-6-6h8m-7 9h8m-6-2h8m-8-1h8m-7-6h8m-7 2h8m-6 6h8m-3-1h8m-6-2h8m-7-2h8m-7-1h8m-7-1h8m-8 3h8m-8-4h8m-7 3h8m-8 4h8m-8-6h8m-7 2h8m-8-1h8m-7 3h8m-8 0h8m-7 1h8m-6 2h8m-7-5h8m-8-2h8m-7 7h8m-8-8h8m-5 3h8m-6 3h8m-7 3h8m-8-4h8m-7 2h8m-8-3h8m-8 4h8m-7-7h8m-8 2h8m-6-1h8m-8 5h8m-8 2h8m-7-1h8m-7 0h8m-7-4h8m-4-1h8m-7 1h8m-8 1h8m-7-3h8m-6 7h8m-5-7h8m-7 4h8m-8-2h8m-5-2h8m-8 2h8m-7-2h8m-8 4h8m-2-4h8m-6 6h8m-7-2h8m-8-1h8m-7 4h8m-7-8h8m-5 5h8m-7-4h8m-6 6h8m-4-2h8m-8-1h8m-8 2h8m-7-7h8m-1 4h8m-4-2h8m-7 1h8m-6 1h8m-7 3h8m-7-3h8m-2 3h8m3-1h8m-7 0h8m-6-5h8m-7 3h8m-1 4h8m-7-5h8m-3-1h8m-7-1h8m-5 8h8m-6-5h8m9 4h8m23-6h8m-5 7h8m-5-4h8m29-5h8m14 9h8m9-4h8m-618 13h8m-7-8h8m-7 5h8m9 0h8m-4 0h8m-8 3h8m-4-4h8m-5-3h8m-5 6h8m-5 2h8m-2-9h8m-4 1h8m-6 6h8m-2-2h8m-6 0h8m2 3h8m-1-1h8m-6 2h8m-7-5h8m-2 3h8m13-4h8m-1 5h8m-5-4h8m-4 3h8m-7-3h8m-3-4h8m-5 7h8m-4-1h8m7 2h8m-6 1h8m-8-1h8m-1 1h8m0-6h8m-7-1h8m-8 2h8m-6-4h8m-5 7h8m-2 1h8m-7-7h8m-7 3h8m-6 4h8m-3-7h8m-5 0h8m-2 6h8m-1-3h8m-7-1h8m-3 0h8m-7 4h8m-6-1h8m-7 1h8m-6-5h8m-7 3h8m-7-4h8m-5 1h8m-7-2h8m-8 9h8m-7-6h8m-1 1h8m-6-2h8m-5 6h8m-8 1h8m-4-9h8m-6 5h8m-8-1h8m-7 1h8m-5 3h8m-8-1h8m-8-5h8m-7-1h8m-7 3h8m-7 0h8m-7 3h8m-6 1h8m-4-6h8m-8 4h8m-7-4h8m-6-2h8m-7 2h8m-8 6h8m-6-4h8m-6 0h8m-5-2h8m-7 3h8m-7 3h8m-3-6h8m-6 2h8m-8 1h8m-7-5h8m-3 1h8m-7-1h8m-8 0h8m-8 3h8m-7 0h8m-7 3h8m-8-6h8m-6 0h8m-7 6h8m-8-5h8m-8 3h8m-7-2h8m-7-1h8m-8 8h8m-8-3h8m-7 2h8m-8-6h8m-8 4h8m-8-3h8m-5 6h8m-8-2h8m-5-5h8m-7 5h8m-8-6h8m-7 6h8m-8-4h8m-6 0h8m-7 1h8m-8 4h8m-7 0h8m-5-3h8m-8-2h8m-4-3h8m-7 0h8m-6 9h8m-7 0h8m-6-1h8m-8 1h8m-6-1h8m-7-4h8m-7 4h8m-6-8h8m-8 0h8m-6 0h8m-7 9h8m-7-2h8m-5-5h8m-6 6h8m-6 1h8m-8-6h8m-5 4h8m-8-5h8m-3 6h8m-6-5h8m-7 6h8m-6-3h8m-8-5h8m-7 2h8m-8-3h8m-8 7h8m-7-7h8m-5 5h8m-6-1h8m-7 4h8m-8-5h8m-6 0h8m-8 3h8m-5 0h8m-5-5h8m-7 5h8m-4 0h8m-7-6h8m-7 3h8m-3 6h8m-8-8h8m-3 8h8m-7-5h8m-4-1h8m-8 1h8m-8 1h8m-6 1h8m-7-1h8m-4 3h8m-8-8h8m-7 6h8m-8 2h8m-5 0h8m-8-2h8m-4-1h8m-7-2h8m-7 4h8m-8-7h8m-8 9h8m-8-7h8m-5 6h8m-4 0h8m-7-3h8m-8 2h8m-4-5h8m-8-2h8m-7 7h8m-7 0h8m-6-1h8m-6 3h8m7-9h8m-5 7h8m-4 1h8m-6-2h8m-7-5h8m-6 8h8m-8-1h8m-1-7h8m-5 5h8m-6-5h8m-4 1h8m-8 1h8m-7 5h8m-2-6h8m-1-2h8m-5 9h8m-2-7h8m0 7h8m-7-1h8m-5-5h8m1 2h8m-7-1h8m-1 1h8m10 4h8m11-5h8m19-3h8m100 6h8m-695 10h8m-7 1h8m-3-7h8m-2 2h8m12 5h8m-6 1h8m5-4h8m-4-2h8m-3-1h8m-4 2h8m-1-2h8m-8 4h8m8 3h8m-1-4h8m-2 4h8m-5-7h8m-8 3h8m4 4h8m-5-9h8m-2 2h8m-4 0h8m-6 1h8m0 0h8m-2 1h8m-7 5h8m-8-3h8m-6-1h8m-2-4h8m-7 6h8m-6-4h8m-6 0h8m-5 0h8m-5-1h8m-5-2h8m-6 5h8m0-1h8m-6 1h8m-6 2h8m-8 0h8m-7 1h8m-5-6h8m-6 5h8m-7-4h8m-7 2h8m-5 0h8m-8 1h8m-4-2h8m-8-2h8m0 3h8m-7 0h8m-1 4h8m-6-5h8m-8-1h8m1 4h8m-6-1h8m-5-6h8m-4 9h8m-8-6h8m-6 3h8m0-1h8m-8-4h8m2 6h8m-7-6h8m-7-1h8m-8 2h8m-7 4h8m-6 0h8m-7-1h8m-6-5h8m-6 4h8m-7 4h8m-8 1h8m-8-3h8m-5-1h8m-8 0h8m-7-3h8m0-2h8m-8 4h8m-7-1h8m-7 1h8m-7-1h8m-4-2h8m-3 6h8m-4 1h8m-4 0h8m-6-6h8m-7-1h8m-7 2h8m-7 3h8m-5-2h8m-8-1h8m-7 1h8m-7-4h8m-6 3h8m-6 4h8m-8-2h8m-7 0h8m-7 1h8m-6-5h8m-7-1h8m-8 7h8m-7-2h8m-7-3h8m-8 6h8m-8-4h8m-7 0h8m-7 0h8m-4 0h8m-3-1h8m-6 2h8m-6 0h8m-8 1h8m-6-6h8m-6 9h8m-7 0h8m0-4h8m-8-4h8m-7 4h8m-5-4h8m-8 4h8m-7 4h8m-7-1h8m-7-2h8m-4-2h8m-6-3h8m-3 4h8m-6-1h8m-5-2h8m-7 1h8m-7-2h8m-8 3h8m-5 3h8m-8-3h8m-7 0h8m-7-3h8m-7 2h8m-7 1h8m-8-4h8m-4 5h8m-8-5h8m0 4h8m-8 4h8m-8-3h8m-7-5h8m-7 2h8m-8 3h8m-8 0h8m-1-2h8m-5 1h8m-8 0h8m-7 0h8m-4 0h8m-8 2h8m-5 3h8m-8-4h8m-2 4h8m-6-8h8m-7 8h8m-8-5h8m-6 3h8m-6-6h8m-7 2h8m-5 5h8m-7-1h8m-6-2h8m-6 2h8m-7 1h8m-6-8h8m-7 7h8m-6 1h8m-6 1h8m-6-3h8m-6-2h8m-2 4h8m-7-1h8m-3-2h8m-6-4h8m-7 6h8m-6-6h8m-5 2h8m-7 2h8m-2-1h8m-2 5h8m-7-5h8m0 1h8m6-5h8m-7 4h8m-2 1h8m-7 3h8m-7-1h8m-7 1h8m7-2h8m-6-2h8m1 2h8m1 3h8m35-7h8m50 0h8m-646 13h8m12 4h8m2-6h8m9-3h8m-1 2h8m13 0h8m-5 7h8m6-2h8m-7 1h8m2-2h8m-8-2h8m-4 5h8m-1 0h8m6-5h8m-1 5h8m-3-2h8m-7 1h8m-3-3h8m-6-3h8m-7 3h8m-4-2h8m0 3h8m14 1h8m-5 1h8m-5-8h8m-3 0h8m2 2h8m-8 4h8m-6-5h8m-5 8h8m-7-9h8m-6 0h8m-2 1h8m-7 8h8m-3-7h8m-5 4h8m-8-1h8m-7 2h8m-8 1h8m-5-3h8m-8-3h8m-4 1h8m-7-3h8m-4 6h8m-7-2h8m-6 4h8m-7-4h8m-7 0h8m-6-1h8m-6 5h8m-6-1h8m-5-2h8m-8 1h8m-6 3h8m-8-1h8m-6 0h8m-7 0h8m-7-7h8m-8 0h8m-7 4h8m-6 1h8m-6-4h8m0 0h8m-7 0h8m-6 2h8m-5 3h8m-7 0h8m-7-2h8m-4 4h8m-8-1h8m-8-6h8m-7 1h8m-8 3h8m-7 3h8m-7-2h8m-8-7h8m-8 3h8m-8 4h8m-5-2h8m-7 2h8m-7-1h8m-8-3h8m-7 3h8m-7-2h8m-7 1h8m-8 0h8m-6-1h8m-6-3h8m-8-1h8m-8 4h8m-6 2h8m-7-3h8m-6-2h8m-5 2h8m-7-3h8m-3 6h8m-6 2h8m-6-8h8m-4 2h8m-5 0h8m-8 5h8m-8 0h8m-7 1h8m-6-5h8m-5 1h8m-7 1h8m-7 0h8m-8-2h8m-8-3h8m-7 1h8m-4 6h8m-8-2h8m-6 3h8m-6-7h8m-8 4h8m-7-4h8m-8 0h8m-8 6h8m-5-5h8m-3-2h8m-8 2h8m-7 3h8m-7 2h8m-8 0h8m-6 0h8m-7 0h8m-7-5h8m-8-1h8m-7 8h8m-7-8h8m-7 1h8m-7 4h8m-6 1h8m-8-7h8m-8 7h8m-7-1h8m-8 3h8m-8-7h8m-7-1h8m-8-1h8m-5 0h8m-8 0h8m-7 9h8m-1-5h8m-7 1h8m-6-4h8m-6 4h8m-8-2h8m-4 2h8m-6-2h8m-7-1h8m-8 1h8m-7 6h8m-3 0h8m-6-8h8m-2 2h8m-5-3h8m-8 0h8m-4 0h8m-8 4h8m-7 4h8m-5-6h8m-8 2h8m2-4h8m-7 3h8m-8 6h8m-5-6h8m-8-1h8m-8 3h8m-7-4h8m-7 0h8m-8 3h8m-7-2h8m-4 3h8m-5-4h8m-5-1h8m-4 3h8m-6 6h8m-8-8h8m-6 7h8m-3-3h8m-1-1h8m-5 0h8m-4 4h8m5-3h8m-7 1h8m3-6h8m-3 0h8m-6 4h8m-8 1h8m-5 4h8m-4-7h8m-7 1h8m10 3h8m-2-6h8m12 1h8m14-1h8m-3 2h8m24 2h8m8-4h8m-642 13h8m-5 2h8m-3 4h8m1-7h8m-5 3h8m40-4h8m12 1h8m3 6h8m-6 0h8m0-6h8m5 7h8m-5 0h8m3-7h8m-6 2h8m-5 0h8m-2-2h8m-5 3h8m-8 0h8m3-2h8m-8 6h8m-6-5h8m-7 0h8m-3 0h8m-2 0h8m-5 0h8m4-4h8m7 4h8m-8-3h8m-7 5h8m-7 1h8m-6-7h8m-3 2h8m-7-1h8m-7 3h8m-7 4h8m0-7h8m1 1h8m-6 3h8m-8-5h8m-5 8h8m-7-3h8m-8-5h8m-1 4h8m-2-1h8m-2 1h8m-6-1h8m-7-2h8m-7 5h8m-8-4h8m-5 7h8m9-6h8m-7-2h8m-6 7h8m-3 0h8m-7-8h8m-8 4h8m-8-4h8m2 1h8m-7-1h8m-8 5h8m-6-1h8m-5 3h8m-8-7h8m-5 7h8m-7-3h8m-4-2h8m-7 7h8m-7-9h8m-7 8h8m-6-5h8m-1 3h8m-6 3h8m-7-5h8m-6-1h8m-6 2h8m-4-5h8m-8 9h8m-6-8h8m-7-1h8m-6 5h8m-6 0h8m-4 4h8m-8-8h8m-7 3h8m-4-2h8m-3-2h8m-8 5h8m-8-1h8m-6-3h8m-8 5h8m-3-5h8m-8 4h8m-7 2h8m-7 2h8m-6-1h8m-6-4h8m-7 2h8m-6 3h8m-6-7h8m-7 3h8m-6-4h8m-7 2h8m-7 3h8m-7 3h8m-7-5h8m-8 5h8m-8-9h8m-5 1h8m-8 7h8m-5 1h8m-8-2h8m-6-2h8m-3-5h8m-6 5h8m-4 2h8m-8-5h8m-7 4h8m-5-5h8m-7 6h8m-8-7h8m-7 0h8m-7 3h8m-4 3h8m-6 1h8m-8-3h8m-5 2h8m-8 3h8m-4-8h8m-7 8h8m-6-3h8m-5-3h8m-7-3h8m-8 9h8m-5-5h8m-6-4h8m-8 1h8m-7 7h8m-2-8h8m-7 0h8m-2 4h8m-5 5h8m-7-6h8m-8-2h8m1 7h8m-7-7h8m-7 7h8m-6-8h8m-3 0h8m-5 2h8m-6-2h8m-6 5h8m-4-1h8m-7 3h8m-1-4h8m-2 6h8m4-6h8m0 6h8m2 0h8m-4-2h8m1-6h8m-7 6h8m1-5h8m-5-1h8m1 1h8m20 3h8m-594 10h8m0-5h8m-5 9h8m4-8h8m19-1h8m1 6h8m-7-5h8m-3 6h8m1-4h8m-7 3h8m-2-2h8m-5-1h8m-7 1h8m-8-1h8m6 1h8m-8-3h8m4 5h8m4-6h8m-8 1h8m-5 8h8m-7-4h8m0-2h8m-5-1h8m-8 1h8m-6 4h8m-2-2h8m-5-4h8m-5 0h8m-7 1h8m-4 5h8m-8 1h8m-6 1h8m-5-8h8m6 4h8m-7 3h8m-7-2h8m-1-2h8m-6 2h8m6-2h8m-8-4h8m-7 9h8m-5-4h8m-3 4h8m1-9h8m1 0h8m-6 4h8m-5 1h8m-1-1h8m-6 3h8m-7-2h8m-5 3h8m-8-5h8m5 0h8m-6 2h8m-5 1h8m-5 1h8m-6-3h8m-3-4h8m-8 4h8m0 0h8m-6-4h8m-6 2h8m-8 4h8m-2-6h8m-8 1h8m0 7h8m-8 0h8m-7-1h8m-7-6h8m-7 2h8m-8 6h8m-6-3h8m-8-1h8m-7-1h8m-4-3h8m-6-1h8m-6 7h8m-3-3h8m-5 2h8m-8 0h8m-4-6h8m-6 5h8m-6 3h8m-4 1h8m-8-2h8m-8 1h8m-7-6h8m-2 2h8m-8-4h8m-4 8h8m-7-4h8m-5-1h8m-8-3h8m-7 7h8m-8-7h8m-7 2h8m-6 3h8m-8 0h8m-7-2h8m-8 0h8m-6 1h8m-7 2h8m1-5h8m-6 5h8m-7-4h8m-8-1h8m-4 7h8m-8-1h8m-5-6h8m-3 0h8m-7 1h8m-1 5h8m-7-5h8m-7-1h8m-6 2h8m0 2h8m-8-1h8m-8 4h8m-5-6h8m-7 4h8m-2-4h8m-4-2h8m-8 6h8m-7-5h8m-8 4h8m-3 4h8m-7-3h8m-7-5h8m-8-1h8m-8 6h8m-8-1h8m-5 3h8m-4-5h8m4 4h8m-6 0h8m-6-7h8m-7 0h8m-8 2h8m-8 2h8m-7 1h8m-5 4h8m-5-6h8m-8-2h8m-6 0h8m-7 8h8m-6-9h8m-8 8h8m-6-4h8m-6 2h8m-8-3h8m-8 3h8m0-4h8m6 0h8m-6 0h8m-4-1h8m-7 4h8m-8-1h8m-6 1h8m9-1h8m-7 3h8m-4 2h8m-7-2h8m-3-1h8m4-2h8m-2 1h8m8 4h8m-8-9h8m-5 8h8m24-8h8m-7 9h8m5-6h8m-600 7h8m23 1h8m-8 5h8m-2 0h8m3-3h8m7 4h8m-5-5h8m10 0h8m-5-2h8m-5 0h8m-1 6h8m0 3h8m-5-9h8m-2 8h8m-8-2h8m-4-6h8m14 9h8m-8-5h8m-4 2h8m-5 1h8m-3-4h8m-7 1h8m9 4h8m3-7h8m-4 2h8m-8 6h8m-7-9h8m-8 9h8m-4-1h8m3-2h8m-6-3h8m-5 1h8m-6-1h8m0-1h8m-3 5h8m-6-3h8m-5-2h8m-4 3h8m-5 4h8m-7-2h8m4 1h8m-7-4h8m-3 3h8m-7-4h8m-6 0h8m-3 3h8m-7 0h8m-3-3h8m-3 0h8m-7 1h8m-4 5h8m-7 0h8m-7-7h8m-4 3h8m-7 2h8m4-4h8m-4-2h8m-5 0h8m-7-1h8m-7 0h8m-6 6h8m-7-4h8m-4 0h8m-5 0h8m-4-1h8m2 3h8m4 5h8m-4-3h8m-7-1h8m-8 2h8m-6-5h8m-5-1h8m0 4h8m-6 2h8m-5-5h8m-7 3h8m-6 0h8m-3-4h8m-2 3h8m-2-1h8m1 5h8m-8-8h8m-2 3h8m-3 6h8m-5-5h8m-5 3h8m-6 1h8m-6-8h8m-7 9h8m-3-5h8m-4 5h8m-5-4h8m-6 3h8m-7-7h8m-8 8h8m-7-8h8m-6 5h8m-7-6h8m-7 6h8m-3-6h8m-6 3h8m-7 5h8m-5-4h8m-7 1h8m-5 0h8m-4-1h8m-1-4h8m1 7h8m-5 1h8m-4 0h8m-7-4h8m-4 2h8m-7 3h8m-8 0h8m-6-2h8m-4 1h8m-7-6h8m-8 6h8m-4-1h8m-5-5h8m-7 2h8m-7-3h8m-5 0h8m-8 7h8m-7-6h8m-5 5h8m-1-7h8m-4 4h8m-5 2h8m-5-3h8m-6-1h8m-5 5h8m-6 1h8m-6 0h8m0-3h8m-6 0h8m-1-5h8m-6 7h8m-5-1h8m-6-6h8m-1 5h8m0 4h8m7-7h8m-7 4h8m0-2h8m-4 4h8m1-5h8m-601 12h8m-8 3h8m-1-2h8m2-3h8m2 2h8m-7 0h8m-4-4h8m-6-1h8m1 1h8m-7 5h8m-1-2h8m1-3h8m23 8h8m-3 0h8m-7-8h8m-5 2h8m19-1h8m-5 3h8m-5 4h8m-5-4h8m16 2h8m-4 0h8m-7-5h8m-6 1h8m3-2h8m-4 0h8m-6-1h8m-7 7h8m-7-2h8m0 2h8m-6 2h8m-7-1h8m-3 1h8m1-3h8m-6-2h8m-8 4h8m-4-1h8m1 0h8m-3 1h8m-8-2h8m-4 0h8m-6 3h8m3-5h8m-7 2h8m-2 2h8m-1-6h8m-3 5h8m-7-3h8m-7 1h8m-5 2h8m-8-2h8m1-5h8m-2 3h8m-4 2h8m-4-3h8m-7 1h8m-4 6h8m-8-5h8m0-1h8m-7 0h8m-5 1h8m-6 4h8m-4 0h8m-4 1h8m-6-7h8m-6-1h8m5 8h8m-7 0h8m-5-6h8m-7-3h8m-4 8h8m-3 1h8m-3-4h8m-7-2h8m-5 2h8m-3-3h8m-8-1h8m-7 4h8m-3 0h8m-7 4h8m-8-2h8m-5-3h8m-6 2h8m-8-4h8m-8 7h8m-5-7h8m-5 1h8m-1 5h8m-7-3h8m-6 0h8m-5-4h8m-7 4h8m-8 3h8m-5-7h8m-7 5h8m-7-3h8m-5 0h8m-4 2h8m-7 2h8m-3 0h8m-6 0h8m-7-1h8m-8 1h8m-5-5h8m-7 4h8m-2 3h8m-8-3h8m-6-5h8m-8 4h8m-7-5h8m-7 9h8m-7-4h8m4-5h8m-8 0h8m-8 4h8m-5 5h8m-8-7h8m-7 6h8m-8-1h8m-6-1h8m-8 1h8m-8-6h8m-8 5h8m-7 3h8m-5-3h8m-3 2h8m-8 0h8m-7-1h8m-7 1h8m-8-1h8m-6-3h8m-8-3h8m-4 8h8m-5-1h8m-6-8h8m-7 1h8m-8 8h8m-7-9h8m-5 8h8m-8 0h8m-7 0h8m-8 1h8m-6-3h8m-7 3h8m-7 0h8m-7-7h8m-6 5h8m-7 2h8m-7-1h8m-8-7h8m-6 8h8m-8-3h8m-7-4h8m-6 3h8m-8-1h8m-7 3h8m-7-7h8m-8 8h8m-8-7h8m-8-1h8m-5 3h8m-5 0h8m-7 2h8m-5-5h8m-2 4h8m-6-1h8m-8 4h8m-7 2h8m-7-3h8m-5 0h8m-8-3h8m-6-2h8m-6 5h8m-7 2h8m-8-1h8m-7 2h8m-8-9h8m-8 1h8m-7 8h8m-7-1h8m-7 0h8m-7-6h8m-4 2h8m-8-1h8m-7 4h8m-7 2h8m-8-1h8m-7-6h8m-6 4h8m-6 0h8m-8-5h8m-8 4h8m-7 4h8m-7-4h8m-7 4h8m-7-1h8m-6-3h8m2 0h8m-4-1h8m-7 3h8m-3-5h8m-7 5h8m-8 0h8m-7 0h8m-7-7h8m-7 8h8m-4-5h8m-6 2h8m-6-1h8m12 1h8m-7 3h8m-4-5h8m32 4h8m-2-3h8m-5 5h8m-671 10h8m0-6h8m13 5h8m8-1h8m2-2h8m-2 0h8m8 1h8m3 2h8m-2-7h8m-7 4h8m-1 0h8m-5-3h8m-3 6h8m-3 1h8m-5-8h8m-6 4h8m-3 4h8m2-6h8m0-1h8m-4 3h8m-2-1h8m-8 4h8m-1-8h8m-2 2h8m11 7h8m-2 0h8m-6-3h8m2 3h8m-8-7h8m4 4h8m-7-1h8m2-3h8m-8 2h8m-7 3h8m-7 1h8m-3-2h8m-2-4h8m-3 5h8m-8-5h8m-6 6h8m-3 0h8m-8-6h8m-7 1h8m-4 4h8m-8-4h8m-6-3h8m-5 9h8m-3-3h8m-7 0h8m-5-1h8m-5-4h8m-8 6h8m4 2h8m-8-3h8m-5-3h8m-6 6h8m-5-1h8m-4-8h8m-5 0h8m-3 7h8m-1 0h8m-7 0h8m-5-6h8m-2 2h8m-5 1h8m-6 2h8m-1-1h8m-7-4h8m3-1h8m-6 0h8m-3 8h8m-7-5h8m-7-2h8m-5 2h8m-1 0h8m-8 5h8m-8 1h8m-4 0h8m-3-7h8m-8 0h8m-6-2h8m-3 1h8m1 3h8m-7-4h8m-6 0h8m-4 3h8m-8 5h8m-6-5h8m-7 5h8m-3-2h8m-7 0h8m-7 1h8m-6-2h8m-7 3h8m-5-4h8m-6 5h8m-8-6h8m-5 4h8m-7-5h8m-7 7h8m-7-1h8m-8-7h8m-6 2h8m-8 0h8m-7 0h8m-8 6h8m-5-7h8m-5 2h8m-8 4h8m-6-2h8m-5 2h8m-7 0h8m-8 1h8m-8-5h8m-7 3h8m-8 1h8m-5-3h8m-6-2h8m-5-2h8m-8 7h8m-7-2h8m-7 2h8m-8 1h8m-7 0h8m-8-2h8m-5-2h8m-7 4h8m-3-6h8m-5 6h8m-8 0h8m-7 0h8m-7-2h8m-8 2h8m-8-3h8m-7-6h8m-7 2h8m-8 0h8m-7 6h8m-4-2h8m-5 3h8m-7-8h8m-7 8h8m-7-2h8m-8-1h8m-8-1h8m-8-2h8m-8 0h8m-8 3h8m-6-2h8m-8 2h8m-3-2h8m-7-3h8m-7 4h8m-7-2h8m-8 0h8m-8 4h8m-7-7h8m-7 8h8m-7 1h8m-8-8h8m-7 1h8m-8 1h8m-7 6h8m-7-5h8m-7 0h8m-8-2h8m-7 4h8m-8 2h8m-7-8h8m-8 1h8m-7 5h8m-8 1h8m-8-5h8m-7 3h8m-8-4h8m-6 4h8m-6 3h8m-8-2h8m-8-6h8m-6 3h8m-7-2h8m-6 6h8m-6-5h8m-8-1h8m-6 2h8m-7 6h8m-8-2h8m-8-3h8m-7 1h8m-8-1h8m-5 3h8m-7-2h8m-7-1h8m-7 5h8m-8-3h8m-6 0h8m-8 0h8m-7-4h8m-7 4h8m-8-3h8m-7 4h8m-8 2h8m-7-5h8m-7 4h8m-7 0h8m-8 1h8m-7-4h8m-8 4h8m-8-2h8m-6 0h8m-8-4h8m-3-1h8m-5 6h8m-8-4h8m-8 0h8m-7 5h8m-8-6h8m-6 5h8m-8-1h8m-8 1h8m-8-5h8m-7 3h8m-7 1h8m-8 1h8m-7 1h8m-5-1h8m-7-4h8m-6-2h8m-5-2h8m-7 6h8m-7-2h8m-7-2h8m-6 5h8m-6 2h8m-6-5h8m-7 4h8m-7-4h8m-7-1h8m-1 2h8m-8-2h8m-7 3h8m-4-5h8m-7 1h8m-5 2h8m-7 4h8m-8-2h8m-8-1h8m-7 0h8m-5-4h8m-6 4h8m-7-1h8m-2 4h8m-7-2h8m-5 3h8m-7-2h8m-7 0h8m-4 2h8m-8-5h8m-5 4h8m-8-7h8m-6 6h8m-4-6h8m11 8h8m-4-8h8m-658 12h8m10-3h8m46 4h8m7 1h8m-7 1h8m-5-1h8m-5 2h8m-3-3h8m0-2h8m-3 5h8m-2-4h8m-7 0h8m-5-1h8m11-1h8m-2 5h8m-7-2h8m5-4h8m10 9h8m-1-6h8m-6 1h8m1-3h8m-5 5h8m-6-1h8m-6-2h8m-6 4h8m-5-1h8m-6 3h8m-8 0h8m-7-1h8m-6-4h8m10 5h8m-7-9h8m-7 7h8m-7-6h8m-4 1h8m-1 1h8m-5 1h8m-7-4h8m-8 7h8m-1 1h8m-1-8h8m-6 9h8m-8-7h8m-3 0h8m-3-1h8m-2 1h8m-7 5h8m3 1h8m-5-2h8m-5-3h8m-7 3h8m-7 2h8m-5-7h8m-5 2h8m-5 2h8m1 1h8m-7 3h8m-2-9h8m-1 7h8m0-1h8m-3 1h8m-7 0h8m-8 1h8m-3-1h8m-8-2h8m0-3h8m-7-2h8m-7 6h8m-7 0h8m-7-6h8m-8 0h8m-3 9h8m-5-7h8m-8 0h8m-5-1h8m-7-1h8m7 5h8m-7 3h8m-8 1h8m-5-8h8m-5 2h8m-5-3h8m-6 2h8m-2 4h8m-2-6h8m-7 6h8m-8-6h8m-4 6h8m-8-2h8m-6-4h8m-6 3h8m-6 1h8m-7 4h8m-8-8h8m-7 9h8m-7-8h8m-7 4h8m-8-5h8m-7 6h8m-5-4h8m-5 2h8m-7-2h8m-8 2h8m-8-1h8m-7-1h8m-7 2h8m-6-2h8m-6 0h8m-8 2h8m-6 2h8m-4-4h8m-7 7h8m-7-7h8m-7 2h8m-7 5h8m-8-7h8m-7-1h8m-8 4h8m-6 2h8m-8-7h8m-8 7h8m-6-7h8m-6 9h8m-8-4h8m-7-2h8m-6 5h8m-8 0h8m-8-3h8m-7-1h8m-8-1h8m-7-2h8m-8 6h8m-7-3h8m-8 4h8m-7-5h8m-8 4h8m-7-2h8m-6-3h8m-8 3h8m-5 2h8m-8-7h8m-8 7h8m-7 0h8m-8-1h8m-8-5h8m-8 4h8m-7-2h8m-7 3h8m-8 1h8m-7-2h8m-6 4h8m-6-1h8m-7-7h8m-7 3h8m-6 3h8m-8-1h8m-7-4h8m-7 1h8m-8 3h8m-6-4h8m-8 5h8m-7 0h8m-8-2h8m-8-5h8m-7 8h8m-8-7h8m-7 1h8m-8 7h8m-6-8h8m-7 5h8m-8 0h8m-5-4h8m-8 2h8m-8 5h8m-7-2h8m-8-5h8m-7 7h8m-4-6h8m-8-1h8m-7 4h8m-7-6h8m-5 0h8m-8 7h8m-7 0h8m-7-2h8m-7 0h8m-6-3h8m-7 7h8m-8-3h8m-5-3h8m-8 4h8m-8 1h8m-7-7h8m-8 2h8m-7 4h8m-7-1h8m-7-5h8m-8-1h8m-6 4h8m-8 4h8m-6 0h8m-8-1h8m-7-3h8m-8-1h8m-8 0h8m-6 1h8m-5 4h8m-8-4h8m-6 3h8m-8-7h8m-7 3h8m-8 3h8m-7 3h8m-7-3h8m-8 3h8m-8-3h8m-7 2h8m-8 0h8m-3-6h8m-7 1h8m-7 3h8m-4-1h8m-8 2h8m-7-7h8m-6 7h8m-7-7h8m-8 0h8m-6 3h8m-7 2h8m-7-5h8m-8 9h8m-8-3h8m-7 3h8m-8-7h8m-8 5h8m-6 0h8m-8-6h8m-7 4h8m-7 2h8m-8 0h8m-8-6h8m-5 0h8m-7 6h8m-7 2h8m-7-9h8m-8 4h8m-6 2h8m-7-4h8m-7 6h8m-7-1h8m-8-4h8m-2 0h8m-8-3h8m-7 6h8m4-3h8m-7 6h8m-8-1h8m-5 0h8m-2-5h8m-6 5h8m-4-7h8m-7 6h8m-7 2h8m-6-5h8m-3 3h8m-1-3h8m-8-1h8m-6 5h8m-4-5h8m-2 6h8m0-6h8m16-2h8m-669 17h8m6-3h8m5-4h8m-5 8h8m-2-9h8m-5 2h8m0-2h8m15 6h8m-6 2h8m-7-8h8m-5 7h8m5-7h8m-8 4h8m3-2h8m-4 7h8m-7 0h8m-7 0h8m-1-9h8m-3 5h8m-4-1h8m-8 5h8m-7-8h8m-3 6h8m9-1h8m-6 2h8m-2-7h8m-2 2h8m-3 2h8m-6 4h8m0-8h8m12 4h8m-6-4h8m-3 6h8m16 2h8m-2-5h8m-6 4h8m-2-4h8m11-3h8m-7-1h8m6 0h8m11 0h8m-3 5h8m7 3h8m-8-3h8m-7 4h8m-8-2h8m-5 1h8m-7-3h8m-6 3h8m-7-2h8m-4-5h8m-8 8h8m-6-4h8m-8-5h8m-7 2h8m-4 6h8m-5-3h8m8 1h8m-3 3h8m4-5h8m-8-4h8m-2 9h8m-2-4h8m-5-3h8m-8 1h8m-7 0h8m-4 3h8m-6-1h8m-6 4h8m-8 0h8m-4-1h8m-7 0h8m-6-7h8m-5 6h8m-5 0h8m-6 1h8m-8 0h8m-6-6h8m-8 3h8m-5 2h8m-4-5h8m-6 1h8m-3-1h8m-7 5h8m-6-2h8m-6 3h8m-7 1h8m-7-2h8m-7-5h8m-8 4h8m-7-5h8m-7 2h8m-7-1h8m-8 7h8m-8-7h8m-6-2h8m-6 8h8m-7 1h8m-7-7h8m-5 5h8m-7-4h8m-7-1h8m-8 1h8m-7 3h8m-6-1h8m-7-5h8m-7 2h8m-8 5h8m-7-5h8m-8 4h8m-8-1h8m-7 2h8m-7-7h8m-7 3h8m-6-3h8m-8 6h8m-6-2h8m-8-4h8m-5 6h8m-7 1h8m-7 2h8m-7-9h8m-8 4h8m-7-3h8m-8-1h8m-7 8h8m-8-2h8m-8-4h8m-8 4h8m-8 2h8m-7-6h8m-8 3h8m-7 2h8m-7-2h8m-8-2h8m-7 6h8m-7-4h8m-7 2h8m-6-2h8m-6-5h8m-6 9h8m-7-3h8m-7 1h8m-7-6h8m-8-1h8m-6 9h8m-8-9h8m-8 3h8m-7 0h8m-7 0h8m-8-1h8m-5-1h8m-7 2h8m-7 1h8m-6-2h8m-7-2h8m-8 1h8m-7 3h8m-8-3h8m-8 4h8m-7-1h8m-7-3h8m-8 2h8m-4-1h8m-7-2h8m-8 5h8m-7 2h8m-7-5h8m-7 3h8m-6-3h8m-8 7h8m-7-1h8m-7-8h8m-8 2h8m-8 4h8m-7-5h8m-8 1h8m-7 0h8m-8 1h8m-8-2h8m-4 2h8m-8 0h8m-7 1h8m-7 1h8m-8-2h8m-8 0h8m-8-3h8m-7 5h8m-7-5h8m-8 5h8m-4 0h8m-7 4h8m-7-2h8m-5-4h8m-7 0h8m-8-3h8m-4 3h8m-7-2h8m-8 6h8m-7-1h8m-8-4h8m-8 0h8m-7 2h8m-8 4h8m-6-3h8m-7-5h8m-8 1h8m-7 0h8m-8 0h8m-8 0h8m-7 7h8m-7-5h8m-8 0h8m-5 0h8m-4 5h8m-6-1h8m-6 2h8m-8-4h8m-7 1h8m-3 0h8m-8-4h8m-7 7h8m-8-6h8m-7-2h8m-6 3h8m-7 0h8m-3 3h8m-1 1h8m-5 1h8m2-5h8m-8 1h8m-4-2h8m-6 2h8m-2 0h8m-4 0h8m-7-1h8m-7-2h8m-7 2h8m-5-1h8m-3 2h8m-8-2h8m-7 1h8m-5 3h8m-8-3h8m23 3h8m-671 6h8m6-1h8m-1 7h8m28-1h8m-1-8h8m6 5h8m13-4h8m-1 3h8m-4-4h8m-8 1h8m-5 8h8m-4-9h8m5 1h8m0-1h8m-1 6h8m-7 3h8m-7-8h8m-7 7h8m6-7h8m-2 0h8m11 8h8m-6-6h8m-6 0h8m-6 4h8m-3-5h8m7 5h8m-3 2h8m-8-5h8m-1 3h8m-8-5h8m-7 2h8m-6 2h8m-2 0h8m-6-5h8m-6 4h8m0-5h8m-4 8h8m1 1h8m-2-4h8m-5-5h8m-7 6h8m-4 1h8m-3-3h8m0 0h8m-7-3h8m-3 3h8m-3 2h8m-4-4h8m-7-2h8m-7 9h8m-5-6h8m-4 3h8m-7-6h8m4 5h8m-4 3h8m8 1h8m-7-4h8m4 2h8m2-6h8m-2 2h8m-8 2h8m-6 1h8m-6-5h8m-6 5h8m-1-1h8m-5 4h8m3-3h8m6 1h8m-6 0h8m-8-6h8m-2 6h8m-7-3h8m-7-3h8m-6 6h8m-7 0h8m7-2h8m-7-5h8m-8 9h8m-8-9h8m-6 4h8m-3-2h8m-7-1h8m-5 0h8m-8 0h8m-7 5h8m-8 3h8m-8-7h8m-7 3h8m-7 0h8m-7-4h8m-7 5h8m-8 2h8m-7-3h8m-7-1h8m1-4h8m-8 9h8m-5-6h8m-3 2h8m-7-3h8m-8-1h8m-7 1h8m-6 4h8m-8-4h8m-6 4h8m-7 0h8m-7 2h8m-6-6h8m-7 2h8m-5 3h8m-5 2h8m-5-3h8m-7 3h8m-5-4h8m-6 0h8m-7 0h8m-8-3h8m-7 5h8m-3 2h8m-7-9h8m-8 8h8m-5-6h8m-8 1h8m-6-3h8m-6 3h8m-8 1h8m-4 1h8m-8 1h8m-7-5h8m-7 3h8m-7 2h8m-7 0h8m-8-4h8m-7 2h8m-4 5h8m-7-9h8m-8 1h8m-7 5h8m-8-5h8m-5 4h8m-5-3h8m-6-2h8m-8 5h8m-3 4h8m-5-7h8m-5-1h8m-5 3h8m-7 2h8m-2-4h8m-8 4h8m-8-4h8m4 0h8m-7-2h8m-6 2h8m-7 5h8m-4-3h8m-8 1h8m-8 1h8m-2-4h8m-8-1h8m-7-1h8m-6 5h8m-7 0h8m-1-4h8m2-1h8m-8 8h8m-2-5h8m0-3h8m-7 4h8m0-4h8m-2 3h8m6-1h8m-5 5h8m25 1h8m-680 2h8m26 4h8m14-3h8m12 8h8m18-8h8m25 1h8m-2 1h8m9-2h8m9 1h8m-7 0h8m-6 7h8m-6-5h8m-8 4h8m0-1h8m-7-2h8m-6-1h8m-3 4h8m-7-1h8m15-4h8m-7 6h8m4-3h8m2 3h8m-8 0h8m5-7h8m3 1h8m0-1h8m-7-1h8m-3-1h8m2 6h8m-3-3h8m3 1h8m-7 5h8m-5-3h8m5-6h8m-2 1h8m-7-1h8m-5 1h8m12 5h8m-5-5h8m1 0h8m-7-1h8m-8 0h8m-8 7h8m-2-4h8m-2 5h8m-3-2h8m-6-1h8m-2 2h8m-8-7h8m1 3h8m-7 2h8m9-3h8m-7 5h8m-7-5h8m-8 1h8m0 1h8m-2-1h8m-7 6h8m-3-7h8m-5 1h8m0-2h8m-3 6h8m1-7h8m-3 2h8m-5 1h8m0 5h8m-4-1h8m-6-6h8m-1 8h8m-8-5h8m-8 1h8m-3 1h8m-7-6h8m-8 0h8m-7 4h8m-5 0h8m-3-2h8m-2 6h8m-8 0h8m-7-1h8m-6-2h8m-7-1h8m-7 2h8m-6-3h8m-8 2h8m-4-4h8m-5 1h8m-7 7h8m-3-9h8m-8 1h8m-6 0h8m-7-1h8m-3 4h8m-3 1h8m-5 3h8m4-7h8m-6 6h8m6-1h8m-7 1h8m6-4h8m9-3h8m2 2h8m4 0h8m-4 5h8m3-5h8m-649 12h8m1 2h8m4 2h8m20-7h8m4 5h8m-2-4h8m7 0h8m6-2h8m-7 5h8m4-5h8m-1 6h8m2 1h8m-4-5h8m-2 6h8m-5-2h8m-3-2h8m-2-3h8m5-1h8m-4 8h8m-2-8h8m-3 3h8m-8 3h8m-7-4h8m-4-1h8m1 5h8m-7 1h8m-4-4h8m-7 4h8m7-4h8m-4 4h8m4-2h8m-5-5h8m6 9h8m-8-6h8m4 0h8m0 3h8m-7-1h8m4 2h8m-8 2h8m0-7h8m-4 2h8m0-3h8m-6 4h8m-4-5h8m-7 3h8m-8 2h8m-7-3h8m-5 2h8m9 0h8m1-1h8m-6 4h8m-6 2h8m-7-2h8m-6-5h8m-5 0h8m-5 2h8m-2-1h8m-4 4h8m-7-1h8m-3-2h8m1 2h8m-4 0h8m-4-1h8m-5 2h8m-8-3h8m-7 3h8m7-4h8m-3 2h8m-2-3h8m-8 2h8m3-1h8m-4-3h8m1 7h8m-6-7h8m12 4h8m0-3h8m16 8h8m-6-7h8m-4-2h8m5 4h8m-7-2h8m13-2h8m-1 2h8m5 0h8m4 0h8m5 3h8m1-1h8m-7-3h8m-617 12h8m21 3h8m1 0h8m-1-4h8m-4 7h8m-8-7h8m0 3h8m-1-5h8m-7 4h8m-4 5h8m-7-7h8m4 6h8m-7-2h8m6 3h8m0 0h8m-4-8h8m-2 3h8m-3 4h8m4-3h8m-5 0h8m-8-4h8m-7 5h8m-1-1h8m-4 1h8m-6 3h8m8-3h8m3 3h8m-2-5h8m12-3h8m-2 2h8m6 5h8m-3-5h8m-7 5h8m-6-5h8m-5-2h8m6 4h8m-4-1h8m0 3h8m-2-4h8m-1 4h8m8-7h8m-3 1h8m0 8h8m-6-1h8m-6-8h8m1 3h8m0 6h8m-7 0h8m-7-6h8m-2 3h8m6 1h8m11-5h8m6 3h8m-7-3h8m35-2h8m-3 9h8m-6-8h8m6-1h8m8 1h8m9 0h8m26-1h8m30 7h8m27 2h8m42-9h8m41 2h8m-673 9h8m39 2h8m28-2h8m2 3h8m-3 2h8m3-3h8m5 6h8m-7-7h8m-8 6h8m-4-7h8m9-1h8m-1 7h8m-6 1h8m-1-6h8m10 0h8m8-2h8m-6 2h8m-7 2h8m-1-3h8m-3 5h8m-5 3h8m-5-5h8m-7-2h8m-3 6h8m-1-2h8m0 3h8m-4-3h8m0-1h8m2 4h8m2-7h8m-8-2h8m-6 2h8m-5-2h8m-4 2h8m10 1h8m-6 5h8m-5 0h8m-6-7h8m-5 8h8m5 0h8m1-4h8m-5-4h8m-3-1h8m-6 4h8m21 5h8m-6-3h8m0 3h8m17-4h8m28-1h8m-7 5h8m2-6h8m-3 0h8m-2 1h8m23-4h8m4 1h8m13 0h8m31 2h8m30 1h8m-618 14h8m19-5h8m23 2h8m-7-2h8m4 0h8m4 1h8m14 0h8m1 3h8m-8-2h8m-4 0h8m-7-5h8m-2 3h8m-1 3h8m-2-4h8m3 5h8m8-3h8m-6 0h8m6 3h8m16-3h8m-2 3h8m-4 0h8m2-6h8m-2 3h8m3 3h8m-8-7h8m-6 4h8m-7 2h8m-3-5h8m-3-1h8m9 3h8m-6 6h8m-6-2h8m-2 0h8m0 1h8m17-7h8m11 8h8m3-2h8m-6 2h8m-3 0h8m5-1h8m-4-2h8m23-2h8m-1-2h8m21 6h8m57-3h8m11 1h8m-5-6h8m30 3h8m-564 12h8m51 2h8m17-4h8m-3 5h8m-7-3h8m-8-2h8m-8-3h8m-5 7h8m-2-6h8m-2 7h8m3-8h8m1 4h8m9-1h8m4 3h8m-3-1h8m-2 3h8m-7 1h8m4 0h8m-5-9h8m-3 4h8m7-2h8m-6-2h8m-6 3h8m13-1h8m0-2h8m-5 7h8m-7 2h8m-2 0h8m-8-1h8m52-4h8m-7 1h8m-7 1h8m-4-6h8m2 9h8m23-3h8m15-1h8m-7 1h8m-8-6h8m6 7h8m-6-7h8m-7 7h8m2-2h8m-4-4h8m3 8h8m7-9h8m2 0h8m50 4h8m-7 5h8m25-6h8m35 0h8m-590 10h8m1 5h8m10-5h8m-7 2h8m4-4h8m6 0h8m7-1h8m-8 8h8m1-5h8m4 6h8m-1-3h8m14-3h8m-6 2h8m-7 3h8m-7-4h8m-6 1h8m-6-1h8m2 4h8m-8-1h8m10 2h8m-4 0h8m1-9h8m10 3h8m-7 5h8m-6-6h8m-7 0h8m-6 4h8m-7-4h8m-3 2h8m18 1h8m4-2h8m3-2h8m-8 1h8m-7-1h8m-2 0h8m29 0h8m1 8h8m10-7h8m-2 4h8m-3 1h8m0 1h8m6 1h8m-4-7h8m3 0h8m18 2h8m-7 4h8m-3-8h8m5 8h8m4 0h8m-6-2h8m-7 3h8m4-4h8m-5-4h8m-1 5h8m2-4h8m-4 7h8m16-2h8m73-5h8m-564 12h8m18 2h8m-5 2h8m-4 0h8m-3-5h8m-8-3h8m7 6h8m-5-3h8m-4 5h8m6-3h8m-5 4h8m2-8h8m23 2h8m-1 1h8m-4-1h8m3 5h8m-6-6h8m-8 1h8m21 4h8m4-2h8m-5-4h8m4 1h8m5 0h8m3 3h8m3 1h8m-5-3h8m-4 1h8m-8-2h8m2 0h8m2 0h8m1 6h8m1-4h8m-2-3h8m-4 2h8m17 0h8m-1 5h8m0-5h8m-4-3h8m6 1h8m6-1h8m-6 0h8m-6 4h8m45 4h8m2-7h8m2 4h8m30 1h8m-4-4h8m1-1h8m-501 17h8m-6-4h8m1-2h8m6 4h8m-7-4h8m-3 2h8m-2 3h8m-8-3h8m-6-2h8m-3 1h8m-6 3h8m-8 0h8m-2-4h8m-2 4h8m-4-5h8m-2 5h8m-6-5h8m-6 3h8m1 1h8m9-1h8m-8 2h8m-6-4h8m1 6h8m-3-3h8m-7-5h8m0 1h8m-8 3h8m-2-3h8m-4 5h8m16 1h8m14-6h8m-5 2h8m-1-2h8m19 2h8m-5 1h8m-4 2h8m-7 2h8m-1-4h8m8-4h8m-3 0h8m-1 7h8m3 0h8m-6-4h8m-3 1h8m-6-2h8m-7 4h8m-4-1h8m11 2h8m-7 0h8m26 2h8m-4-4h8m-4 2h8m-2-5h8m-1 2h8m-5 1h8m4-5h8m5 4h8m117 1h8m-523 13h8m-6-1h8m3-7h8m-2 6h8m-7-1h8m-2 4h8m-6-7h8m-5 3h8m-7 1h8m-7-6h8m-3 2h8m-7 6h8m-7 0h8m-5-6h8m-8 2h8m-2-3h8m-1-1h8m18 1h8m22-1h8m-7 7h8m15-2h8m3 4h8m-6-6h8m-4 2h8m-1-1h8m-7-3h8m3 6h8m0-5h8m-1 4h8m-2 1h8m17-7h8m2 4h8m14 4h8m-2-7h8m-7 2h8m-1-2h8m-7-1h8m6 0h8m-8 4h8m-7 4h8m-7 0h8m17 1h8m-5 0h8m-5-1h8m0 0h8m11-6h8m21 0h8m0 2h8m-8 4h8m-4-3h8m2 0h8m-3-1h8m15 1h8m-6-1h8m8-3h8m-3 8h8m145-1h8m-608 9h8m-6 1h8m2-1h8m5-2h8m-7 4h8m-6-4h8m-2 1h8m-5-6h8m2 5h8m-8 2h8m0 0h8m-4-7h8m-7 7h8m-8-1h8m1 0h8m-8 0h8m-2 0h8m59 3h8m3-7h8m4-1h8m4 7h8m13-1h8m-1-3h8m1 4h8m-7 1h8m-7-1h8m-8 1h8m-4-3h8m5-5h8m4 7h8m-5-8h8m-4 1h8m16 1h8m-1-1h8m2 6h8m2-7h8m6 5h8m30 3h8m-5-6h8m3-1h8m-365 16h8m9-2h8m-7 0h8m-6-5h8m-4 4h8m-6 5h8m-7-9h8m0 6h8m-1 3h8m0-6h8m9 3h8m16-5h8m25 5h8m2-2h8m39 3h8m20-1h8m-7 2h8m0 1h8m5-2h8m11-3h8m-1 2h8m13 3h8m4-4h8m6-4h8m-3 1h8m4 6h8m19-2h8m0-3h8m22 1h8m6 4h8m13-6h8m-4 7h8m51-2h8m-504 9h8m10-6h8m8 8h8m-7-1h8m-3-1h8m25-6h8m3 4h8m53 2h8m-3-5h8m-4 1h8m22 2h8m5 1h8m2 2h8m9-1h8m32-4h8m-6 5h8m-5 0h8m-3-5h8m18-2h8m77 0h8m-3 0h8m-402 12h8m16 2h8m10 2h8m19-2h8m16 5h8m0 0h8m27-3h8m-5-3h8m44 2h8m20 2h8m9-5h8m-5 2h8m39 5h8m65-4h8m-301 9h8m10 2h8m33-5h8m-7 2h8m9-2h8m-8 7h8m-8-5h8m23-3h8m0 4h8m-5 4h8m6-2h8m2-3h8m2 6h8m18 0h8m23-4h8m-8 4h8m1-9h8m25 3h8m113 1h8m-350 15h8m-2-8h8m41 4h8m-1 0h8m2-1h8m9 2h8m6-3h8m-1-3h8m3 0h8m61 1h8m5 6h8m-6-5h8m16 6h8m-3-1h8m19-3h8m-347 11h8m56 2h8m45-7h8m6 8h8m35-4h8m15-3h8m-7-1h8m33 0h8m23 5h8m27 4h8m64-9h8m25 2h8m-358 16h8m47 1h8m-6-8h8m0 6h8m51-5h8m19 3h8m-4 1h8m121 1h8m-337 7h8m23-2h8m25 2h8m4-3h8m24 6h8m-4 1h8m2-3h8m-2 4h8m23-8h8m5 6h8m7-6h8m8-1h8m-2 2h8m243-1h8m-426 9h8m-1 4h8m-4 3h8m-3-5h8m-5 4h8m34-5h8m8-1h8m8 7h8m19-7h8m13 4h8m-7 1h8m4-4h8m-7 1h8m1 4h8m157 0h8m-388 6h8m54 2h8m31-3h8m43 8h8m35-9h8m7 0h8m7 1h8m15 5h8m29-6h8m14 3h8m-204 7h8m41 6h8m117 3h8m12 9h8m-244 4h8m2-1h8m-66 9h8m87 4h8m49 0h8m23 13h8m232 23h8m-382 13h8m452 8h8m-192 17h8" stroke="#000" stroke-width="8" stroke-opacity="1" fill="none"/>
<path transform="scale(.1)" d="M1786 1651h8m6 7h8m-1 1h8m-6-2h8m-39 6h8m-6 4h8m-4 1h8m-1-5h8m-7-3h8m0 4h8m-3 5h8m-7-2h8m-7-7h8m-6 4h8m-152 15h8m100-9h8m-3 2h8m-6 6h8m3-1h8m0-2h8m-5 0h8m-5-4h8m-1 4h8m-6 0h8m-888 6h8m830 2h8m-6-3h8m18 8h8m-6-6h8m-7 1h8m-870 13h8m791 2h8m18 0h8m-8-2h8m4-4h8m-7 5h8m-6 1h8m-7-4h8m-3-3h8m-4 0h8m3 0h8m-6 0h8m-870 9h8m-6 9h8m-4-8h8m-4 8h8m803 0h8m8-3h8m-5 0h8m-7-6h8m-8 1h8m-6-1h8m-7 1h8m0 0h8m-7 2h8m-2 0h8m-7-3h8m-868 11h8m-1 4h8m-8-1h8m-6-4h8m813 3h8m-4 3h8m-7-5h8m8 3h8m-7 1h8m-7 4h8m-3-6h8m-840 16h8m786-4h8m-7-5h8m1 8h8m-5-2h8m2 0h8m-7-6h8m2 1h8m-6-1h8m-854 12h8m-6 0h8m789-2h8m4 7h8m-1 2h8m1-7h8m-4 0h8m-1-2h8m-7 2h8m-7 4h8m-8-2h8m-6-4h8m-849 12h8m-3 0h8m26 1h8m737 2h8m10 2h8m1-7h8m7 4h8m-8-3h8m-4 2h8m2 1h8m-2 0h8m-761 15h8m703-8h8m-8-1h8m-6 1h8m-2 6h8m-6-5h8m-4 1h8m-3-2h8m-3 4h8m-8 1h8m-7-3h8m-7 0h8m-6 1h8m-3 0h8m3 2h8m-63 13h8m-4-2h8m-7-6h8m-4 0h8m-2 6h8m-6-2h8m-8-3h8m-4 6h8m-1 1h8m-2-3h8m-5-2h8m-3 1h8m-830 9h8m-8 0h8m773 2h8m9 1h8m1-1h8m-3-4h8m-7 1h8m-6 2h8m-5 2h8m-7-5h8m-6 6h8m-4 0h8m-828 10h8m-7 1h8m-8-1h8m0 0h8m699-6h8m-6 6h8m52-6h8m-7 4h8m-5-3h8m-8-2h8m-8-1h8m-3 9h8m-3-3h8m-8 1h8m-4 0h8m-5-2h8m-1-1h8m-3 5h8m-815 9h8m7-7h8m673 1h8m63 6h8m-7 0h8m5-5h8m-4 1h8m-3 5h8m-8-3h8m-7-3h8m-8 3h8m-7-1h8m-2-3h8m-8 3h8m-6-4h8m-806 17h8m642-8h8m81 8h8m19-4h8m-8 5h8m-7-9h8m-8 3h8m-1-1h8m3 4h8m-7-2h8m-8-3h8m-5 0h8m-6 1h8m-6 1h8m-3 2h8m-6 4h8m-6-9h8m-44 14h8m-5-1h8m-6 2h8m-7-3h8m-4 7h8m-6-9h8m-6 2h8m-6 3h8m-8-5h8m-1 7h8m-2-7h8m0 0h8m-51 15h8m-6-3h8m-3 4h8m-6-4h8m-1 2h8m5 3h8m-7-5h8m-7 6h8m-536 8h8m423-1h8m34-1h8m11 2h8m-4-5h8m-6 1h8m-5 2h8m-6 2h8m-6-5h8m-5-1h8m-5 2h8m-7 1h8m-3 2h8m0 1h8m-5 3h8m-782 5h8m-3-4h8m644 8h8m28-7h8m31 8h8m-6-5h8m-4 2h8m-2-6h8m-7 6h8m-8 0h8m-7 2h8m-6-4h8m-7-3h8m-4 4h8m-5 2h8m-4 1h8m2-7h8m-7 7h8m-6-2h8m-777 10h8m494 3h8m200-3h8m-6-6h8m-4 5h8m2 4h8m-6-8h8m-6 0h8m-3 1h8m-5 5h8m-6 0h8m-3-6h8m2 7h8m-5-8h8m-7 2h8m-8 2h8m-7 1h8m-4-3h8m-770 16h8m1-1h8m176-7h8m450 3h8m59 6h8m-7 0h8m-7-8h8m-5-1h8m-3 0h8m-7 1h8m-8 7h8m-8-2h8m-7 2h8m-2-4h8m-7 5h8m-8-8h8m-4 2h8m-8 2h8m-5 0h8m-8 3h8m-7 0h8m-6-2h8m-7-2h8m-4-2h8m-4 1h8m-7-2h8m-8 6h8m-5-7h8m-758 14h8m659 2h8m31-1h8m-5 0h8m-7 3h8m-6 0h8m-3-1h8m-4 2h8m-1-5h8m-7-4h8m-8 3h8m-7 4h8m-6-3h8m-7-4h8m3 3h8m-6 0h8m-8 1h8m31-3h8m-796 9h8m-6 1h8m-8 0h8m4 6h8m120-7h8m510 0h8m12 6h8m18 1h8m-6 1h8m7-7h8m3 5h8m-7-3h8m-6 1h8m-7 5h8m-2-9h8m-3 5h8m-669 9h8m75 0h8m402 1h8m104-4h8m-4 8h8m1-6h8m-8 0h8m-8-1h8m-7 6h8m-7-3h8m-7 1h8m-3-3h8m-8-1h8m-3-2h8m-8 6h8m-2-4h8m-7 3h8m-5-1h8m6-4h8m-148 15h8m58 2h8m17 0h8m1-6h8m-5 2h8m-8-2h8m-7-1h8m-3 2h8m-8 4h8m-5-2h8m-7 1h8m-3-3h8m0 5h8m-7 2h8m-6-7h8m-7 1h8m-8-3h8m-6 4h8m-7 5h8m-7-6h8m-6 0h8m-735 11h8m361 5h8m304-3h8m-2 0h8m-5-6h8m-5 6h8m-8-4h8m-3 1h8m-4 2h8m-7-1h8m-7-1h8m-7 0h8m1 2h8m-8-4h8m-6-1h8m-7 1h8m-7 2h8m-5-3h8m6 3h8m18 0h8m-89 7h8m-8 9h8m-4-5h8m-6 1h8m-7 3h8m-1-4h8m-7 2h8m-6-5h8m-5 7h8m-4-7h8m-8 4h8m-4-4h8m-4 7h8m-6-4h8m-6-1h8m-7-1h8m1 3h8m1 4h8m-688 4h8m119 4h8m482-2h8m-4-4h8m-2 4h8m-7 1h8m-6 2h8m-8-6h8m-7 3h8m-7-3h8m-6 7h8m-7-8h8m-6 5h8m-8 0h8m-7-3h8m-4-1h8m-8-1h8m-7 3h8m-8-1h8m-1-1h8m-5 4h8m-2-3h8m14-3h8m-732 15h8m-4 4h8m38 0h8m132-3h8m62-4h8m391 0h8m-8 3h8m-7 0h8m-8 2h8m-4-4h8m-5-3h8m-6 6h8m-5 2h8m-5-2h8m-6 2h8m2 0h8m-8-6h8m-8-1h8m-3 4h8m-8-5h8m-3 9h8m-6-8h8m77 7h8m-774 11h8m257-1h8m322-7h8m29 1h8m-5 7h8m-6-8h8m-5 6h8m-7-6h8m-4 3h8m-7-4h8m-1 3h8m-6-3h8m-7 8h8m-4-3h8m-1 2h8m-4 2h8m-7-5h8m-4-1h8m4 1h8m-696 14h8m86 1h8m1-2h8m279 2h8m136-2h8m27-5h8m40 5h8m8-6h8m-4 5h8m-6-2h8m-8 1h8m-6 2h8m0 0h8m-3-2h8m-6-3h8m-7 5h8m-7-5h8m-7 4h8m1-3h8m-3 2h8m-8-1h8m-684 6h8m-2 6h8m-6 0h8m545-2h8m21-4h8m-6 7h8m-8-5h8m30 4h8m-7 2h8m-8-1h8m-1-7h8m-6 2h8m-6 7h8m-7-9h8m-6 5h8m-8-5h8m-7 6h8m-2-4h8m-2 0h8m-6-2h8m-5 5h8m-5 4h8m-8-6h8m-7 3h8m-8-2h8m-8 2h8m-8-6h8m-7 8h8m-6-8h8m-670 10h8m44 8h8m241 1h8m48-3h8m242-5h8m-8 2h8m1 6h8m-5-1h8m-2-5h8m-8-2h8m-5-1h8m-5 0h8m-8 8h8m-6 1h8m-6-8h8m-7-1h8m-2 1h8m-7 2h8m-6 1h8m-4 5h8m-8-2h8m-6-2h8m-5-1h8m-8 2h8m-3-4h8m-661 8h8m471 3h8m40 5h8m10-3h8m49-5h8m-4 8h8m-5-4h8m-5 0h8m-7 0h8m-8 2h8m-5 2h8m-3-5h8m-7 6h8m-6-9h8m-7 7h8m-8-1h8m-7-2h8m-4-2h8m-7 7h8m-7-8h8m-6 8h8m-7-3h8m-8-4h8m-7 6h8m-7 1h8m-5-5h8m-6-4h8m-7 6h8m-5-1h8m-8 2h8m0-6h8m-657 9h8m1 9h8m40-3h8m44-1h8m24-2h8m79 2h8m295-5h8m30 9h8m20-1h8m-6-7h8m-7 8h8m-2-2h8m-7 2h8m-6-1h8m-5 0h8m-7 0h8m-3 0h8m-7-7h8m-7 0h8m-4 8h8m-7-5h8m-3 5h8m-4-5h8m-6-4h8m-5 3h8m-6-3h8m33 5h8m-683 8h8m0 4h8m82-3h8m22 2h8m151-2h8m50 5h8m32-2h8m126-3h8m17 4h8m7 0h8m20 0h8m-7-7h8m-3 0h8m-8 7h8m-6-7h8m-5 6h8m-6-3h8m-3 3h8m-8-1h8m-2-6h8m-8 5h8m-7-5h8m-8 6h8m-7-5h8m-7 1h8m-6 7h8m-8-9h8m-7 0h8m-6 8h8m-6-1h8m-3 0h8m-8 0h8m-3 0h8m-3-5h8m-7-1h8m57 8h8m-705 3h8m-5 0h8m-5 7h8m104-9h8m3 3h8m98 5h8m2 1h8m7-9h8m93 4h8m3 4h8m19-4h8m89-3h8m40 7h8m-2-7h8m3 6h8m-4 0h8m4-6h8m-7 7h8m-2 1h8m-7-9h8m-8 1h8m2 5h8m-6-4h8m-3 5h8m-7-2h8m-7-1h8m-8 0h8m-8-4h8m-7 3h8m-7-1h8m-8 3h8m-7-5h8m-4 7h8m-6-3h8m-5-3h8m-7 0h8m-6-1h8m-3 2h8m-616 10h8m-8 5h8m21-1h8m170-1h8m4 4h8m212-4h8m49 0h8m23 3h8m-6-3h8m18 0h8m-8 0h8m-1-1h8m-8 5h8m1-7h8m-7 6h8m-7-6h8m-6 2h8m-7 0h8m-7-1h8m-6 0h8m-5 5h8m-6-1h8m-7 1h8m-6-4h8m-7 3h8m-7 1h8m-7-7h8m-7 6h8m-4-7h8m-7 5h8m-7-3h8m-8 1h8m-8-2h8m46 1h8m-656 15h8m85-3h8m76 3h8m7 1h8m24-6h8m132-1h8m-7 2h8m50 1h8m47-2h8m-5-1h8m1 6h8m11 1h8m37 0h8m-6-3h8m-8 1h8m-8 1h8m-6-7h8m-5 7h8m-8-3h8m-3 5h8m-4-5h8m-6 5h8m-8-5h8m-5 3h8m-4-3h8m-7 0h8m-8-1h8m-7 5h8m-7-1h8m-8 0h8m-8-4h8m-8 6h8m-6-7h8m-7 7h8m-7-5h8m-6-2h8m-451 14h8m13 1h8m1 1h8m56 0h8m62 1h8m7-4h8m69-4h8m25-1h8m40 7h8m3-1h8m43-2h8m-7 3h8m-8-6h8m-8 1h8m-7 1h8m-7-2h8m-8 1h8m-6 2h8m-7-4h8m-8 4h8m-2-2h8m-4 0h8m-7 5h8m-6 2h8m-8-9h8m-5 4h8m-7-1h8m-5-1h8m-8 7h8m-8 0h8m-7 0h8m-2-1h8m-7-3h8m-5-1h8m-8 5h8m-7-6h8m-8 5h8m-7-7h8m-7 1h8m6 5h8m-588 10h8m29-2h8m-8 0h8m-4 1h8m-4-6h8m11 3h8m94 4h8m125-1h8m27-4h8m106 1h8m24-1h8m29 5h8m-7 0h8m-7-2h8m-8-2h8m-8 3h8m-7-6h8m-8 7h8m-8-3h8m-5 3h8m-6-1h8m-7 2h8m-8 0h8m-8-8h8m-6 8h8m-7-1h8m-7 2h8m-4-1h8m-6-4h8m-7 0h8m-3-3h8m-7 8h8m-6-3h8m-8 2h8m-7-8h8m-8 1h8m-7 3h8m-6 5h8m-8-1h8m-8 1h8m-8 0h8m-7-6h8m-7 3h8m-6-2h8m-6 4h8m-8-3h8m-7-2h8m-7-2h8m-7 4h8m-6 4h8m-3-2h8m7-5h8m-586 17h8m-5-6h8m11 6h8m0-2h8m-7-6h8m-6 2h8m-5 1h8m48-2h8m27 7h8m167-1h8m67-6h8m0 1h8m26-1h8m6-1h8m27 2h8m25-2h8m-2 6h8m-4 1h8m-8-5h8m-1-2h8m-2 4h8m-6-5h8m-7 1h8m-7 3h8m-6 1h8m-8-2h8m-7 2h8m-8 0h8m-8-2h8m-7 0h8m-5 2h8m-7 0h8m-7 3h8m-6-6h8m-7 7h8m-8-6h8m-4-1h8m-8 2h8m-5 2h8m-7 2h8m-7-8h8m-8 0h8m-7 3h8m-7 1h8m16-1h8m18 4h8m-600 12h8m-1-7h8m-8 5h8m-8 1h8m-8-7h8m-2 5h8m-8 2h8m-7-1h8m-6 1h8m4 0h8m-7-7h8m-7 7h8m-5-8h8m-1 4h8m-3-1h8m-7 4h8m35-3h8m42 4h8m28-1h8m9 1h8m9 1h8m57-3h8m6 2h8m5-7h8m23 5h8m-8-6h8m27 4h8m23 0h8m50-2h8m15 2h8m3 4h8m-8 0h8m-4-5h8m-7 0h8m-5 3h8m-4-5h8m-8-1h8m-6 5h8m-7 3h8m-7-6h8m-5 0h8m-7 3h8m-8 0h8m-7 3h8m-8-1h8m-7 2h8m-8-9h8m-7 1h8m-7 1h8m-8-2h8m-7 9h8m-7-6h8m-6 1h8m-6 3h8m-6-1h8m-7 1h8m-8-2h8m-7-4h8m-1 2h8m-7 0h8m-8 5h8m-7-6h8m-8 3h8m-7-1h8m-7 3h8m-8-4h8m-5 1h8m6 1h8m-561 9h8m-6 2h8m-5-5h8m-8 4h8m-4 2h8m-1-7h8m0 5h8m-8-3h8m4 0h8m1 5h8m-6-6h8m4 5h8m50 1h8m93 1h8m27-7h8m5 7h8m-1-4h8m62 5h8m1-6h8m-7 4h8m1-7h8m21 1h8m19 8h8m15-6h8m18 4h8m-6-1h8m10 1h8m-7-4h8m-8 4h8m-7-1h8m-6-2h8m-6 5h8m-8 0h8m-7-6h8m-7 5h8m-8-3h8m-7 1h8m-7-2h8m-8-3h8m-7 4h8m-8-2h8m-6 5h8m-8 0h8m-7-4h8m-7-2h8m-3 2h8m-7-1h8m-6-1h8m-5 2h8m-6 4h8m-8-4h8m-7-3h8m-8 7h8m-8 0h8m-5-4h8m-7-1h8m-5 3h8m-7-6h8m-6 0h8m-8 4h8m-8-1h8m-7 4h8m-8 0h8m-6-4h8m-7 5h8m-7-5h8m-5-1h8m3 2h8m-6 0h8m-549 6h8m-5 4h8m-3 1h8m1-5h8m-5 2h8m0 7h8m6-7h8m2 6h8m2-4h8m21 2h8m14-1h8m2 2h8m27 0h8m11-4h8m1-1h8m9 5h8m25 1h8m3-7h8m2 8h8m5-2h8m15-4h8m6 3h8m45-1h8m13 0h8m32 0h8m8 4h8m26 0h8m-6-3h8m-7-3h8m-8 4h8m-7-2h8m-7 1h8m-8 2h8m-4-7h8m-7 7h8m-7 1h8m-8-8h8m-8 2h8m-6 6h8m-8-5h8m-7 5h8m-5-1h8m-6-3h8m-2-2h8m0 4h8m-8-4h8m-8 4h8m-5 1h8m-8 0h8m-7-6h8m-7-2h8m-7 3h8m-7-3h8m-8 4h8m-8-1h8m-4 1h8m-7 0h8m-8-1h8m-2-2h8m25 0h8m-550 11h8m-3 3h8m-3-1h8m-1-1h8m9 6h8m-3-7h8m-4 7h8m-7-7h8m-1 2h8m-8 2h8m-4 0h8m-4 3h8m-7-1h8m21-3h8m55-4h8m18 4h8m126-3h8m21-1h8m42-1h8m-7 7h8m4 1h8m4-8h8m-2 0h8m19 8h8m-5 1h8m-8-2h8m-6 2h8m-7-3h8m-7-6h8m-8 4h8m-7-4h8m-5 4h8m-8-1h8m-4-1h8m-8 2h8m-8-4h8m-7 3h8m-8 1h8m-7-1h8m-5 2h8m-6 0h8m-8-4h8m-8 3h8m-7 1h8m-8 2h8m-7-4h8m-7-1h8m-5 5h8m-8-4h8m-6 1h8m-8 4h8m-5-2h8m-6-5h8m-8 3h8m-6-1h8m-8 6h8m-6 0h8m-7-9h8m-6 7h8m-6-7h8m-7 0h8m-7 7h8m-7 1h8m-4-8h8m9 4h8m-530 12h8m5-6h8m-3 2h8m-7 4h8m-7-4h8m-4-1h8m-3 7h8m-3-1h8m-6 1h8m-8-8h8m-5 0h8m-4 1h8m-2 3h8m-6-4h8m-4 7h8m-7-3h8m-7 0h8m-4 1h8m-8-2h8m-3 6h8m-5-2h8m-6 1h8m24-1h8m11-4h8m-4 1h8m2-4h8m37 0h8m3 0h8m1 3h8m129 0h8m11 4h8m20 2h8m27-9h8m6 7h8m-5-3h8m-7 5h8m1-7h8m-7 6h8m-7-3h8m-7 3h8m-6-3h8m-8 4h8m-6-5h8m-8 5h8m-8-3h8m-7 2h8m-6 1h8m-7-8h8m-8 0h8m-6 8h8m-7-8h8m-3 7h8m-7-2h8m-7-1h8m-7 0h8m-8-2h8m-7 4h8m-7-5h8m-8 5h8m-7-3h8m-7-4h8m-7 1h8m-5 5h8m-6 3h8m-8 0h8m-6-9h8m-8 9h8m-6-5h8m-7-4h8m-5 0h8m-8 3h8m-5 0h8m-8-3h8m-8 9h8m-6 0h8m-7-6h8m-5 0h8m-8-3h8m14 7h8m-502 6h8m-4 2h8m-5 4h8m10-6h8m1-3h8m-1 4h8m-8-1h8m-5 4h8m-5-5h8m-8-2h8m-7 8h8m-7-3h8m-5 0h8m-5-4h8m-4 5h8m-7-2h8m-4 0h8m-7-2h8m-3 5h8m-5 0h8m-1-2h8m-1 0h8m-4 0h8m11 1h8m1-6h8m14 7h8m-1 2h8m-5-6h8m10 5h8m118-5h8m67-3h8m10 3h8m3-2h8m8 8h8m-6-1h8m-8 1h8m-7 0h8m-7-1h8m-8-6h8m-7 3h8m-7 4h8m-7-8h8m-8 8h8m-8-5h8m-7 2h8m-8-3h8m-8 0h8m-7-3h8m-8 4h8m-8-1h8m-7 5h8m-4-6h8m-8-1h8m-8 2h8m-7-2h8m-8 4h8m-7 2h8m-7-4h8m-8 3h8m-6-1h8m-8 4h8m-7-9h8m-6 3h8m-8 4h8m-4 1h8m-8-5h8m-7 3h8m-6-1h8m-8-5h8m-8 6h8m-6 0h8m-8-4h8m-7 6h8m-2-4h8m-8 0h8m-7 4h8m-7 0h8m-7 1h8m-8-5h8m-8-2h8m-6 3h8m-7-4h8m-6-1h8m-7 6h8m-4-4h8m9 2h8m15 2h8m122-6h8m-637 10h8m0 1h8m0 5h8m-6-2h8m2 5h8m-5-3h8m-7-1h8m-7-5h8m-7 8h8m-8 0h8m-8 0h8m-5-2h8m-7-1h8m-6-2h8m-6 0h8m-1 2h8m-3-1h8m-7 2h8m-8-5h8m-7 7h8m-8-5h8m-5-3h8m-6 9h8m-2-4h8m-8 2h8m-8-3h8m-7 2h8m-6-1h8m-4-2h8m-4-3h8m-1 2h8m22 7h8m5-3h8m-5 2h8m-8-5h8m7 4h8m25-3h8m113 0h8m9 2h8m66 2h8m-2 0h8m-5-5h8m-8 0h8m-8-2h8m-6 3h8m-7-4h8m-8 7h8m-7-7h8m-8 0h8m-7 2h8m-7 1h8m-8 0h8m-7 2h8m-7 0h8m-8 1h8m-8 0h8m-7-4h8m-7 3h8m-7 3h8m-6 0h8m-8-1h8m-7-6h8m-8 0h8m-7 4h8m-8 4h8m-7 0h8m-8-1h8m-7-7h8m-8 3h8m-8-1h8m-7-1h8m-7 7h8m-8-4h8m-8-1h8m-7 0h8m-8 4h8m-8-1h8m-8-7h8m-8 8h8m-4-7h8m-7 0h8m-5 7h8m-8-8h8m-8 0h8m-7 5h8m-7-2h8m-6-1h8m-8 0h8m-6-2h8m-8 8h8m-8-7h8m-5 8h8m-7-4h8m-8 4h8m-6-2h8m-8-2h8m-7 1h8m-8-6h8m-7 2h8m-8 1h8m-8 4h8m-7-1h8m-6 3h8m-7-2h8m-8-2h8m-8-3h8m-8-1h8m-8 0h8m-7 7h8m-7-6h8m-5-1h8m-5 8h8m30-5h8m3 5h8m3-5h8m-505 12h8m-4 0h8m-7 3h8m-3-1h8m-4-6h8m-8 4h8m-8 1h8m-6-3h8m-5-2h8m-3 3h8m-7 1h8m-5 2h8m-6-8h8m-1 4h8m-8 5h8m-4-1h8m-1-4h8m-7-4h8m-7 9h8m-4-1h8m-5-5h8m-7 0h8m-8-3h8m-8 7h8m-5-5h8m1 6h8m29-1h8m-7 2h8m-7-7h8m-5 7h8m8-1h8m2-7h8m0 8h8m48-7h8m56 1h8m-3-2h8m-4 4h8m-3 0h8m-3-5h8m-4 3h8m-7 2h8m-3-2h8m-7 5h8m-1-3h8m31-4h8m-1 3h8m3 5h8m-6-2h8m-6 1h8m-7-2h8m-8 1h8m-8-1h8m-7 3h8m-5-3h8m-7 3h8m-8-5h8m-8 4h8m-6-8h8m-8 1h8m-7 3h8m-7 2h8m-8 0h8m-5-4h8m-8 7h8m-7-1h8m-8-2h8m-5-3h8m-7 0h8m-7-2h8m-8 3h8m-7 4h8m-7 0h8m-7-6h8m-5 6h8m-8 0h8m-7 1h8m-8-7h8m-7 7h8m-5 0h8m-6-5h8m-6 4h8m-7-6h8m-8 0h8m-7 5h8m-8-4h8m-8-3h8m-6 4h8m-8-1h8m-8-1h8m-8-1h8m-6-1h8m-8 0h8m-8 1h8m-7 8h8m-8-8h8m-6 8h8m-6-1h8m-7 0h8m-5-8h8m-8 4h8m-8 2h8m-6 3h8m-7-6h8m-7 4h8m-7 2h8m-7-5h8m-8 1h8m-7 0h8m-8-2h8m-7 4h8m-8 0h8m-8-5h8m-8 7h8m-7-5h8m-5-3h8m-8 2h8m-8 2h8m-7 2h8m-6-5h8m-5 2h8m-3 4h8m-1 0h8m19-5h8m-473 7h8m-1 5h8m-7-5h8m-7 0h8m-6 6h8m-4-6h8m-3 5h8m-6-3h8m-8 0h8m2-1h8m-5 7h8m-5-1h8m-7 0h8m-5-5h8m-7-1h8m-8 1h8m-7-2h8m-7 0h8m-8 8h8m-5 0h8m-6-5h8m-5 6h8m-7-9h8m-6 3h8m-4 6h8m-8-3h8m-8-3h8m-8 2h8m-7-3h8m-8 7h8m-8-5h8m4 2h8m-1 1h8m-2 2h8m6-4h8m-6 0h8m2 3h8m7-2h8m10-6h8m-8 4h8m7 4h8m-5 1h8m-4-5h8m66-4h8m-4 2h8m0 5h8m-4-2h8m-6-3h8m0 5h8m2-2h8m0-3h8m11 2h8m4-4h8m2 8h8m-6-2h8m-7 2h8m1 0h8m-8 0h8m-5 0h8m-7 0h8m-7-5h8m-8 6h8m-6-6h8m-8 3h8m-7 0h8m-6-6h8m-7 0h8m-6 5h8m-8 1h8m-7-4h8m-5 3h8m-7-3h8m-7 3h8m-7 2h8m-8-6h8m-6 8h8m-7 0h8m-7-6h8m-8-3h8m-4 4h8m-8 3h8m-6 2h8m-8-8h8m-8 3h8m-8 5h8m-7 0h8m-5-3h8m-8 0h8m-7-5h8m-8 5h8m-8 1h8m-8-2h8m-7-5h8m-8 2h8m-8 1h8m-7 3h8m-3-6h8m-8 7h8m-8 1h8m-8-1h8m-7-4h8m-8-2h8m-7 4h8m-6 1h8m-8-4h8m-6 3h8m-7 2h8m-8-6h8m-7 2h8m-8-2h8m-5 8h8m-7-7h8m-8-1h8m-7 2h8m-7 3h8m-5-3h8m-7 0h8m-8 3h8m-6-1h8m-8-2h8m-6 3h8m-7-3h8m-7 4h8m-7-4h8m-8 0h8m-6 5h8m-8-3h8m-7-5h8m-8 2h8m-7 4h8m-4-5h8m65 8h8m-538 1h8m53 2h8m-7 2h8m-8-3h8m-3 6h8m-8-4h8m-4 2h8m-7-4h8m-8 8h8m-7-7h8m-6 5h8m-6 0h8m-8-1h8m-6-3h8m-6 6h8m-6-4h8m-8-2h8m-5 2h8m-6 0h8m-6 4h8m-7-4h8m-8 4h8m-7-6h8m-8 5h8m-7-6h8m-4 2h8m-7-2h8m-7 2h8m-6 2h8m2 3h8m-6-9h8m-8 7h8m-7 1h8m-8 1h8m-8-3h8m-8 3h8m-6-2h8m-7 0h8m-8-2h8m-3-4h8m-8 3h8m-7 4h8m-8-1h8m-7-3h8m-8-4h8m-7 9h8m-8-3h8m-7-4h8m-8-1h8m-7 8h8m-8-1h8m-5-5h8m-8 3h8m-7 3h8m-8-8h8m-6 5h8m-6 2h8m-3 0h8m-3-4h8m-7 5h8m-2-4h8m2-4h8m-7 8h8m-5 0h8m2-9h8m-6 9h8m7-8h8m-8 1h8m0 5h8m-4-7h8m-8 9h8m-2-6h8m71 3h8m-2 0h8m-7-3h8m-5 2h8m-6 1h8m-3 3h8m9-9h8m-2 9h8m-3-5h8m-6-4h8m0 3h8m11 5h8m-8-8h8m-6 7h8m-5 2h8m-7-8h8m-7 3h8m-7 4h8m-8-3h8m-6 2h8m-7-5h8m-7-2h8m-7 2h8m-8 7h8m-7-8h8m-8 7h8m-7-8h8m-8 1h8m-7-1h8m-6 2h8m-6 4h8m-8 2h8m-8-6h8m-7 0h8m-7 0h8m-8 2h8m-4 4h8m-7-3h8m-6-2h8m-8 5h8m-6 1h8m-8-1h8m-7-5h8m-2-3h8m-6 1h8m-8 7h8m-6 0h8m-8-1h8m-7 2h8m-6-8h8m-6 3h8m-7 4h8m-7-3h8m-8 4h8m-7-7h8m-7 2h8m-7 5h8m-5-5h8m-8-4h8m-8 1h8m-8 6h8m-8 1h8m-7-2h8m-7-4h8m-8 4h8m-7-5h8m-8 7h8m-6-4h8m-7 1h8m-7-2h8m-8-3h8m-8 7h8m-7-5h8m-8 5h8m-6-4h8m-7 4h8m-7-5h8m-6 0h8m-7 4h8m-7 0h8m-8-3h8m-7-1h8m-6 2h8m-7-1h8m-7 1h8m-8-3h8m-7 0h8m-4 0h8m-7-1h8m-7 0h8m1 3h8m-5 2h8m6-5h8m23 6h8m-3 1h8m-445 3h8m-3 2h8m-6-2h8m-7 1h8m-4 0h8m-7 0h8m-5-1h8m-3 5h8m-7-2h8m-7 5h8m-8 0h8m-5 0h8m-7-4h8m-6-4h8m-8 6h8m-2 2h8m-7 1h8m-7-2h8m-7-4h8m-7 1h8m-2 0h8m-6 4h8m-8-7h8m-6 2h8m-7-3h8m-8 2h8m-6-1h8m-8 4h8m-5 0h8m-8 3h8m-6-3h8m-8-3h8m-7 2h8m-6 1h8m-8 1h8m-7-4h8m-8-1h8m-8 4h8m-8 4h8m-7-4h8m-8-1h8m-7-3h8m-8 3h8m-8-3h8m-8 8h8m-7 0h8m-8-7h8m-6 5h8m-7-4h8m-8-1h8m-6 2h8m-6 0h8m-7-1h8m-8-1h8m-7 0h8m-7 1h8m-8-1h8m-7 1h8m-8-2h8m-7 1h8m-5 6h8m-6 1h8m-8-3h8m-7 1h8m-7-4h8m-7 2h8m-6 4h8m-5-3h8m-7 0h8m-7 2h8m-8-4h8m7 2h8m1-6h8m7 7h8m-1-4h8m-7 0h8m-4 2h8m7 2h8m39-4h8m13 5h8m21-2h8m-7-4h8m9 7h8m-7 0h8m-7-2h8m-5 0h8m-5 1h8m-6-3h8m-8-1h8m-8-1h8m-7 6h8m-8 0h8m-8-3h8m-7-3h8m-7 1h8m-8 0h8m-8 2h8m-7-3h8m-7 6h8m-8-8h8m-7 5h8m-8-4h8m-7 6h8m-6 1h8m-6-8h8m-8 1h8m-8-2h8m-8 7h8m-7-1h8m-8-1h8m-7-5h8m-8 4h8m-7 2h8m-8 2h8m-7-2h8m-8 1h8m-8-7h8m-7 8h8m-6-2h8m-8-6h8m-7 0h8m-7 6h8m-8-3h8m-6 2h8m-7 2h8m-7-5h8m-8 7h8m-7-9h8m-7 4h8m-8-4h8m-8 2h8m-7-1h8m-7 7h8m-7-2h8m-7 2h8m-7 0h8m-7-4h8m-7-3h8m-7 1h8m-8 3h8m-6-1h8m-7 0h8m-7-1h8m-7 6h8m-7-3h8m-8-3h8m-7 1h8m-7-3h8m-7 7h8m-8 1h8m-8-7h8m-8 1h8m-5 3h8m-8 3h8m-5-8h8m-6 2h8m-8 1h8m-6-2h8m-8 1h8m-8 4h8m-6-1h8m-8 3h8m-8-6h8m-8 4h8m-7 1h8m-6-8h8m-8 3h8m-8 6h8m-7-8h8m-7 6h8m-7-7h8m-7 6h8m-7-2h8m-7 3h8m-7-7h8m-7 0h8m-8 2h8m-7 3h8m-8-3h8m-7 3h8m-8-4h8m-8 0h8m-6 3h8m8-2h8m-8 4h8m-7-5h8m-3 1h8m-7-1h8m-366 15h8m-3-6h8m-7 5h8m-8 2h8m-7-1h8m-7-4h8m-8 5h8m-7-3h8m-6-2h8m-8-1h8m-6 7h8m-7-3h8m-7 2h8m-8-1h8m-6-1h8m-6 0h8m-7-5h8m-7 5h8m-7-3h8m-8 1h8m-7 2h8m0-2h8m-7-3h8m-7 2h8m-7 2h8m-8-2h8m-7-1h8m-8 2h8m-7 5h8m-8-6h8m-7 2h8m-7 2h8m-7 3h8m-7-7h8m-8 0h8m-8 3h8m-8-3h8m-7-2h8m-8 3h8m-7 0h8m-8 5h8m-7-6h8m-8-2h8m-7 9h8m-8-1h8m-7 0h8m-5 1h8m-5-3h8m-6 2h8m-7-7h8m-6-1h8m-7 1h8m-7 8h8m-8-4h8m-8-2h8m-7-1h8m-8 0h8m-6 0h8m-8 0h8m-7 5h8m-8-4h8m-6 4h8m-7-1h8m-6-4h8m-7 4h8m-8-2h8m-7 4h8m-8-2h8m-7-6h8m-7 7h8m-7 2h8m-6-6h8m-8 6h8m-8-7h8m-7-2h8m-8 9h8m-7-5h8m-6 2h8m-8-1h8m-7 3h8m-6-8h8m-7 0h8m-8 3h8m-8 3h8m-8-1h8m-7-1h8m-7-2h8m-7-1h8m-8 6h8m-7-5h8m-8 0h8m-5 6h8m-8-5h8m-7 1h8m-6 3h8m-8-3h8m-8 5h8m-5-4h8m-7-1h8m-7 2h8m-6 2h8m-7 1h8m-8-4h8m-8 2h8m-7 1h8m-8 0h8m-7 1h8m13-7h8m-7 5h8m0 1h8m52-2h8m4-4h8m-6 0h8m-4 7h8m-4-9h8m-6 1h8m-6 4h8m1 4h8m-5 0h8m-7 0h8m-7-3h8m-7 2h8m-7 0h8m-6-1h8m-7-5h8m-7 4h8m-6 3h8m-8-3h8m-7 2h8m-4-2h8m-8 3h8m-7 0h8m-7-3h8m-7 0h8m-8 0h8m-8-4h8m-7 2h8m-8-1h8m-6 6h8m-7 0h8m-8 0h8m-8-3h8m-7 0h8m-8 0h8m-8-1h8m-8-2h8m-7 1h8m-8-1h8m-5 5h8m-6-7h8m-8 7h8m-7-6h8m-8 0h8m-7 3h8m-8-5h8m-6 1h8m-7 2h8m-8 6h8m-8-8h8m-6 1h8m-8 6h8m-6-7h8m-8 7h8m-7-2h8m-7-6h8m-8 8h8m-7-8h8m-6 0h8m-6 9h8m-7-1h8m-7-4h8m-7 0h8m-6-2h8m-7-2h8m-8 2h8m-8 5h8m-7-5h8m-7 4h8m-8-1h8m-7-4h8m-8-1h8m-8 9h8m-6-4h8m-7 2h8m-7-7h8m-7 4h8m-8 4h8m-7-7h8m-7 2h8m-8 4h8m-8 2h8m-8-6h8m-7 5h8m-8-8h8m-8 5h8m-7-4h8m-6 4h8m-6-2h8m-6-2h8m-8 3h8m-8-2h8m-7-2h8m-7 7h8m-8-5h8m-7 3h8m-8 0h8m-7-2h8m-8 4h8m-7 0h8m-8-1h8m-8-4h8m-5 3h8m-8-2h8m-6-2h8m-7 0h8m-8 4h8m-7-5h8m-7 9h8m-7-4h8m-7-1h8m-6 2h8m-7-5h8m-8-1h8m-7 1h8m-5 2h8m-8 0h8m-7-1h8m-8 1h8m-6 1h8m-8 0h8m-6-4h8m-5 1h8m-5 6h8m12-6h8m-341 14h8m-3-5h8m-5 8h8m-7-1h8m-8-2h8m-8 1h8m-8-6h8m-8 2h8m-8 5h8m-8-4h8m-8 6h8m-6-2h8m-7 2h8m-7-2h8m-8-6h8m-8 0h8m-6 1h8m-7-1h8m-4 8h8m-8 0h8m-5-3h8m-6-3h8m-8 4h8m-6-2h8m-8 4h8m-8-4h8m-7 4h8m-8-1h8m-8-5h8m-8 6h8m-8-5h8m-7 3h8m-8-3h8m-8 5h8m-6-3h8m-6-1h8m-7 3h8m-4 1h8m-8-6h8m-8 0h8m-7 1h8m-7 0h8m-8 1h8m-6 4h8m-8-6h8m-8 5h8m-7-4h8m-8-1h8m-5 6h8m-8-8h8m-8-1h8m-7 9h8m-7-1h8m-8 1h8m-7-4h8m-7-5h8m-7 2h8m-8 6h8m-7 1h8m-8-1h8m-7-8h8m-7 5h8m-8 4h8m-7-3h8m-8-3h8m-7 3h8m-6-4h8m-8 1h8m-5 3h8m-7-3h8m-6-3h8m-6 8h8m-8-8h8m-8 8h8m-8-5h8m-7 4h8m-8-1h8m-6-3h8m-8 6h8m-5-2h8m-8 0h8m-7 0h8m-8-5h8m-8-2h8m-8 4h8m-8 5h8m-7-4h8m-8 3h8m-8 1h8m-8-3h8m-8 1h8m-7-7h8m-8 5h8m-7 1h8m-6-3h8m-8 3h8m-7-1h8m-7-3h8m-8 1h8m-8 2h8m-8 4h8m-8-6h8m-8 6h8m-7-9h8m-8 4h8m-6-3h8m-8 2h8m-7 1h8m-7 4h8m-7-5h8m-7 6h8m-8 0h8m-7 0h8m-7-8h8m-7 4h8m-8-2h8m-6 2h8m-6 2h8m-8-3h8m-8 4h8m-7-1h8m-7 0h8m-8 2h8m-8-5h8m-8 5h8m-6-8h8m-8 8h8m-8-3h8m-8-2h8m-7 2h8m-8 3h8m-8-1h8m-8 0h8m-7 0h8m-6-5h8m-6 6h8m-8-7h8m-6 6h8m-5-4h8m-7 5h8m-7-9h8m-8 5h8m-4-4h8m-7 0h8m-7 8h8m-8-7h8m-8 2h8m44-4h8m5 9h8m-6-2h8m-7 2h8m-6-1h8m-7 1h8m-6 0h8m-8-3h8m-4 0h8m-7-2h8m-7 4h8m-7-4h8m-7 5h8m-6-4h8m-6 3h8m-8 0h8m-7-5h8m-8 0h8m-8 1h8m-8 3h8m-7 2h8m-7-4h8m-7-2h8m-8 5h8m-5 0h8m-8-4h8m-6 2h8m-8-1h8m-8 4h8m-8-7h8m-7 2h8m-7 3h8m-6-3h8m-7 5h8m-7-2h8m-8-4h8m-7-3h8m-8 4h8m-8 1h8m-7 3h8m-7-4h8m-7-1h8m-8-1h8m-7 5h8m-7-3h8m-7 2h8m-8-5h8m-5-1h8m-8 0h8m-8 8h8m-7-2h8m-8 3h8m-7-6h8m-7-1h8m-8 4h8m-7 1h8m-7-4h8m-8 5h8m-7-8h8m-7 4h8m-8-1h8m-7 0h8m-7 5h8m-8-1h8m-8-1h8m-7 2h8m-8 0h8m-8 1h8m-8-3h8m-7-4h8m-8 4h8m-6-6h8m-7 9h8m-5 0h8m-7-8h8m-8 8h8m-8-6h8m-5 0h8m-7 5h8m-8 0h8m-7 0h8m-8-6h8m-6-1h8m-8 3h8m-7 5h8m-7-1h8m-7-5h8m-4-1h8m-7 4h8m-7-3h8m-8-1h8m-7-2h8m-6 9h8m-6 0h8m-8-2h8m-7 2h8m-7-7h8m-8 2h8m-8-2h8m-7 2h8m-7-4h8m-7 6h8m-7 2h8m-8-4h8m-6-3h8m-7-1h8m-8 4h8m-8-4h8m-7 3h8m-8 6h8m-6-2h8m-5-3h8m-8 0h8m-6-2h8m-8-1h8m-7 3h8m-6-4h8m-7 1h8m-5 1h8m-1-2h8m-6 0h8m24 7h8m175-5h8m-511 9h8m-8-1h8m0 6h8m-7-4h8m-6 1h8m-6-3h8m-8 2h8m-6 1h8m-7 6h8m-7-3h8m-7-2h8m-8-4h8m-7 8h8m-8-2h8m-8-1h8m-5-1h8m-7-4h8m-7 5h8m-7 4h8m-8-2h8m-7-3h8m-8 3h8m-7-2h8m-5 1h8m-7-3h8m-8 2h8m-8 3h8m-7 1h8m-5-4h8m-7-4h8m-6 6h8m-8 1h8m-8-7h8m-5 6h8m-8 0h8m-8-1h8m-7-5h8m-8 3h8m-8 5h8m-7-4h8m-6 1h8m-7-2h8m-8 0h8m-7-2h8m-7 7h8m-8-6h8m-8 2h8m-7 1h8m-8 2h8m-8-2h8m-7 0h8m-6 2h8m-7 0h8m-8-6h8m-8 0h8m-7 2h8m-8 1h8m-8 3h8m-7-6h8m-7 1h8m-7-1h8m-8 6h8m-8-7h8m-7 1h8m-8-2h8m-8 8h8m-8-1h8m-7 1h8m-7-5h8m-8 3h8m-7-6h8m-5 0h8m-8 0h8m-8 1h8m-7 5h8m-8-4h8m-7 3h8m-7-2h8m-8 5h8m-7-1h8m-8-6h8m-8 5h8m-6-5h8m-7 6h8m-7-2h8m-8-1h8m-7 3h8m-8 2h8m-8-6h8m-6-2h8m-8 0h8m-6 2h8m-7-1h8m-7 4h8m-8-1h8m-7 4h8m-5-4h8m-8 3h8m-8-6h8m-7 4h8m-8 0h8m-7 3h8m-8-7h8m-8-1h8m-8-1h8m-7 1h8m-8 8h8m-7-4h8m-8 1h8m-7-5h8m-8 6h8m-8 1h8m-8-3h8m-8 1h8m-7 1h8m-8-4h8m-7 3h8m-8-6h8m-8 2h8m-7 2h8m-8 2h8m-8-5h8m-8 4h8m-8-2h8m-8 5h8m-7-6h8m-8 5h8m-7 1h8m-8 1h8m-8-5h8m-8-2h8m-7 1h8m-8-3h8m-8 3h8m-7 3h8m-8-4h8m-8 6h8m-8 1h8m-8-4h8m-8-2h8m-7 0h8m-7-1h8m-8 5h8m-7-3h8m-8 4h8m-8-4h8m-8 2h8m-8-3h8m-6 5h8m-7-1h8m-8-2h8m-8 1h8m-8-4h8m-7 4h8m-8 1h8m-8-6h8m-8 4h8m-8 0h8m-7 3h8m-8-4h8m-6-3h8m-8 2h8m-8 0h8m-7 0h8m-7 5h8m-8-3h8m-8-1h8m-7 0h8m-7 5h8m-7-6h8m-8 1h8m-7 0h8m-5 1h8m23 0h8m-4 3h8m-3-2h8m-7 0h8m-8 0h8m-7 0h8m-4-2h8m-8 0h8m-8-2h8m-8-1h8m-7 4h8m-7 3h8m-7-5h8m-5-3h8m-8 1h8m-8 3h8m-8 0h8m-7-4h8m-7 1h8m-8 5h8m-7-5h8m-7 6h8m-7 0h8m-7-4h8m-7 2h8m-8 3h8m-8-1h8m-8 1h8m-8-1h8m-7 2h8m-8-4h8m-7 4h8m-8-7h8m-8 1h8m-7 6h8m-8-4h8m-8 3h8m-7-4h8m-8 3h8m-6-2h8m-8-2h8m-7 2h8m-7-1h8m-7 4h8m-7-7h8m-7 7h8m-6 0h8m-8-2h8m-7-1h8m-6-5h8m-5 3h8m-8-1h8m-8 5h8m-7 0h8m-8-6h8m-6-1h8m-7 4h8m-6 0h8m-8 1h8m-7-5h8m-8 2h8m-7-2h8m-7 3h8m-7 1h8m-8-4h8m-7 8h8m-8-4h8m-6 1h8m-7-3h8m-8 4h8m-8-4h8m-7 0h8m-7 0h8m-7 2h8m-8 5h8m-8-7h8m-6 5h8m-7-5h8m-8-1h8m-8 4h8m-6 4h8m-8-3h8m-7 1h8m-8-6h8m-6 1h8m-7-1h8m-6 5h8m-8 2h8m-6-6h8m-8 6h8m-7-7h8m-8 2h8m-8 6h8m-8-8h8m-8-1h8m-7 1h8m-7 4h8m-7-1h8m-8 2h8m-7-6h8m-7 7h8m-7 1h8m-8-4h8m-8-2h8m-7 7h8m-7-1h8m-8-6h8m-7 7h8m-7 0h8m-8-4h8m-7-1h8m-8 1h8m-7 0h8m-7-2h8m-8 6h8m-7-1h8m-8-8h8m-6 6h8m-7-5h8m-7 2h8m-8 0h8m-6-1h8m-8 2h8m-7-2h8m-8 3h8m-8 2h8m-7 1h8m-8-8h8m-8 6h8m-7 1h8m-7-1h8m-8 2h8m-7 0h8m-7-5h8m-8-1h8m-8 0h8m-7-2h8m-8 3h8m-7 3h8m-8-4h8m-5 1h8m-8 5h8m-7-4h8m-7-4h8m-7 2h8m-7 7h8m-7-9h8m-7 2h8m-7 0h8m11-1h8m8 3h8m-8-1h8m-275 7h8m-8 5h8m-5 1h8m-8-5h8m-7-1h8m-7 3h8m-8 3h8m-7 0h8m-7-1h8m-8 2h8m-6-4h8m-8 3h8m-8-2h8m-6-1h8m-8 5h8m-7-6h8m-8-2h8m-8 2h8m-7 6h8m-8 0h8m-7 1h8m-7-7h8m-8 7h8m-7-7h8m-8 0h8m-7 1h8m-7 4h8m-6 2h8m-8-5h8m-7 1h8m-8-3h8m-7 1h8m-7-2h8m-8 8h8m-8-9h8m-8 4h8m-7 4h8m-8-3h8m-7 3h8m-8 1h8m-7-7h8m-8 1h8m-8 3h8m-7 3h8m-8-9h8m-7 2h8m-8 2h8m-8-1h8m-7-2h8m-7 5h8m-7 0h8m-8 2h8m-8 1h8m-7-7h8m-6 6h8m-7-8h8m-7 8h8m-5-3h8m-8 3h8m-6-1h8m-7-2h8m-7 3h8m-8-6h8m-8 2h8m-8-4h8m-7 0h8m-8 4h8m-7 2h8m-8 1h8m-8 2h8m-8-3h8m-8 1h8m-8-2h8m-8-3h8m-7-2h8m-8 7h8m-8-1h8m-7 1h8m-8-3h8m-8 1h8m-8 1h8m-7-1h8m-6 4h8m-8-8h8m-7-1h8m-8 5h8m-7-2h8m-7 6h8m-8-6h8m-7 4h8m-6 0h8m-8-2h8m-7 4h8m-8-2h8m-8-5h8m-7 3h8m-8 3h8m-8-7h8m-8 3h8m-7 1h8m-8-5h8m-7 7h8m-7-3h8m-8 2h8m-7-1h8m-8-1h8m-8-3h8m-6 6h8m-8 1h8m-8-2h8m-8-2h8m-8 4h8m-7-8h8m-8 4h8m-8-2h8m-7-2h8m-8 7h8m-8 2h8m-7-2h8m-8-2h8m-8 2h8m-8-7h8m-8 2h8m-8 2h8m-7-1h8m-8 3h8m-8 1h8m-8 0h8m-8-4h8m-8 4h8m-7-6h8m-8-1h8m-8 7h8m-8 0h8m-7-2h8m-8 3h8m-8 0h8m-7-6h8m-8-2h8m-7 4h8m-8-1h8m-8 6h8m-7-8h8m-8 3h8m-8-1h8m-8 5h8m-7-1h8m-8-4h8m-8 5h8m-7-3h8m-8 4h8m-8-7h8m-8 2h8m-6 1h8m-8 3h8m-8-7h8m-7 2h8m-8-1h8m-8 0h8m-7 3h8m-8-5h8m-8 4h8m-8-2h8m-8 0h8m-8 0h8m-7 6h8m-7-1h8m-7-5h8m-8 5h8m-7-3h8m-8 0h8m-6 3h8m-7 2h8m5-7h8m-8 2h8m5 0h8m-8 3h8m-8 0h8m-7 0h8m-8 2h8m-8-7h8m-7-2h8m-7 1h8m-8 1h8m-7 0h8m-6 7h8m-8-4h8m-6-3h8m-8-2h8m-8 8h8m-8-2h8m-8 2h8m-8 0h8m-7-6h8m-7 1h8m-7 3h8m-8-5h8m-8 4h8m-7 2h8m-8-4h8m-6 5h8m-8-2h8m-6-2h8m-8 5h8m-7-7h8m-6-2h8m-7 8h8m-7-5h8m-6-1h8m-7 1h8m-8 4h8m-8 0h8m-7-2h8m-8 2h8m-7-4h8m-6 6h8m-7-4h8m-8 3h8m-8-5h8m-7 1h8m-7 5h8m-8-4h8m-7 1h8m-8-5h8m-8 0h8m-8 2h8m-7 3h8m-8-1h8m-6-2h8m-7 2h8m-8 3h8m-7-4h8m-6-4h8m-8 0h8m-8 2h8m-8 3h8m-7-5h8m-7 4h8m-8 2h8m-8 2h8m-8 0h8m-7 1h8m-8 0h8m-7 0h8m-8 0h8m-7-9h8m-8 1h8m-7 3h8m-8 4h8m-6 1h8m-8-2h8m-7-6h8m-7 6h8m-6-3h8m-7 2h8m-6-5h8m-6 0h8m-8 3h8m-7-4h8m-8 3h8m-8 1h8m-7-1h8m-8 1h8m-7 2h8m-8-3h8m-8 2h8m-8 3h8m-7-7h8m-7 3h8m-8-2h8m-7-1h8m-7 5h8m-7-3h8m-8-2h8m-6 1h8m-7-2h8m-8 0h8m-8 8h8m-7-2h8m-7-3h8m-8-1h8m-7 1h8m-7 1h8m-8 5h8m-7 0h8m-7-4h8m-8 1h8m-8-3h8m-7-2h8m-8 4h8m-7 2h8m-8 2h8m-7-9h8m-6 3h8m-8 2h8m-7 0h8m-8 3h8m-7-7h8m-8 6h8m-8-4h8m-8-2h8m-8 1h8m-8 2h8m-7-1h8m-8 6h8m-7-7h8m-8 3h8m-7-5h8m-8 1h8m-8 4h8m-7-2h8m-7-2h8m-7 4h8m-7 2h8m-8-6h8m-8 3h8m-8-1h8m-7 3h8m-8-4h8m-7 2h8m-7-3h8m-8 2h8m-8 3h8m-7-3h8m-7-3h8m-8 9h8m-7-7h8m-8 7h8m-7-4h8m-8-1h8m-8-2h8m-7 1h8m-7 2h8m-2-4h8m-8 2h8m-8-1h8m-7 6h8m-7-8h8m-7 6h8m-8 2h8m-5-6h8m1 0h8m6 5h8m5 1h8m45 0h8m-301 3h8m-7 0h8m-8 0h8m-6 1h8m-7 1h8m-7-1h8m-8 2h8m-8 0h8m-8-4h8m-7 1h8m-8-1h8m-8 1h8m-8 3h8m-6-4h8m-7 4h8m-8-2h8m-7-2h8m-6 1h8m-8 3h8m-6-4h8m-7 4h8m-8 3h8m-5-7h8m-8 2h8m-7 2h8m-8 4h8m-7-2h8m-8 1h8m-8-3h8m-7-3h8m-7 6h8m-8 2h8m-7-1h8m-8-8h8m-7 5h8m-8-5h8m-8 6h8m-6 3h8m-7-6h8m-8 0h8m-8 0h8m-7 4h8m-8 1h8m-8-5h8m-8 1h8m-8 5h8m-7-6h8m-8 3h8m-8-6h8m-7 9h8m-8 0h8m-7-7h8m-8 7h8m-7-7h8m-8 5h8m-7 2h8m-7-8h8m-8 7h8m-7 1h8m-8-7h8m-8 5h8m-7 0h8m-7-2h8m-8 1h8m-8-1h8m-8-4h8m-7 7h8m-8-5h8m-8 4h8m-6-2h8m-8-5h8m-7 4h8m-8 5h8m-8-8h8m-8 5h8m-7-3h8m-8-2h8m-8 7h8m-7-7h8m-8 6h8m-8-3h8m-8 5h8m-7-1h8m-7-6h8m-8-1h8m-8 7h8m-6-1h8m-7-1h8m-7 1h8m-8 1h8m-7-7h8m-8 4h8m-8 4h8m-8 0h8m-6-8h8m-8 5h8m-6-2h8m-8 2h8m-7-3h8m-8 1h8m-8-4h8m-7 3h8m-8 6h8m-8-9h8m-7 0h8m-8 7h8m-8-3h8m-8 5h8m-7 0h8m-7-7h8m-7 2h8m-7 2h8m-8-5h8m-7 5h8m-7 3h8m-8 0h8m-7-9h8m-8 2h8m-8 5h8m-8-2h8m-8-2h8m-8-1h8m-7 4h8m-8-3h8m-8 1h8m-8 4h8m-8 1h8m-7-5h8m-8-3h8m-8 8h8m-8-5h8m-5 2h8m-8-5h8m-8 2h8m-7 6h8m-8-6h8m-8 0h8m-7 2h8m-8 4h8m-8-4h8m-8-4h8m-8-1h8m-7 7h8m-8-4h8m-8 0h8m-8 1h8m-7 4h8m-8-2h8m6 0h8m-4 1h8m-7 1h8m-8-3h8m-7-4h8m-8 3h8m-7-3h8m-8 8h8m-7-3h8m-8 2h8m-7-5h8m-8-3h8m-7 4h8m-8-4h8m-6 6h8m-8-3h8m-7-1h8m-7 0h8m-8 3h8m-7 4h8m-8-4h8m-7 1h8m-7 2h8m-8-4h8m-8 1h8m-7 2h8m-8-7h8m-8 4h8m-8 1h8m-8-2h8m-6 3h8m-8 3h8m-8-2h8m-7-1h8m-8 0h8m-7 3h8m-8-9h8m-7 4h8m-8 4h8m-6-3h8m-8 3h8m-7 0h8m-7-1h8m-8-6h8m-7 1h8m-8 6h8m-8-8h8m-8 9h8m-5-7h8m-7 5h8m-8 2h8m-7-7h8m-8-2h8m-8 9h8m-8-1h8m-8-1h8m-7 2h8m-7-9h8m-8 6h8m-7 1h8m-7-3h8m-8 0h8m-7 0h8m-8-2h8m-7 6h8m-8-4h8m-8-4h8m-8 7h8m-8-2h8m-7-2h8m-8-2h8m-8-1h8m-8 2h8m-7 1h8m-7 3h8m-8 3h8m-8-4h8m-7 1h8m-8-5h8m-8 5h8m-8 3h8m-8-3h8m-7 3h8m-8-2h8m-8-2h8m-8 2h8m-7-6h8m-7 0h8m-7-1h8m-8 8h8m-7 1h8m-8-8h8m-7-1h8m-7 6h8m-8-2h8m-7-2h8m-7 7h8m-7-6h8m-8 2h8m-8-2h8m-7 3h8m-8 1h8m-7 2h8m-8-5h8m-8-1h8m-7-2h8m-7 7h8m-8 0h8m-8-2h8m-6-2h8m-7-4h8m-6 2h8m-8-2h8m-7 2h8m-8 1h8m-8 4h8m-8 0h8m-7-6h8m-8 5h8m-8-2h8m-7 0h8m-8 5h8m-7-5h8m-7 0h8m-7 0h8m-7-2h8m-7 1h8m-8 3h8m-6 1h8m-8-2h8m-5-1h8m-8-2h8m-7 1h8m-8-2h8m-8 3h8m-6 0h8m-7-4h8m-8 1h8m-7 3h8m-7-3h8m-3 0h8m-8 0h8m-8 0h8m22-1h8m-1 7h8m26-3h8m155 4h8m-395 2h8m-5 1h8m-5 0h8m-7 2h8m-7-1h8m-8-1h8m-6 2h8m-7 1h8m-8-4h8m-7 4h8m-7 1h8m-8-2h8m-7 0h8m-7 2h8m-8-3h8m-7 4h8m-8-1h8m-8 1h8m-7-4h8m-8 3h8m-8-4h8m-7 1h8m-8-2h8m-7 1h8m-8 4h8m-8-3h8m-8 4h8m-7-3h8m-8 3h8m-7 2h8m-8-7h8m-8 2h8m-7-3h8m-6 3h8m-8 5h8m-8 0h8m-7-6h8m-8 1h8m-7 6h8m-7-2h8m-8 0h8m-8 0h8m-7 2h8m-8-3h8m-8-6h8m-8 0h8m-8 9h8m-7 0h8m-8-5h8m-8-4h8m-7 0h8m-8 0h8m-8 2h8m-7-1h8m-8 6h8m-8-5h8m-7-2h8m-8 0h8m-7 4h8m-8 2h8m-8-6h8m-8 0h8m-8 4h8m-8 1h8m-7-2h8m-8-1h8m-8 6h8m-8-1h8m-8-4h8m-7 1h8m-8-2h8m-7-1h8m-8-1h8m-8 0h8m-8 3h8m-7 4h8m-8-5h8m-8-1h8m-8 3h8m-7 4h8m-7-1h8m-8-4h8m-8 6h8m-8-6h8m-8 5h8m-7-2h8m-8 1h8m-8-7h8m-7 0h8m-8 5h8m-8-2h8m-7 1h8m-8 4h8m-7-8h8m-7 0h8m-8 8h8m-7-7h8m-7 3h8m-7 4h8m-7-1h8m-8 2h8m-8-2h8m-8-2h8m-7 4h8m-8-6h8m-7 6h8m-8-3h8m-8 3h8m-8-8h8m-7 1h8m-8 1h8m-7 4h8m-8-2h8m-8 0h8m-6 3h8m-8-5h8m-8-3h8m-8 1h8m-7 4h8m-8 1h8m-8-6h8m-7 6h8m-8 0h8m-8-1h8m-8 0h8m-7 4h8m-8-2h8m-8 2h8m-8-3h8m-5 3h8m-1 0h8m-7-4h8m-8 0h8m-7-3h8m-8 0h8m-8-1h8m-8 6h8m-8-1h8m-8-2h8m-7-3h8m-8-1h8m-8 2h8m-8 3h8m-8 1h8m-7-2h8m-8 3h8m-8-5h8m-7 7h8m-8-9h8m-8 6h8m-8 2h8m-7-5h8m-8-1h8m-8 6h8m-7-4h8m-8 3h8m-7-5h8m-8 7h8m-8-5h8m-8-2h8m-7 3h8m-8-3h8m-7 3h8m-8 4h8m-7-6h8m-8 1h8m-7-3h8m-8 4h8m-7-3h8m-7 2h8m-7 2h8m-7 2h8m-7-1h8m-7-2h8m-7-1h8m-8-3h8m-7 7h8m-7-5h8m-8-1h8m-7 4h8m-8-4h8m-7 6h8m-8-1h8m-8-1h8m-6-6h8m-8 8h8m-7-1h8m-8-2h8m-7-4h8m-8 0h8m-7-1h8m-8 1h8m-8 6h8m-7 2h8m-8-3h8m-8-1h8m-8 0h8m-7 2h8m-8 2h8m-7-1h8m-8-8h8m-8 6h8m-7 3h8m-8-8h8m-7 2h8m-8 0h8m-7-1h8m-8 2h8m-8-4h8m-8 0h8m-8 3h8m-7 1h8m-8 2h8m-8 2h8m-8-8h8m-7 9h8m-8-3h8m-7-1h8m-8-3h8m-7 5h8m-8-5h8m-7 4h8m-8-2h8m-7 0h8m-8 2h8m-6-2h8m-7 0h8m-8-4h8m-7 4h8m-7 3h8m-7-2h8m-8 0h8m-6-1h8m-6-4h8m-8 2h8m-7 0h8m-8-1h8m-8 1h8m-7 2h8m-6-1h8m-7-1h8m-5 0h8m-7 0h8m-6 6h8m-4 0h8m-2-6h8m-6-2h8m-4 0h8m-5 3h8m2-2h8m-8 5h8m-6-5h8m-7 7h8m-7-8h8m3 4h8m14 3h8m-174 3h8m-6 0h8m-7 1h8m-7 1h8m-5 1h8m-7 0h8m-7 0h8m-8-2h8m-8 0h8m-7 1h8m-8 2h8m-7-2h8m-8 3h8m-8-2h8m-8 2h8m-8-4h8m-7 1h8m-8 2h8m-8-2h8m-6 0h8m-8 1h8m-8 1h8m-7 1h8m-8 0h8m-7-1h8m-7-1h8m-8-3h8m-8 7h8m-8-4h8m-8 3h8m-7 1h8m-8-5h8m-8 5h8m-7-7h8m-7 7h8m-8-4h8m-8 4h8m-8-3h8m-7 3h8m-8 0h8m-7 2h8m-8 0h8m-8-8h8m-7 7h8m-8 0h8m-8-3h8m-8-1h8m-7 0h8m-8 4h8m-8-2h8m-7 2h8m-8-1h8m-8-3h8m-7 4h8m-8-8h8m-8 9h8m-7-9h8m-7 4h8m-8-4h8m-8 7h8m-7 1h8m-8-8h8m-8 4h8m-8 5h8m-7 0h8m-8 0h8m-8-9h8m-7 6h8m-8-1h8m-8-2h8m-8 2h8m-7 2h8m-8 1h8m-7 0h8m-8 0h8m-6-1h8m-7 0h8m-8 2h8m-6-7h8m-7-1h8m-7 7h8m-8 1h8m-8-9h8m-7 3h8m-8 0h8m-8 4h8m-7-2h8m-8 4h8m-7-1h8m-8 0h8m-8 0h8m-7 0h8m-8-2h8m-8-2h8m-8 1h8m-7-1h8m-8 4h8m-8-6h8m-7-2h8m-7 2h8m-8 0h8m-8 2h8m-6-3h8m-8 3h8m-8-4h8m-7 8h8m-7-3h8m-8-1h8m-7 4h8m-8-6h8m-7 5h8m-7-4h8m-8 4h8m-7-4h8m-8-1h8m-8-2h8m-7 0h8m-4 1h8m-7 2h8m-7 0h8m-7-3h8m-7 3h8m-8 0h8m-7-2h8m-8 4h8m-7-3h8m-4 1h8m-7-2h8m-8 3h8m-8-3h8m9-1h8m-7 3h8m-1 4h8m-7-1h8m-2 2h8m13-1h8m46 2h8m-157 1h8m-7 0h8m-7 2h8m-7 0h8m-6-1h8m-8 1h8m-7 0h8m-8 1h8m-8 1h8m-7 0h8m-7-4h8m-8 2h8m-6-1h8m-7 7h8m-7-8h8m-7 0h8m-8 5h8m-6-5h8m-8 1h8m-8 4h8m-8-3h8m1 6h8m-3-4h8m-7 2h8m-2-6h8m-7 3h8m-7 0h8m-3-3h8m7 0h8m9 2h8m18 3h8m83 4h8m-185 5h8m-5 0h8m-8 1h8m8-1h8m25 3h8m43-6h8m25 5h8m75-2h8m-216 8h8m4-1h8m2 7h8m6-6h8m-1 1h8m118 5h8m39-3h8" stroke="#000" stroke-width="8" stroke-opacity="1" fill="none"/>
<path transform="scale(.1)" d="M4266 1792h8m197 52h8m-32 6h8m-4 3h8m9 0h8m-5-1h8m2 5h8m-7 0h8m-5-4h8m11-1h8m-69 11h8m29 1h8m1 3h8m-4-2h8m2 1h8m-6-4h8m-122 12h8m51 0h8m-1-4h8m25 1h8m-6 2h8m-4-2h8m-4 2h8m-6-1h8m-163 11h8m89 4h8m7-3h8m6-4h8m8 9h8m-5-1h8m-323 9h8m32-7h8m139 4h8m2 5h8m89-3h8m3-5h8m-4 3h8m8-4h8m-84 19h8m7-7h8m-6 7h8m5 0h8m-5-7h8m5-1h8m-4 5h8m11-6h8m-7 2h8m-7 1h8m-308 7h8m237 5h8m-5 2h8m15 2h8m-8-7h8m4 5h8m-4 2h8m1-8h8m-5 4h8m-370 6h8m96 2h8m213 5h8m-2-5h8m-7-1h8m20 5h8m-7 2h8m-7-4h8m-236 7h8m91 4h8m2 0h8m26 0h8m35 2h8m-4 0h8m19-5h8m-5 2h8m-5-1h8m-205 6h8m160 9h8m19-4h8m-98 7h8m28 3h8m-8 1h8m-3-1h8m21-1h8m7-3h8m-7 4h8m-4-3h8m-121 13h8m56 0h8m-6-1h8m-2 4h8m16-4h8m0 3h8m-1 0h8m-7-6h8m-272 15h8m33-1h8m32 4h8m60 0h8m17-3h8m35-2h8m-4 4h8m22-3h8m-7 4h8m-2-7h8m-8 5h8m-60 12h8m-2-1h8m33-4h8m-257 12h8m178-1h8m-5-4h8m-5 4h8m-7 0h8m8 3h8m-8-6h8m-8 4h8m-2-1h8m-3 2h8m-8-4h8m-1 2h8m3 0h8m-8 3h8m2 0h8m-6-6h8m-8 2h8m-7 2h8m-376 13h8m121-9h8m-1 2h8m126 4h8m-4-6h8m29 2h8m0 7h8m-4-7h8m-6-1h8m4 7h8m13-4h8m-6 3h8m-4-7h8m-398 14h8m-4-3h8m128 6h8m40-5h8m-1 0h8m1-1h8m-2 1h8m-4 1h8m103 1h8m2 0h8m0-2h8m-3 2h8m15 2h8m-6 3h8m-260 4h8m181-1h8m5-1h8m-7 0h8m-6 1h8m-3 0h8m7-2h8m-4 1h8m3 6h8m-8-2h8m-2-2h8m2-2h8m-5-1h8m-1 5h8m-8 1h8m-346 7h8m27-3h8m93 8h8m36-3h8m-1 2h8m78-1h8m-1-4h8m-3 5h8m-2-7h8m-5 6h8m-2 0h8m-8-2h8m-8 3h8m9-7h8m-4 0h8m-3 7h8m-4-5h8m-343 17h8m19-7h8m56 4h8m0-4h8m-1-1h8m-7 2h8m22 5h8m52-8h8m17 5h8m1 0h8m35-4h8m-8 0h8m-2-1h8m-4 8h8m-5-8h8m3 1h8m-3 2h8m-3 5h8m-2-6h8m-3-1h8m-8 4h8m11-2h8m-8-1h8m-365 16h8m21-7h8m25 8h8m74-7h8m8 5h8m-6-7h8m1 0h8m21 1h8m-1 2h8m6 6h8m10-1h8m-6-5h8m14-2h8m25 5h8m-7 1h8m-5 2h8m-4-7h8m-4-1h8m-7 3h8m0 4h8m-3-1h8m-8 0h8m8-1h8m2-1h8m-7 0h8m-4-5h8m-394 17h8m22-1h8m-7-2h8m67 4h8m-7-8h8m39 9h8m50-2h8m13-5h8m9-1h8m-2 8h8m18-2h8m-8-2h8m45 2h8m3 0h8m6-2h8m-6 4h8m0 0h8m-8-3h8m-1 2h8m-3-5h8m-743 11h8m-8-3h8m-5 6h8m-7-1h8m-6 3h8m101-8h8m242 7h8m62 1h8m38-5h8m8 0h8m13 1h8m47 2h8m2 2h8m-3-1h8m15-5h8m36 0h8m17 2h8m-5-5h8m2 1h8m-7 4h8m-3-1h8m-7-4h8m-3 5h8m-6 2h8m-4-3h8m10 0h8m-4-2h8m-724 9h8m-5 4h8m-3 0h8m78 1h8m225-1h8m69 4h8m82-9h8m-5 0h8m35 7h8m21-3h8m13 2h8m-5-2h8m24 0h8m6-2h8m-7 3h8m-5 4h8m-7-4h8m-2 4h8m9-4h8m-4 1h8m-8-3h8m10-2h8m-4 7h8m-2 0h8m-7 0h8m2-4h8m-699 8h8m-6 2h8m-4-3h8m-4 7h8m-7-2h8m12-2h8m194-3h8m100-1h8m25 7h8m-6-5h8m16 6h8m-7-2h8m24-6h8m-5 1h8m4 5h8m24 3h8m-1-7h8m-2 4h8m31-3h8m6 4h8m2 0h8m9-3h8m7 1h8m14 3h8m-2-2h8m-5 0h8m-3-1h8m-5 1h8m-3-1h8m1-2h8m-7 2h8m-7 3h8m8-5h8m-8 4h8m2-3h8m-2 1h8m-7-5h8m-6 8h8m-5-3h8m-7-1h8m-6 2h8m-6 0h8m-7-1h8m-677 5h8m-6 3h8m-6-3h8m-5 3h8m-4 3h8m-6-6h8m-6 8h8m-7-3h8m-6 3h8m-7-2h8m141-4h8m186 4h8m-6 2h8m-6-4h8m8 5h8m-5-6h8m-7 0h8m5-1h8m14-1h8m-6 3h8m-3 5h8m129-5h8m0-1h8m5 5h8m-5 1h8m-6-6h8m-5 4h8m-3-1h8m-8-1h8m-6 4h8m-7-4h8m-7 4h8m-8-3h8m0 0h8m-8-3h8m5-2h8m2-1h8m5 1h8m-4 6h8m-4-1h8m-8-3h8m-635 10h8m-7-1h8m-3 4h8m-4 1h8m-4-1h8m-7 1h8m150 2h8m-7-1h8m57-2h8m81-6h8m17 9h8m-4-4h8m12-3h8m28-1h8m13 3h8m3 5h8m-2-9h8m30 6h8m-4 0h8m-3-6h8m36 6h8m-6 1h8m0 0h8m5-2h8m-4 4h8m-6-8h8m-7 8h8m-5-8h8m-4 1h8m-7 1h8m-8 6h8m-6-2h8m-4-5h8m-7 7h8m-8-5h8m-6-1h8m-8-3h8m-8 7h8m-7 2h8m-4-3h8m-6 0h8m0-4h8m6 7h8m-1-4h8m-8-1h8m-7 1h8m-5 0h8m-613 8h8m-1-1h8m-7 3h8m-6-2h8m5 5h8m-7 0h8m-6 0h8m-5-3h8m93 2h8m-8 0h8m23 2h8m16-7h8m104 3h8m1 0h8m-7-2h8m16-2h8m-4 1h8m1 4h8m-8 3h8m8-2h8m3-4h8m34 1h8m23 3h8m0-4h8m-5-1h8m13 7h8m4-1h8m-7 1h8m-5-3h8m-6-1h8m1-4h8m-8 3h8m-3-3h8m-7 2h8m-8-2h8m-6-1h8m-7 3h8m-8 3h8m-4 1h8m-7-5h8m-8 7h8m-7-6h8m-8 5h8m-4-7h8m-7 2h8m-8 2h8m-8-1h8m-8-2h8m-7 0h8m-7-1h8m5 6h8m-3-5h8m-6 4h8m-7-3h8m-8 0h8m-7 5h8m-6-3h8m-8 1h8m-3-2h8m-5-2h8m-6 5h8m-7 2h8m4-5h8m-7-4h8m-3 9h8m2-7h8m0 6h8m-577 4h8m-2 2h8m-5-2h8m-7 0h8m-6 3h8m-7-2h8m-5 6h8m-7-6h8m-5 3h8m-6 3h8m-6-7h8m-8 3h8m-6 3h8m-5-5h8m88 5h8m13-7h8m5 2h8m-2 6h8m-1-1h8m130-3h8m-4-4h8m-3 7h8m16-7h8m12 8h8m-3-1h8m9-7h8m-1 6h8m14-4h8m-7 5h8m-4 0h8m-7-1h8m-5-2h8m0-2h8m-7 3h8m2 3h8m-6-1h8m-8-1h8m-5-4h8m-6-1h8m-7-1h8m-8 5h8m-5-1h8m-7-2h8m-2 3h8m-6-3h8m-2 4h8m1-5h8m-7 2h8m-7 3h8m-5-7h8m-6 3h8m-7 2h8m-7 3h8m-5-8h8m-6 1h8m-6 8h8m-8-6h8m-8-1h8m-3 4h8m-7 0h8m-7 2h8m-3-2h8m3-5h8m-1 7h8m-7 1h8m-7 0h8m-6-8h8m-6 6h8m-7 1h8m-7-7h8m-8 2h8m-7-2h8m-7 0h8m-7 0h8m1 2h8m-7 5h8m-7 0h8m-5 1h8m-2-2h8m-7-1h8m-7-4h8m0 4h8m-8 0h8m-539 6h8m-8-2h8m3 8h8m-7 0h8m-8 0h8m-8 1h8m73-7h8m-5-2h8m8 2h8m-6 6h8m-5-4h8m20 3h8m51-5h8m22-1h8m-1 3h8m7-3h8m0 7h8m-3-3h8m-8 0h8m-3 2h8m10-2h8m-3-1h8m-4 5h8m-6-1h8m-8 1h8m6-6h8m-6-1h8m-8-2h8m-7 9h8m-6-1h8m-7-4h8m-5 3h8m-6-1h8m2 0h8m-5-5h8m-7 4h8m-6 3h8m0-6h8m-7 1h8m-7-1h8m-6 1h8m-7-3h8m-8 9h8m-6-7h8m-6 1h8m-6 4h8m-8 0h8m-7-3h8m-8-2h8m-8 5h8m-6-3h8m-7 2h8m-5-3h8m-6-2h8m-4 0h8m-8 2h8m-6 3h8m-8-2h8m-5 2h8m-7 0h8m-7-3h8m-7-1h8m-1 3h8m-6 0h8m-7-5h8m-7 7h8m-5 1h8m-8-8h8m-7 1h8m-7 4h8m-2 3h8m-6 0h8m-7-4h8m1 4h8m-8-7h8m-7-1h8m-6 0h8m-2 0h8m-6 3h8m-7 4h8m-2 2h8m-6-9h8m-6 4h8m-6-1h8m-7 3h8m-6-2h8m-3-3h8m-7 0h8m-8 3h8m-6-4h8m-6 6h8m-8-6h8m-7 6h8m-7-6h8m-7 5h8m-7-3h8m-6 2h8m-6-2h8m-7 6h8m-7-1h8m-7-6h8m-5 7h8m-7 0h8m-5 0h8m-6-6h8m0 5h8m-7 0h8m0-5h8m-6 5h8m1 2h8m-5-8h8m-2 6h8m-8-4h8m-7 2h8m-8 3h8m-7-8h8m-3 3h8m-513 7h8m-6 2h8m-4 2h8m-6 0h8m-7-4h8m-7 4h8m4 4h8m-8 0h8m-8-1h8m8-1h8m20-3h8m-7-2h8m1-1h8m-3 9h8m22-6h8m-1 4h8m5-6h8m-8 1h8m-3 2h8m-7 2h8m68 3h8m-8 0h8m1 0h8m-8-1h8m0 1h8m-8-1h8m-4-1h8m1-1h8m-7-1h8m-7 2h8m-7 0h8m-8 1h8m-1-2h8m-7 1h8m-8-1h8m-7 1h8m-8 1h8m-8-1h8m-7 0h8m-6-1h8m-8-3h8m-8 1h8m-4 4h8m-8-1h8m-8 2h8m-6-4h8m-3 2h8m-7-4h8m-6 4h8m-7-5h8m-7 7h8m-7-3h8m-8 0h8m-8-2h8m-8 3h8m-7-5h8m-4 1h8m-6 3h8m-7-2h8m-8 3h8m-7-7h8m-8 6h8m-6-3h8m-6 3h8m-5-1h8m-4 1h8m-8 3h8m-8-9h8m-7 3h8m-3 1h8m-6-3h8m-8-1h8m-8 3h8m-7-1h8m-7-2h8m-5 6h8m-6-6h8m-4 7h8m1 2h8m-6-8h8m-7 6h8m-8-5h8m-8 6h8m-7-2h8m-2-5h8m-8 0h8m-6 0h8m-6 1h8m-8 7h8m-7-5h8m-7 2h8m-5-5h8m-8 6h8m-5-3h8m-7 0h8m-7 2h8m-8 2h8m-6-8h8m-7 2h8m-4 3h8m-8 3h8m-7-2h8m-8 0h8m-5-5h8m-4 1h8m-2 5h8m-7 0h8m-7 1h8m-6-4h8m-7 5h8m4-5h8m-3-3h8m0 7h8m-3-8h8m-6 0h8m-2 4h8m-5-1h8m-6-3h8m-6 7h8m-6 2h8m-5-6h8m-6 1h8m-8-1h8m-1-3h8m-4 7h8m-8-3h8m-8-1h8m-5-1h8m1 2h8m-3 4h8m-8-5h8m-4 4h8m-1 0h8m-8-3h8m-7 4h8m-5-3h8m-7-4h8m-7 1h8m-1 7h8m-5-6h8m-4 5h8m1-8h8m-6 6h8m0-6h8m-479 14h8m2 3h8m-4 2h8m18-2h8m6 1h8m-2-4h8m-4-4h8m-5 8h8m-4-5h8m-8 2h8m-6 1h8m-5-3h8m-7 1h8m0 0h8m3-1h8m10 5h8m56-2h8m-8-2h8m-8 3h8m-7-4h8m-7 4h8m-8-7h8m-5 7h8m-7 1h8m-6 1h8m-8-7h8m-7 0h8m-8-2h8m-7 4h8m-6 4h8m-8-8h8m-7 4h8m-7-4h8m-8 4h8m-7-1h8m-6-2h8m-8 6h8m-8-7h8m-7 9h8m-7 0h8m-8-3h8m-7 3h8m-6-5h8m-6-2h8m-8 1h8m-8-3h8m-8 3h8m-7 1h8m-8-1h8m-7 5h8m-8-3h8m-7 4h8m-6-4h8m-8-5h8m-5 1h8m-6-1h8m-7 3h8m-8 2h8m-7 4h8m-8-7h8m-8 1h8m-7 6h8m-7-2h8m-3-4h8m-5 2h8m-8 1h8m-8-4h8m-8 2h8m-7 1h8m-8-4h8m-8 1h8m-7 6h8m-7 1h8m-5-1h8m-7-7h8m-7 4h8m-5-5h8m-6 7h8m-6-7h8m-8 8h8m-6-8h8m-7 6h8m-7-3h8m-7-3h8m-5 5h8m-6 3h8m-7-1h8m-7-2h8m-6 2h8m-8-2h8m-7 0h8m-7 4h8m-7-9h8m-8 1h8m-8 8h8m-7-3h8m-7-5h8m-7 6h8m-8-6h8m-7 4h8m-6 2h8m-8 0h8m-8-5h8m-7 2h8m-8-4h8m-7 7h8m-8-1h8m-7 3h8m-7-6h8m-8-3h8m-8 8h8m-5-7h8m-6 1h8m-6 0h8m-6 5h8m-5 0h8m-8-4h8m-6-1h8m-4 4h8m-5 0h8m-8-3h8m-7 2h8m-8 0h8m-7-1h8m-6 0h8m-8 0h8m-7 0h8m-5 5h8m-7-9h8m-8 3h8m-7 6h8m-8-4h8m-8 3h8m-6-2h8m-6-1h8m-5 2h8m-7-3h8m-8 4h8m-5-1h8m-8 1h8m-7 1h8m-6-8h8m-7 1h8m-8 7h8m-6-1h8m-7-8h8m-7 2h8m-6-1h8m-7 5h8m-8 0h8m-8-2h8m-8-3h8m-8 2h8m-6 6h8m-7-1h8m-5 0h8m-8-6h8m-3 6h8m-1 0h8m-7 0h8m-2-4h8m-8-3h8m-4 2h8m-6 6h8m-4-5h8m-4 3h8m-6-3h8m-6-2h8m-6 5h8m-6-4h8m-8 0h8m-2 3h8m-6-2h8m-7-1h8m-7 6h8m-6-4h8m-4 1h8m-8-4h8m-7-1h8m-6 0h8m2 2h8m-6 1h8m-5 3h8m-2-3h8m-5-1h8m-2 6h8m2-6h8m-8 6h8m-8-5h8m-8-1h8m-7-1h8m-8 7h8m-7-6h8m-8 3h8m-7 3h8m-2-2h8m-6 2h8m-5 0h8m-7-5h8m-8 4h8m-8-2h8m-7-1h8m-1 2h8m-7-6h8m-4 0h8m-445 10h8m-1 1h8m11 3h8m4 1h8m-4 3h8m-5 0h8m-7-2h8m-3 2h8m-2-3h8m-4-5h8m1-1h8m-4 5h8m-7 3h8m-7-2h8m0 0h8m-7-3h8m-7 0h8m-5 0h8m2-2h8m-8 3h8m-8 3h8m-6-1h8m-7 0h8m7 2h8m32-2h8m-8 0h8m-8 3h8m-7-4h8m-7 0h8m-8 2h8m-7-7h8m-8 5h8m-8-1h8m-7 0h8m-6 0h8m-7 3h8m-8-7h8m-8 5h8m-6 3h8m-7-6h8m-8 4h8m-7 1h8m-8 2h8m-7-5h8m-7 1h8m-8 3h8m-5 1h8m-8-1h8m-8-7h8m-6-1h8m-7 6h8m-7 3h8m-8 0h8m-8-3h8m-6-6h8m-7 9h8m-7-4h8m-8-3h8m-7 3h8m-6 3h8m-8-1h8m-7-4h8m-7 2h8m-8-4h8m-7 0h8m-6 6h8m-8 0h8m-7-4h8m-7 6h8m-8 0h8m-5-3h8m-8 3h8m-7-8h8m-6 0h8m-8 8h8m-8-6h8m-7 0h8m-3 5h8m-8-4h8m-8 2h8m-7-6h8m-7 7h8m-7-7h8m-8 5h8m-7-5h8m-8 6h8m-7-5h8m-7 5h8m-7-1h8m-5 4h8m-7-5h8m-7 3h8m-8-1h8m-8 2h8m-7-8h8m-7 9h8m-8-3h8m-6 2h8m-8-8h8m-7 4h8m-7 3h8m-8-6h8m-7 1h8m-8 5h8m-7 0h8m-8-5h8m-8 4h8m-8 0h8m-8 1h8m-8-2h8m-7 2h8m-8-1h8m-7-5h8m-7 7h8m-6-6h8m-6-1h8m-8 6h8m-6 0h8m-8-3h8m-7 4h8m-7-2h8m-7 3h8m-8-1h8m-2-6h8m-7 0h8m-6 4h8m-8-6h8m-4 8h8m-7-2h8m-6 3h8m-6-1h8m-7-2h8m-6-4h8m-7-1h8m-5 1h8m-8-2h8m-7 0h8m-8 8h8m-6-8h8m-7 1h8m-8 7h8m-8-8h8m-7 0h8m-8 4h8m-6-4h8m-8 4h8m-6 2h8m-8-5h8m-6 8h8m-8-2h8m-6-2h8m-6-3h8m-5 5h8m-8-1h8m-6 0h8m-8 1h8m-8-1h8m-4 2h8m-7-7h8m-6 5h8m-6-2h8m-6-3h8m-2 2h8m-4 2h8m-7-4h8m-7 2h8m-2 3h8m-6-1h8m-7-2h8m-8 3h8m-7-3h8m-7-2h8m-8 5h8m-7 0h8m-2-4h8m-6-2h8m-2 4h8m1 3h8m-2-2h8m-6 3h8m-7 1h8m-6-8h8m-7 4h8m-5-4h8m-8 0h8m-2 0h8m-6 8h8m-4 0h8m-7-5h8m-7-4h8m-7 8h8m-7-8h8m-2 4h8m-7 4h8m-6-6h8m-7 3h8m-6 4h8m-3-4h8m-4-3h8m-8 2h8m-8 3h8m-7 2h8m-7-6h8m-7-2h8m-8 8h8m-7 0h8m-8-3h8m-5-1h8m-7 1h8m-2-3h8m-7-1h8m-4-2h8m-7 1h8m-5 2h8m-8 2h8m-8 0h8m-6-5h8m-8 8h8m-7-7h8m-8 1h8m-8 0h8m-5 1h8m-8-2h8m-3 1h8m-399 8h8m-7 3h8m-4 2h8m-7 0h8m-4-5h8m-2 3h8m-7 5h8m-7 0h8m-7-8h8m-4 6h8m-4-2h8m-7 1h8m-8 4h8m-5-6h8m-8-2h8m-6 0h8m-1 6h8m-6-2h8m-2 4h8m-6-7h8m-7 3h8m-5-5h8m-7 8h8m-8-5h8m-7 3h8m-8 1h8m-3-1h8m-8-4h8m-5 0h8m-8 5h8m-8 1h8m-6-2h8m-4-3h8m-8-3h8m-7 5h8m-5 1h8m-7 1h8m-4 2h8m32-1h8m-6-1h8m-7-4h8m-8 4h8m-7-4h8m-8 3h8m-7 3h8m-7-9h8m-7 1h8m-5-1h8m-8 0h8m-8 1h8m-8 6h8m-7 2h8m-8-4h8m-6 3h8m-8-1h8m-5-5h8m-8-1h8m-7-1h8m-7 3h8m-8 5h8m-7-7h8m-7 7h8m-8-2h8m-7-6h8m-8 9h8m-8-1h8m-8 0h8m-7 0h8m-8-5h8m-7 0h8m-7 3h8m-8 3h8m-7-3h8m-8-1h8m-6-4h8m-7 2h8m-7-3h8m-6 3h8m-6 3h8m-6 3h8m-7-5h8m-6 0h8m-7 0h8m-8-3h8m-8 1h8m-7 2h8m-8 4h8m-8 1h8m-4-4h8m-8 4h8m-7-2h8m-5-4h8m-7-2h8m-7 6h8m-8-2h8m-6 0h8m-8 1h8m-6-6h8m-3 7h8m-6-3h8m-7-4h8m-5 3h8m-7-1h8m-8 1h8m-7-3h8m-6 3h8m-8 6h8m-7-6h8m-2 5h8m-8-2h8m-6 0h8m-5 3h8m-5-6h8m-6 1h8m-8 3h8m-7-1h8m-7 3h8m-6 0h8m-8-8h8m-6 7h8m-8-8h8m-3 2h8m-6 1h8m-7-1h8m-7 5h8m-8-4h8m-7-2h8m-8 3h8m-8 5h8m-7-3h8m-6-3h8m-8 5h8m-8-2h8m-7-6h8m-7 2h8m-8 2h8m-6-2h8m-6 4h8m-5-2h8m-6-3h8m-8 7h8m-8-8h8m-7 0h8m-8 3h8m-7-3h8m-7 9h8m-7-8h8m-8-1h8m-8 7h8m-7-4h8m-7 3h8m-7-6h8m-8 3h8m-6-2h8m-8 8h8m-7 0h8m-8-2h8m-2 2h8m-7-5h8m-5 3h8m-7-1h8m-5-4h8m-8 0h8m-8 0h8m-7 5h8m-3-6h8m-8 7h8m-5-7h8m-7-1h8m-6 1h8m-8 1h8m-5 0h8m-7 3h8m-2-2h8m-8 5h8m-7 0h8m0-6h8m-6-2h8m-8 5h8m-6 3h8m-8-3h8m-4-1h8m-7 4h8m-7-3h8m-5-4h8m-7 1h8m-4 6h8m-7-1h8m-1-1h8m-7-3h8m-6 2h8m-8 2h8m-7 2h8m-6-5h8m-7-3h8m-6 8h8m-6-7h8m-8-2h8m-4 3h8m-7 0h8m-6 1h8m-2-4h8m0 6h8m-6-5h8m-7-1h8m-8 3h8m-8-1h8m-3-2h8m-5 5h8m-7-3h8m-1-1h8m-3-1h8m-4 0h8m-361 10h8m-7 2h8m-5-1h8m-7 3h8m-5 1h8m-8-4h8m-6 1h8m-7-2h8m-8 6h8m-1 1h8m-7 2h8m-5-4h8m-8 3h8m-7 1h8m-6-6h8m-3 6h8m-8-4h8m-5 4h8m-5 0h8m3 0h8m-8-9h8m-7 9h8m-8-7h8m-5-2h8m-8 6h8m0 2h8m-6 1h8m-6 0h8m0-1h8m10 1h8m-3-4h8m-7 1h8m-7 1h8m-8-7h8m-8 2h8m-7 0h8m-7 1h8m-7 0h8m-7 4h8m-7 2h8m-8-8h8m-7 2h8m-8-2h8m-8 7h8m-7-8h8m-4 8h8m-8-1h8m-5 0h8m-8-6h8m-8-1h8m-8 9h8m-7 0h8m-8-8h8m-7-1h8m-7 7h8m-8-7h8m-7 9h8m-7-8h8m-8 1h8m-8 7h8m-7-5h8m-7-2h8m-4 0h8m-8 4h8m-8 0h8m-5-5h8m-8 1h8m-7-1h8m-5 6h8m-8-4h8m-8-2h8m-7 6h8m-7 1h8m-8-5h8m-7 1h8m-8 0h8m-7-4h8m-5 5h8m-6 3h8m-8-8h8m-7 9h8m-7 0h8m-7 0h8m-8-1h8m-5 0h8m-7-4h8m-8 1h8m-8 4h8m-7-8h8m-7 3h8m-8 4h8m-7 0h8m0-7h8m-7 4h8m-8-5h8m-8 0h8m-7 7h8m-6-1h8m-7-6h8m-7 5h8m-6-5h8m-8 7h8m-7-7h8m-7 5h8m-8 0h8m-6-3h8m-5 4h8m-8-1h8m-7-5h8m-8 5h8m-7 0h8m-8 1h8m-7-2h8m-8-2h8m-5 0h8m-6 1h8m-8 2h8m-8 0h8m-7-5h8m-7 2h8m-7-2h8m-7 5h8m-7 0h8m-6 4h8m-6-8h8m-8 0h8m-7-1h8m-7 2h8m-4-2h8m-7 0h8m-7 3h8m-8 2h8m-3-2h8m-7-3h8m-3 3h8m-7-2h8m-7 4h8m-8 3h8m-7-3h8m-4 4h8m-8-8h8m-7 6h8m-7-5h8m-6 1h8m-7-3h8m-7 6h8m-7-1h8m-8 2h8m-8-2h8m1 1h8m-8-1h8m-8-1h8m-5 1h8m-6 0h8m-8 4h8m-8-1h8m-5 0h8m-8-7h8m-7 3h8m-7 3h8m-8-6h8m-7 3h8m-8 2h8m-6-5h8m-6 5h8m-5 0h8m-8-4h8m-7 1h8m-5 5h8m-7 0h8m-8 0h8m-7-3h8m-8-5h8m-7 1h8m-7-1h8m-4 6h8m-7-6h8m-7 0h8m-5 7h8m-7-1h8m-8-1h8m-7 2h8m-8-2h8m-6 4h8m-7-8h8m-7 4h8m-7-2h8m-8 4h8m-6 0h8m-8-2h8m-6-3h8m-7-1h8m-8 4h8m-4-4h8m-8 5h8m-7 2h8m-4-8h8m-4 1h8m0 1h8m-7 1h8m-2-1h8m-6 0h8m-5 0h8m-7-1h8m-295 10h8m-6-1h8m-7 1h8m-7 0h8m-7 0h8m-6 2h8m-6-1h8m-7 2h8m-6 2h8m-8-5h8m-5 1h8m-6 3h8m-6-5h8m-7 2h8m-8 3h8m-6-1h8m-8-3h8m-7 0h8m-6 7h8m-8 0h8m-7-3h8m-5 4h8m-4-8h8m-8 4h8m-7-4h8m-8 4h8m-8-2h8m-8 1h8m-6 5h8m-8-4h8m-6 2h8m-5 0h8m-7-1h8m19 1h8m-7 1h8m-6 0h8m-8-2h8m-8 3h8m-8-9h8m-7 5h8m-8 4h8m-7-7h8m-8-2h8m-7 1h8m-7 6h8m-8-3h8m-8-1h8m-7-1h8m-7 1h8m-8 4h8m-6 2h8m-8-6h8m-7 1h8m-7-1h8m-7 3h8m-5 3h8m-7 0h8m-7-3h8m-7-1h8m-7 1h8m-8-6h8m-8 9h8m-7-4h8m-8-1h8m-8 0h8m-8 5h8m-7-3h8m-7-6h8m-8 3h8m-8 5h8m-6-7h8m-4 5h8m-8-3h8m-7-1h8m-6-1h8m-8-1h8m-5 4h8m-6 5h8m-8 0h8m-8-3h8m-6 3h8m-7-8h8m-7 2h8m-6 1h8m-8-4h8m-7 1h8m-8 2h8m-8 6h8m-8 0h8m-6-8h8m-8 3h8m-3 3h8m-5-1h8m-8-1h8m-7-4h8m-8-1h8m-7 6h8m-8-6h8m-8 2h8m-7 2h8m-8 1h8m-7 2h8m-6 1h8m-7-1h8m-6 0h8m-8 2h8m-6-4h8m-8 4h8m-7-5h8m-8-1h8m-7 6h8m-7-2h8m-7-3h8m-6 0h8m-6 2h8m-7-2h8m-6-4h8m-7 4h8m-8 2h8m-7-5h8m-6 1h8m-8 0h8m-7 7h8m-6-6h8m-7 4h8m-8-3h8m-1 4h8m-7-7h8m-7 0h8m-8 3h8m-8-3h8m-8 1h8m-6-1h8m-8-1h8m-7 9h8m-7-9h8m-7 4h8m-7 4h8m-8 0h8m-8-3h8m-5 0h8m-8-4h8m-7 6h8m-8-7h8m-7 6h8m-8-4h8m-7 1h8m-4 4h8m-7-3h8m-7 0h8m-6 2h8m-5-1h8m-6 3h8m-7-4h8m-6 2h8m-8 2h8m-7-2h8m-8 3h8m-8-5h8m-7 5h8m-8-1h8m-7-3h8m-4 4h8m-7-7h8m-8 4h8m-7 0h8m-5 1h8m-8 1h8m-1-5h8m-1 1h8m-3-2h8m0-1h8m-7 0h8m-7 4h8m-2-5h8m-6 3h8m-217 9h8m-7 2h8m-8 0h8m-8-3h8m-7 0h8m-4 5h8m-6-2h8m-8-2h8m-7-1h8m-8 6h8m-5 0h8m-8 0h8m-7-1h8m-7 2h8m-8-4h8m-6 5h8m-6-2h8m-7-5h8m-7 6h8m5 0h8m-6-3h8m-8 4h8m-7-9h8m-6 1h8m-8 4h8m-7-4h8m-8 0h8m-7 3h8m-3-3h8m-6 3h8m-8 1h8m-8 2h8m-7-1h8m-8 1h8m-5 0h8m-5-1h8m-7-6h8m-7 7h8m-6 0h8m-8-7h8m-7 8h8m-8-8h8m-6 4h8m-8-1h8m-8 4h8m-8-4h8m-7-1h8m-8 0h8m-7-1h8m-4 5h8m-6 0h8m-8-6h8m-8 7h8m-7 0h8m-7-2h8m-5-1h8m-7-2h8m-8 4h8m-6-4h8m-8 4h8m-8-2h8m-7-4h8m-4 4h8m-7 1h8m-7-1h8m-7-1h8m-5 0h8m-7 3h8m-5 0h8m-6-2h8m-7 3h8m-6-7h8m-8 8h8m-7 1h8m-8-7h8m-7 5h8m-4 1h8m-4-3h8m-7-4h8m-6 4h8m-7 1h8m-7 1h8m-8-1h8m-3-4h8m-7 1h8m-8 3h8m-6-1h8m-6 1h8m-8-2h8m-7-2h8m-5 0h8m-3-2h8m-2 3h8m-5 0h8m-5-3h8m3 0h8m-141 12h8m-6-2h8m-1 3h8m-7 1h8m-7-2h8m-6-1h8m-8 0h8m-8 2h8m-4 2h8m-6-1h8m-7-1h8m-8-2h8m-8 1h8m-6 2h8m-8-4h8m-8 4h8m-8-1h8m4-2h8m-8 2h8m-6-2h8m-7-1h8m-4 1h8m-7 2h8m-6-1h8m-2-2h8m-8 0h8m0 0h8m-5 0h8m-8 1h8" stroke="#000" stroke-width="8" stroke-opacity="1" fill="none"/></svg>
</body></html>
